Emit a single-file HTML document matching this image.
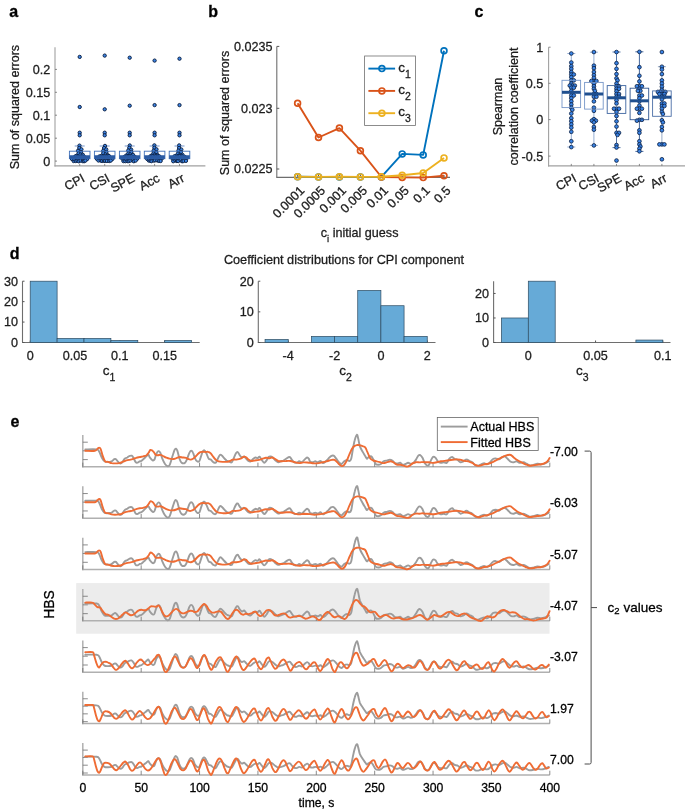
<!DOCTYPE html>
<html lang="en"><head><meta charset="utf-8"><title>Figure</title>
<style>html,body{margin:0;padding:0;background:#fff;}svg{display:block;}</style></head>
<body>
<svg width="685" height="810" viewBox="0 0 685 810" font-family="'Liberation Sans', Arial, Helvetica, sans-serif">
<rect width="685" height="810" fill="#fff"/>
<text x="9.30" y="16.70" font-size="16" text-anchor="start" fill="#000" stroke="#000" stroke-width="0.3" font-weight="bold" >a</text>
<text x="208.30" y="16.70" font-size="16" text-anchor="start" fill="#000" stroke="#000" stroke-width="0.3" font-weight="bold" >b</text>
<text x="474.60" y="16.70" font-size="16" text-anchor="start" fill="#000" stroke="#000" stroke-width="0.3" font-weight="bold" >c</text>
<text x="9.80" y="259.20" font-size="16" text-anchor="start" fill="#000" stroke="#000" stroke-width="0.3" font-weight="bold" >d</text>
<text x="10.40" y="426.80" font-size="16" text-anchor="start" fill="#000" stroke="#000" stroke-width="0.3" font-weight="bold" >e</text>
<line x1="55.00" y1="47.20" x2="55.00" y2="166.40" stroke="#a0a0a0" stroke-width="1.1" />
<line x1="54.50" y1="165.90" x2="205.40" y2="165.90" stroke="#a0a0a0" stroke-width="1.1" />
<line x1="55.00" y1="69.40" x2="57.00" y2="69.40" stroke="#6e6e6e" stroke-width="0.8" />
<text x="50.30" y="73.80" font-size="12.6" text-anchor="end" fill="#1c1c1c" stroke="#1c1c1c" stroke-width="0.28" >0.2</text>
<line x1="55.00" y1="92.30" x2="57.00" y2="92.30" stroke="#6e6e6e" stroke-width="0.8" />
<text x="50.30" y="96.70" font-size="12.6" text-anchor="end" fill="#1c1c1c" stroke="#1c1c1c" stroke-width="0.28" >0.15</text>
<line x1="55.00" y1="115.20" x2="57.00" y2="115.20" stroke="#6e6e6e" stroke-width="0.8" />
<text x="50.30" y="119.60" font-size="12.6" text-anchor="end" fill="#1c1c1c" stroke="#1c1c1c" stroke-width="0.28" >0.1</text>
<line x1="55.00" y1="138.20" x2="57.00" y2="138.20" stroke="#6e6e6e" stroke-width="0.8" />
<text x="50.30" y="142.60" font-size="12.6" text-anchor="end" fill="#1c1c1c" stroke="#1c1c1c" stroke-width="0.28" >0.05</text>
<line x1="55.00" y1="161.10" x2="57.00" y2="161.10" stroke="#6e6e6e" stroke-width="0.8" />
<text x="50.30" y="165.50" font-size="12.6" text-anchor="end" fill="#1c1c1c" stroke="#1c1c1c" stroke-width="0.28" >0</text>
<text x="19.50" y="107.10" font-size="12.5" text-anchor="middle" fill="#1c1c1c" stroke="#1c1c1c" stroke-width="0.28" transform="rotate(-90 19.50 107.10)" >Sum of squared errors</text>
<line x1="79.70" y1="165.90" x2="79.70" y2="163.90" stroke="#6e6e6e" stroke-width="0.8" />
<text x="85.70" y="180.80" font-size="12.6" text-anchor="end" fill="#1c1c1c" stroke="#1c1c1c" stroke-width="0.28" transform="rotate(-28 85.70 180.80)" >CPI</text>
<line x1="79.70" y1="151.00" x2="79.70" y2="146.00" stroke="#a9bfe0" stroke-width="0.9" />
<line x1="74.70" y1="146.00" x2="84.70" y2="146.00" stroke="#a9bfe0" stroke-width="1.6" />
<circle cx="79.70" cy="56.90" r="1.65" fill="#3a84e6" stroke="#0e2347" stroke-width="1.0"/>
<circle cx="79.70" cy="107.00" r="1.65" fill="#3a84e6" stroke="#0e2347" stroke-width="1.0"/>
<circle cx="79.70" cy="132.70" r="1.65" fill="#3a84e6" stroke="#0e2347" stroke-width="1.0"/>
<circle cx="79.70" cy="135.30" r="1.65" fill="#3a84e6" stroke="#0e2347" stroke-width="1.0"/>
<circle cx="79.49" cy="145.63" r="1.65" fill="#3a84e6" stroke="#0e2347" stroke-width="1.0"/>
<circle cx="79.30" cy="147.96" r="1.65" fill="#3a84e6" stroke="#0e2347" stroke-width="1.0"/>
<circle cx="81.40" cy="149.34" r="1.65" fill="#3a84e6" stroke="#0e2347" stroke-width="1.0"/>
<circle cx="78.01" cy="150.80" r="1.65" fill="#3a84e6" stroke="#0e2347" stroke-width="1.0"/>
<circle cx="80.91" cy="152.04" r="1.65" fill="#3a84e6" stroke="#0e2347" stroke-width="1.0"/>
<circle cx="78.60" cy="153.38" r="1.65" fill="#3a84e6" stroke="#0e2347" stroke-width="1.0"/>
<circle cx="80.57" cy="154.59" r="1.65" fill="#3a84e6" stroke="#0e2347" stroke-width="1.0"/>
<circle cx="82.81" cy="154.79" r="1.65" fill="#3a84e6" stroke="#0e2347" stroke-width="1.0"/>
<circle cx="76.61" cy="155.82" r="1.65" fill="#3a84e6" stroke="#0e2347" stroke-width="1.0"/>
<circle cx="75.13" cy="156.62" r="1.65" fill="#3a84e6" stroke="#0e2347" stroke-width="1.0"/>
<circle cx="72.00" cy="158.97" r="1.65" fill="#3a84e6" stroke="#0e2347" stroke-width="1.0"/>
<circle cx="73.67" cy="161.06" r="1.65" fill="#3a84e6" stroke="#0e2347" stroke-width="1.0"/>
<circle cx="75.79" cy="156.40" r="1.65" fill="#3a84e6" stroke="#0e2347" stroke-width="1.0"/>
<circle cx="74.49" cy="159.17" r="1.65" fill="#3a84e6" stroke="#0e2347" stroke-width="1.0"/>
<circle cx="75.70" cy="161.02" r="1.65" fill="#3a84e6" stroke="#0e2347" stroke-width="1.0"/>
<circle cx="78.06" cy="156.81" r="1.65" fill="#3a84e6" stroke="#0e2347" stroke-width="1.0"/>
<circle cx="76.89" cy="158.69" r="1.65" fill="#3a84e6" stroke="#0e2347" stroke-width="1.0"/>
<circle cx="77.51" cy="160.74" r="1.65" fill="#3a84e6" stroke="#0e2347" stroke-width="1.0"/>
<circle cx="78.61" cy="156.98" r="1.65" fill="#3a84e6" stroke="#0e2347" stroke-width="1.0"/>
<circle cx="78.38" cy="158.44" r="1.65" fill="#3a84e6" stroke="#0e2347" stroke-width="1.0"/>
<circle cx="78.76" cy="161.27" r="1.65" fill="#3a84e6" stroke="#0e2347" stroke-width="1.0"/>
<circle cx="80.19" cy="156.73" r="1.65" fill="#3a84e6" stroke="#0e2347" stroke-width="1.0"/>
<circle cx="80.62" cy="158.81" r="1.65" fill="#3a84e6" stroke="#0e2347" stroke-width="1.0"/>
<circle cx="80.66" cy="160.65" r="1.65" fill="#3a84e6" stroke="#0e2347" stroke-width="1.0"/>
<circle cx="82.17" cy="156.68" r="1.65" fill="#3a84e6" stroke="#0e2347" stroke-width="1.0"/>
<circle cx="83.24" cy="158.98" r="1.65" fill="#3a84e6" stroke="#0e2347" stroke-width="1.0"/>
<circle cx="82.82" cy="161.16" r="1.65" fill="#3a84e6" stroke="#0e2347" stroke-width="1.0"/>
<circle cx="82.80" cy="156.77" r="1.65" fill="#3a84e6" stroke="#0e2347" stroke-width="1.0"/>
<circle cx="85.35" cy="159.16" r="1.65" fill="#3a84e6" stroke="#0e2347" stroke-width="1.0"/>
<circle cx="84.14" cy="161.20" r="1.65" fill="#3a84e6" stroke="#0e2347" stroke-width="1.0"/>
<circle cx="84.22" cy="156.81" r="1.65" fill="#3a84e6" stroke="#0e2347" stroke-width="1.0"/>
<circle cx="87.04" cy="159.13" r="1.65" fill="#3a84e6" stroke="#0e2347" stroke-width="1.0"/>
<circle cx="85.39" cy="160.58" r="1.65" fill="#3a84e6" stroke="#0e2347" stroke-width="1.0"/>
<rect x="69.40" y="151.2" width="20.6" height="7.5" fill="none" stroke="#3f6fb8" stroke-width="0.9"/>
<line x1="69.40" y1="157.00" x2="90.00" y2="157.00" stroke="#2a5aa3" stroke-width="3.5" />
<line x1="104.70" y1="165.90" x2="104.70" y2="163.90" stroke="#6e6e6e" stroke-width="0.8" />
<text x="110.70" y="180.80" font-size="12.6" text-anchor="end" fill="#1c1c1c" stroke="#1c1c1c" stroke-width="0.28" transform="rotate(-28 110.70 180.80)" >CSI</text>
<line x1="104.70" y1="151.00" x2="104.70" y2="146.00" stroke="#a9bfe0" stroke-width="0.9" />
<line x1="99.70" y1="146.00" x2="109.70" y2="146.00" stroke="#a9bfe0" stroke-width="1.6" />
<circle cx="104.70" cy="55.60" r="1.65" fill="#3a84e6" stroke="#0e2347" stroke-width="1.0"/>
<circle cx="104.70" cy="109.30" r="1.65" fill="#3a84e6" stroke="#0e2347" stroke-width="1.0"/>
<circle cx="104.70" cy="132.70" r="1.65" fill="#3a84e6" stroke="#0e2347" stroke-width="1.0"/>
<circle cx="104.70" cy="135.30" r="1.65" fill="#3a84e6" stroke="#0e2347" stroke-width="1.0"/>
<circle cx="104.98" cy="145.89" r="1.65" fill="#3a84e6" stroke="#0e2347" stroke-width="1.0"/>
<circle cx="104.07" cy="148.08" r="1.65" fill="#3a84e6" stroke="#0e2347" stroke-width="1.0"/>
<circle cx="106.23" cy="149.39" r="1.65" fill="#3a84e6" stroke="#0e2347" stroke-width="1.0"/>
<circle cx="103.24" cy="150.76" r="1.65" fill="#3a84e6" stroke="#0e2347" stroke-width="1.0"/>
<circle cx="106.40" cy="151.93" r="1.65" fill="#3a84e6" stroke="#0e2347" stroke-width="1.0"/>
<circle cx="103.29" cy="153.13" r="1.65" fill="#3a84e6" stroke="#0e2347" stroke-width="1.0"/>
<circle cx="105.47" cy="154.50" r="1.65" fill="#3a84e6" stroke="#0e2347" stroke-width="1.0"/>
<circle cx="108.00" cy="155.29" r="1.65" fill="#3a84e6" stroke="#0e2347" stroke-width="1.0"/>
<circle cx="101.50" cy="155.90" r="1.65" fill="#3a84e6" stroke="#0e2347" stroke-width="1.0"/>
<circle cx="99.46" cy="156.41" r="1.65" fill="#3a84e6" stroke="#0e2347" stroke-width="1.0"/>
<circle cx="96.97" cy="158.90" r="1.65" fill="#3a84e6" stroke="#0e2347" stroke-width="1.0"/>
<circle cx="98.48" cy="160.50" r="1.65" fill="#3a84e6" stroke="#0e2347" stroke-width="1.0"/>
<circle cx="100.92" cy="156.71" r="1.65" fill="#3a84e6" stroke="#0e2347" stroke-width="1.0"/>
<circle cx="99.88" cy="158.34" r="1.65" fill="#3a84e6" stroke="#0e2347" stroke-width="1.0"/>
<circle cx="100.78" cy="160.61" r="1.65" fill="#3a84e6" stroke="#0e2347" stroke-width="1.0"/>
<circle cx="102.52" cy="157.00" r="1.65" fill="#3a84e6" stroke="#0e2347" stroke-width="1.0"/>
<circle cx="101.61" cy="158.76" r="1.65" fill="#3a84e6" stroke="#0e2347" stroke-width="1.0"/>
<circle cx="102.17" cy="160.94" r="1.65" fill="#3a84e6" stroke="#0e2347" stroke-width="1.0"/>
<circle cx="104.13" cy="156.66" r="1.65" fill="#3a84e6" stroke="#0e2347" stroke-width="1.0"/>
<circle cx="103.67" cy="159.24" r="1.65" fill="#3a84e6" stroke="#0e2347" stroke-width="1.0"/>
<circle cx="104.05" cy="160.73" r="1.65" fill="#3a84e6" stroke="#0e2347" stroke-width="1.0"/>
<circle cx="105.19" cy="156.34" r="1.65" fill="#3a84e6" stroke="#0e2347" stroke-width="1.0"/>
<circle cx="105.76" cy="159.28" r="1.65" fill="#3a84e6" stroke="#0e2347" stroke-width="1.0"/>
<circle cx="105.09" cy="160.85" r="1.65" fill="#3a84e6" stroke="#0e2347" stroke-width="1.0"/>
<circle cx="106.84" cy="156.52" r="1.65" fill="#3a84e6" stroke="#0e2347" stroke-width="1.0"/>
<circle cx="107.93" cy="158.32" r="1.65" fill="#3a84e6" stroke="#0e2347" stroke-width="1.0"/>
<circle cx="106.89" cy="160.93" r="1.65" fill="#3a84e6" stroke="#0e2347" stroke-width="1.0"/>
<circle cx="108.10" cy="156.73" r="1.65" fill="#3a84e6" stroke="#0e2347" stroke-width="1.0"/>
<circle cx="109.74" cy="158.98" r="1.65" fill="#3a84e6" stroke="#0e2347" stroke-width="1.0"/>
<circle cx="109.31" cy="161.01" r="1.65" fill="#3a84e6" stroke="#0e2347" stroke-width="1.0"/>
<circle cx="109.07" cy="156.12" r="1.65" fill="#3a84e6" stroke="#0e2347" stroke-width="1.0"/>
<circle cx="112.43" cy="158.98" r="1.65" fill="#3a84e6" stroke="#0e2347" stroke-width="1.0"/>
<circle cx="110.78" cy="160.55" r="1.65" fill="#3a84e6" stroke="#0e2347" stroke-width="1.0"/>
<rect x="94.40" y="151.2" width="20.6" height="7.5" fill="none" stroke="#3f6fb8" stroke-width="0.9"/>
<line x1="94.40" y1="157.00" x2="115.00" y2="157.00" stroke="#2a5aa3" stroke-width="3.5" />
<line x1="129.70" y1="165.90" x2="129.70" y2="163.90" stroke="#6e6e6e" stroke-width="0.8" />
<text x="135.70" y="180.80" font-size="12.6" text-anchor="end" fill="#1c1c1c" stroke="#1c1c1c" stroke-width="0.28" transform="rotate(-28 135.70 180.80)" >SPE</text>
<line x1="129.70" y1="151.00" x2="129.70" y2="146.00" stroke="#a9bfe0" stroke-width="0.9" />
<line x1="124.70" y1="146.00" x2="134.70" y2="146.00" stroke="#a9bfe0" stroke-width="1.6" />
<circle cx="129.70" cy="57.70" r="1.65" fill="#3a84e6" stroke="#0e2347" stroke-width="1.0"/>
<circle cx="129.70" cy="105.70" r="1.65" fill="#3a84e6" stroke="#0e2347" stroke-width="1.0"/>
<circle cx="129.70" cy="132.70" r="1.65" fill="#3a84e6" stroke="#0e2347" stroke-width="1.0"/>
<circle cx="129.70" cy="135.30" r="1.65" fill="#3a84e6" stroke="#0e2347" stroke-width="1.0"/>
<circle cx="129.77" cy="145.49" r="1.65" fill="#3a84e6" stroke="#0e2347" stroke-width="1.0"/>
<circle cx="129.29" cy="147.79" r="1.65" fill="#3a84e6" stroke="#0e2347" stroke-width="1.0"/>
<circle cx="131.20" cy="149.66" r="1.65" fill="#3a84e6" stroke="#0e2347" stroke-width="1.0"/>
<circle cx="128.24" cy="150.53" r="1.65" fill="#3a84e6" stroke="#0e2347" stroke-width="1.0"/>
<circle cx="131.32" cy="151.92" r="1.65" fill="#3a84e6" stroke="#0e2347" stroke-width="1.0"/>
<circle cx="128.26" cy="153.54" r="1.65" fill="#3a84e6" stroke="#0e2347" stroke-width="1.0"/>
<circle cx="130.15" cy="154.43" r="1.65" fill="#3a84e6" stroke="#0e2347" stroke-width="1.0"/>
<circle cx="132.94" cy="154.84" r="1.65" fill="#3a84e6" stroke="#0e2347" stroke-width="1.0"/>
<circle cx="126.25" cy="155.56" r="1.65" fill="#3a84e6" stroke="#0e2347" stroke-width="1.0"/>
<circle cx="124.49" cy="156.80" r="1.65" fill="#3a84e6" stroke="#0e2347" stroke-width="1.0"/>
<circle cx="122.27" cy="158.62" r="1.65" fill="#3a84e6" stroke="#0e2347" stroke-width="1.0"/>
<circle cx="123.51" cy="161.13" r="1.65" fill="#3a84e6" stroke="#0e2347" stroke-width="1.0"/>
<circle cx="125.93" cy="156.96" r="1.65" fill="#3a84e6" stroke="#0e2347" stroke-width="1.0"/>
<circle cx="124.66" cy="158.64" r="1.65" fill="#3a84e6" stroke="#0e2347" stroke-width="1.0"/>
<circle cx="125.28" cy="161.18" r="1.65" fill="#3a84e6" stroke="#0e2347" stroke-width="1.0"/>
<circle cx="127.26" cy="156.33" r="1.65" fill="#3a84e6" stroke="#0e2347" stroke-width="1.0"/>
<circle cx="126.28" cy="158.83" r="1.65" fill="#3a84e6" stroke="#0e2347" stroke-width="1.0"/>
<circle cx="127.41" cy="161.11" r="1.65" fill="#3a84e6" stroke="#0e2347" stroke-width="1.0"/>
<circle cx="128.79" cy="156.28" r="1.65" fill="#3a84e6" stroke="#0e2347" stroke-width="1.0"/>
<circle cx="128.80" cy="159.11" r="1.65" fill="#3a84e6" stroke="#0e2347" stroke-width="1.0"/>
<circle cx="128.67" cy="161.11" r="1.65" fill="#3a84e6" stroke="#0e2347" stroke-width="1.0"/>
<circle cx="130.18" cy="156.23" r="1.65" fill="#3a84e6" stroke="#0e2347" stroke-width="1.0"/>
<circle cx="130.51" cy="159.09" r="1.65" fill="#3a84e6" stroke="#0e2347" stroke-width="1.0"/>
<circle cx="130.49" cy="160.65" r="1.65" fill="#3a84e6" stroke="#0e2347" stroke-width="1.0"/>
<circle cx="131.67" cy="156.52" r="1.65" fill="#3a84e6" stroke="#0e2347" stroke-width="1.0"/>
<circle cx="132.47" cy="159.22" r="1.65" fill="#3a84e6" stroke="#0e2347" stroke-width="1.0"/>
<circle cx="132.77" cy="160.30" r="1.65" fill="#3a84e6" stroke="#0e2347" stroke-width="1.0"/>
<circle cx="133.62" cy="156.98" r="1.65" fill="#3a84e6" stroke="#0e2347" stroke-width="1.0"/>
<circle cx="135.34" cy="158.73" r="1.65" fill="#3a84e6" stroke="#0e2347" stroke-width="1.0"/>
<circle cx="133.80" cy="161.23" r="1.65" fill="#3a84e6" stroke="#0e2347" stroke-width="1.0"/>
<circle cx="134.85" cy="156.85" r="1.65" fill="#3a84e6" stroke="#0e2347" stroke-width="1.0"/>
<circle cx="136.98" cy="158.96" r="1.65" fill="#3a84e6" stroke="#0e2347" stroke-width="1.0"/>
<circle cx="135.67" cy="160.59" r="1.65" fill="#3a84e6" stroke="#0e2347" stroke-width="1.0"/>
<rect x="119.40" y="151.2" width="20.6" height="7.5" fill="none" stroke="#3f6fb8" stroke-width="0.9"/>
<line x1="119.40" y1="157.00" x2="140.00" y2="157.00" stroke="#2a5aa3" stroke-width="3.5" />
<line x1="154.60" y1="165.90" x2="154.60" y2="163.90" stroke="#6e6e6e" stroke-width="0.8" />
<text x="160.60" y="180.80" font-size="12.6" text-anchor="end" fill="#1c1c1c" stroke="#1c1c1c" stroke-width="0.28" transform="rotate(-28 160.60 180.80)" >Acc</text>
<line x1="154.60" y1="151.00" x2="154.60" y2="146.00" stroke="#a9bfe0" stroke-width="0.9" />
<line x1="149.60" y1="146.00" x2="159.60" y2="146.00" stroke="#a9bfe0" stroke-width="1.6" />
<circle cx="154.60" cy="60.60" r="1.65" fill="#3a84e6" stroke="#0e2347" stroke-width="1.0"/>
<circle cx="154.60" cy="105.10" r="1.65" fill="#3a84e6" stroke="#0e2347" stroke-width="1.0"/>
<circle cx="154.60" cy="132.70" r="1.65" fill="#3a84e6" stroke="#0e2347" stroke-width="1.0"/>
<circle cx="154.60" cy="135.30" r="1.65" fill="#3a84e6" stroke="#0e2347" stroke-width="1.0"/>
<circle cx="154.38" cy="145.34" r="1.65" fill="#3a84e6" stroke="#0e2347" stroke-width="1.0"/>
<circle cx="154.37" cy="147.77" r="1.65" fill="#3a84e6" stroke="#0e2347" stroke-width="1.0"/>
<circle cx="156.45" cy="149.33" r="1.65" fill="#3a84e6" stroke="#0e2347" stroke-width="1.0"/>
<circle cx="153.62" cy="150.72" r="1.65" fill="#3a84e6" stroke="#0e2347" stroke-width="1.0"/>
<circle cx="156.34" cy="152.44" r="1.65" fill="#3a84e6" stroke="#0e2347" stroke-width="1.0"/>
<circle cx="153.42" cy="153.45" r="1.65" fill="#3a84e6" stroke="#0e2347" stroke-width="1.0"/>
<circle cx="154.81" cy="154.75" r="1.65" fill="#3a84e6" stroke="#0e2347" stroke-width="1.0"/>
<circle cx="157.34" cy="154.88" r="1.65" fill="#3a84e6" stroke="#0e2347" stroke-width="1.0"/>
<circle cx="151.53" cy="155.61" r="1.65" fill="#3a84e6" stroke="#0e2347" stroke-width="1.0"/>
<circle cx="150.23" cy="156.51" r="1.65" fill="#3a84e6" stroke="#0e2347" stroke-width="1.0"/>
<circle cx="147.18" cy="158.91" r="1.65" fill="#3a84e6" stroke="#0e2347" stroke-width="1.0"/>
<circle cx="148.84" cy="160.55" r="1.65" fill="#3a84e6" stroke="#0e2347" stroke-width="1.0"/>
<circle cx="151.44" cy="156.58" r="1.65" fill="#3a84e6" stroke="#0e2347" stroke-width="1.0"/>
<circle cx="149.11" cy="158.65" r="1.65" fill="#3a84e6" stroke="#0e2347" stroke-width="1.0"/>
<circle cx="150.54" cy="160.83" r="1.65" fill="#3a84e6" stroke="#0e2347" stroke-width="1.0"/>
<circle cx="152.83" cy="156.27" r="1.65" fill="#3a84e6" stroke="#0e2347" stroke-width="1.0"/>
<circle cx="151.79" cy="159.22" r="1.65" fill="#3a84e6" stroke="#0e2347" stroke-width="1.0"/>
<circle cx="151.48" cy="161.12" r="1.65" fill="#3a84e6" stroke="#0e2347" stroke-width="1.0"/>
<circle cx="154.28" cy="156.73" r="1.65" fill="#3a84e6" stroke="#0e2347" stroke-width="1.0"/>
<circle cx="153.33" cy="158.35" r="1.65" fill="#3a84e6" stroke="#0e2347" stroke-width="1.0"/>
<circle cx="153.75" cy="160.57" r="1.65" fill="#3a84e6" stroke="#0e2347" stroke-width="1.0"/>
<circle cx="155.26" cy="156.52" r="1.65" fill="#3a84e6" stroke="#0e2347" stroke-width="1.0"/>
<circle cx="155.14" cy="159.08" r="1.65" fill="#3a84e6" stroke="#0e2347" stroke-width="1.0"/>
<circle cx="155.10" cy="160.35" r="1.65" fill="#3a84e6" stroke="#0e2347" stroke-width="1.0"/>
<circle cx="156.23" cy="156.22" r="1.65" fill="#3a84e6" stroke="#0e2347" stroke-width="1.0"/>
<circle cx="158.07" cy="159.27" r="1.65" fill="#3a84e6" stroke="#0e2347" stroke-width="1.0"/>
<circle cx="157.23" cy="160.39" r="1.65" fill="#3a84e6" stroke="#0e2347" stroke-width="1.0"/>
<circle cx="157.85" cy="156.42" r="1.65" fill="#3a84e6" stroke="#0e2347" stroke-width="1.0"/>
<circle cx="159.93" cy="158.65" r="1.65" fill="#3a84e6" stroke="#0e2347" stroke-width="1.0"/>
<circle cx="158.84" cy="160.89" r="1.65" fill="#3a84e6" stroke="#0e2347" stroke-width="1.0"/>
<circle cx="159.24" cy="156.29" r="1.65" fill="#3a84e6" stroke="#0e2347" stroke-width="1.0"/>
<circle cx="161.92" cy="158.42" r="1.65" fill="#3a84e6" stroke="#0e2347" stroke-width="1.0"/>
<circle cx="160.61" cy="161.02" r="1.65" fill="#3a84e6" stroke="#0e2347" stroke-width="1.0"/>
<rect x="144.30" y="151.2" width="20.6" height="7.5" fill="none" stroke="#3f6fb8" stroke-width="0.9"/>
<line x1="144.30" y1="157.00" x2="164.90" y2="157.00" stroke="#2a5aa3" stroke-width="3.5" />
<line x1="179.50" y1="165.90" x2="179.50" y2="163.90" stroke="#6e6e6e" stroke-width="0.8" />
<text x="185.50" y="180.80" font-size="12.6" text-anchor="end" fill="#1c1c1c" stroke="#1c1c1c" stroke-width="0.28" transform="rotate(-28 185.50 180.80)" >Arr</text>
<line x1="179.50" y1="151.00" x2="179.50" y2="146.00" stroke="#a9bfe0" stroke-width="0.9" />
<line x1="174.50" y1="146.00" x2="184.50" y2="146.00" stroke="#a9bfe0" stroke-width="1.6" />
<circle cx="179.50" cy="58.70" r="1.65" fill="#3a84e6" stroke="#0e2347" stroke-width="1.0"/>
<circle cx="179.50" cy="105.10" r="1.65" fill="#3a84e6" stroke="#0e2347" stroke-width="1.0"/>
<circle cx="179.50" cy="132.70" r="1.65" fill="#3a84e6" stroke="#0e2347" stroke-width="1.0"/>
<circle cx="179.50" cy="135.30" r="1.65" fill="#3a84e6" stroke="#0e2347" stroke-width="1.0"/>
<circle cx="179.16" cy="145.41" r="1.65" fill="#3a84e6" stroke="#0e2347" stroke-width="1.0"/>
<circle cx="179.10" cy="147.96" r="1.65" fill="#3a84e6" stroke="#0e2347" stroke-width="1.0"/>
<circle cx="181.33" cy="149.53" r="1.65" fill="#3a84e6" stroke="#0e2347" stroke-width="1.0"/>
<circle cx="178.44" cy="150.67" r="1.65" fill="#3a84e6" stroke="#0e2347" stroke-width="1.0"/>
<circle cx="180.85" cy="152.12" r="1.65" fill="#3a84e6" stroke="#0e2347" stroke-width="1.0"/>
<circle cx="178.00" cy="153.52" r="1.65" fill="#3a84e6" stroke="#0e2347" stroke-width="1.0"/>
<circle cx="180.04" cy="154.72" r="1.65" fill="#3a84e6" stroke="#0e2347" stroke-width="1.0"/>
<circle cx="182.47" cy="154.85" r="1.65" fill="#3a84e6" stroke="#0e2347" stroke-width="1.0"/>
<circle cx="176.33" cy="155.72" r="1.65" fill="#3a84e6" stroke="#0e2347" stroke-width="1.0"/>
<circle cx="174.61" cy="156.17" r="1.65" fill="#3a84e6" stroke="#0e2347" stroke-width="1.0"/>
<circle cx="172.62" cy="158.73" r="1.65" fill="#3a84e6" stroke="#0e2347" stroke-width="1.0"/>
<circle cx="173.25" cy="161.24" r="1.65" fill="#3a84e6" stroke="#0e2347" stroke-width="1.0"/>
<circle cx="176.35" cy="157.00" r="1.65" fill="#3a84e6" stroke="#0e2347" stroke-width="1.0"/>
<circle cx="174.28" cy="158.56" r="1.65" fill="#3a84e6" stroke="#0e2347" stroke-width="1.0"/>
<circle cx="175.44" cy="160.42" r="1.65" fill="#3a84e6" stroke="#0e2347" stroke-width="1.0"/>
<circle cx="177.82" cy="156.76" r="1.65" fill="#3a84e6" stroke="#0e2347" stroke-width="1.0"/>
<circle cx="176.56" cy="159.09" r="1.65" fill="#3a84e6" stroke="#0e2347" stroke-width="1.0"/>
<circle cx="176.94" cy="161.03" r="1.65" fill="#3a84e6" stroke="#0e2347" stroke-width="1.0"/>
<circle cx="178.90" cy="156.20" r="1.65" fill="#3a84e6" stroke="#0e2347" stroke-width="1.0"/>
<circle cx="178.11" cy="158.30" r="1.65" fill="#3a84e6" stroke="#0e2347" stroke-width="1.0"/>
<circle cx="178.17" cy="161.07" r="1.65" fill="#3a84e6" stroke="#0e2347" stroke-width="1.0"/>
<circle cx="179.79" cy="156.19" r="1.65" fill="#3a84e6" stroke="#0e2347" stroke-width="1.0"/>
<circle cx="180.22" cy="159.18" r="1.65" fill="#3a84e6" stroke="#0e2347" stroke-width="1.0"/>
<circle cx="180.72" cy="160.32" r="1.65" fill="#3a84e6" stroke="#0e2347" stroke-width="1.0"/>
<circle cx="181.91" cy="156.22" r="1.65" fill="#3a84e6" stroke="#0e2347" stroke-width="1.0"/>
<circle cx="182.95" cy="158.97" r="1.65" fill="#3a84e6" stroke="#0e2347" stroke-width="1.0"/>
<circle cx="182.20" cy="161.25" r="1.65" fill="#3a84e6" stroke="#0e2347" stroke-width="1.0"/>
<circle cx="182.47" cy="156.90" r="1.65" fill="#3a84e6" stroke="#0e2347" stroke-width="1.0"/>
<circle cx="184.70" cy="159.07" r="1.65" fill="#3a84e6" stroke="#0e2347" stroke-width="1.0"/>
<circle cx="183.48" cy="161.02" r="1.65" fill="#3a84e6" stroke="#0e2347" stroke-width="1.0"/>
<circle cx="184.75" cy="156.85" r="1.65" fill="#3a84e6" stroke="#0e2347" stroke-width="1.0"/>
<circle cx="186.59" cy="158.36" r="1.65" fill="#3a84e6" stroke="#0e2347" stroke-width="1.0"/>
<circle cx="185.95" cy="160.86" r="1.65" fill="#3a84e6" stroke="#0e2347" stroke-width="1.0"/>
<rect x="169.20" y="151.2" width="20.6" height="7.5" fill="none" stroke="#3f6fb8" stroke-width="0.9"/>
<line x1="169.20" y1="157.00" x2="189.80" y2="157.00" stroke="#2a5aa3" stroke-width="3.5" />
<line x1="276.80" y1="46.40" x2="276.80" y2="177.40" stroke="#6e6e6e" stroke-width="1.1" />
<line x1="276.30" y1="177.40" x2="450.00" y2="177.40" stroke="#6e6e6e" stroke-width="1.1" />
<line x1="276.80" y1="46.40" x2="279.30" y2="46.40" stroke="#555" stroke-width="1" />
<text x="272.60" y="50.80" font-size="12.6" text-anchor="end" fill="#1c1c1c" stroke="#1c1c1c" stroke-width="0.28" >0.0235</text>
<line x1="276.80" y1="108.30" x2="279.30" y2="108.30" stroke="#555" stroke-width="1" />
<text x="272.60" y="112.70" font-size="12.6" text-anchor="end" fill="#1c1c1c" stroke="#1c1c1c" stroke-width="0.28" >0.023</text>
<line x1="276.80" y1="169.00" x2="279.30" y2="169.00" stroke="#555" stroke-width="1" />
<text x="272.60" y="173.40" font-size="12.6" text-anchor="end" fill="#1c1c1c" stroke="#1c1c1c" stroke-width="0.28" >0.0225</text>
<text x="228.50" y="113.00" font-size="12.5" text-anchor="middle" fill="#1c1c1c" stroke="#1c1c1c" stroke-width="0.28" transform="rotate(-90 228.50 113.00)" >Sum of squared errors</text>
<line x1="297.60" y1="177.40" x2="297.60" y2="174.90" stroke="#555" stroke-width="1" />
<text x="305.10" y="191.40" font-size="12.6" text-anchor="end" fill="#1c1c1c" stroke="#1c1c1c" stroke-width="0.28" transform="rotate(-45 305.10 191.40)" >0.0001</text>
<line x1="318.50" y1="177.40" x2="318.50" y2="174.90" stroke="#555" stroke-width="1" />
<text x="326.00" y="191.40" font-size="12.6" text-anchor="end" fill="#1c1c1c" stroke="#1c1c1c" stroke-width="0.28" transform="rotate(-45 326.00 191.40)" >0.0005</text>
<line x1="339.40" y1="177.40" x2="339.40" y2="174.90" stroke="#555" stroke-width="1" />
<text x="346.90" y="191.40" font-size="12.6" text-anchor="end" fill="#1c1c1c" stroke="#1c1c1c" stroke-width="0.28" transform="rotate(-45 346.90 191.40)" >0.001</text>
<line x1="360.40" y1="177.40" x2="360.40" y2="174.90" stroke="#555" stroke-width="1" />
<text x="367.90" y="191.40" font-size="12.6" text-anchor="end" fill="#1c1c1c" stroke="#1c1c1c" stroke-width="0.28" transform="rotate(-45 367.90 191.40)" >0.005</text>
<line x1="381.40" y1="177.40" x2="381.40" y2="174.90" stroke="#555" stroke-width="1" />
<text x="388.90" y="191.40" font-size="12.6" text-anchor="end" fill="#1c1c1c" stroke="#1c1c1c" stroke-width="0.28" transform="rotate(-45 388.90 191.40)" >0.01</text>
<line x1="402.20" y1="177.40" x2="402.20" y2="174.90" stroke="#555" stroke-width="1" />
<text x="409.70" y="191.40" font-size="12.6" text-anchor="end" fill="#1c1c1c" stroke="#1c1c1c" stroke-width="0.28" transform="rotate(-45 409.70 191.40)" >0.05</text>
<line x1="423.20" y1="177.40" x2="423.20" y2="174.90" stroke="#555" stroke-width="1" />
<text x="430.70" y="191.40" font-size="12.6" text-anchor="end" fill="#1c1c1c" stroke="#1c1c1c" stroke-width="0.28" transform="rotate(-45 430.70 191.40)" >0.1</text>
<line x1="444.00" y1="177.40" x2="444.00" y2="174.90" stroke="#555" stroke-width="1" />
<text x="451.50" y="191.40" font-size="12.6" text-anchor="end" fill="#1c1c1c" stroke="#1c1c1c" stroke-width="0.28" transform="rotate(-45 451.50 191.40)" >0.5</text>
<text x="359.6" y="237" font-size="12.6" text-anchor="middle" fill="#1c1c1c" stroke="#1c1c1c" stroke-width="0.28">c<tspan font-size="9.5" dy="5">i</tspan><tspan dy="-5"> initial guess</tspan></text>
<polyline points="297.60,176.80 318.50,176.90 339.40,177.00 360.40,176.90 381.40,176.90 402.20,153.90 423.20,154.90 444.00,50.80" fill="none" stroke="#0072bd" stroke-width="1.9" stroke-linejoin="round"/>
<circle cx="297.60" cy="176.80" r="2.9" fill="none" stroke="#0072bd" stroke-width="1.7"/>
<circle cx="318.50" cy="176.90" r="2.9" fill="none" stroke="#0072bd" stroke-width="1.7"/>
<circle cx="339.40" cy="177.00" r="2.9" fill="none" stroke="#0072bd" stroke-width="1.7"/>
<circle cx="360.40" cy="176.90" r="2.9" fill="none" stroke="#0072bd" stroke-width="1.7"/>
<circle cx="381.40" cy="176.90" r="2.9" fill="none" stroke="#0072bd" stroke-width="1.7"/>
<circle cx="402.20" cy="153.90" r="2.9" fill="none" stroke="#0072bd" stroke-width="1.7"/>
<circle cx="423.20" cy="154.90" r="2.9" fill="none" stroke="#0072bd" stroke-width="1.7"/>
<circle cx="444.00" cy="50.80" r="2.9" fill="none" stroke="#0072bd" stroke-width="1.7"/>
<polyline points="297.60,103.30 318.50,137.50 339.40,128.10 360.40,150.70 381.40,177.00 402.20,177.40 423.20,177.60 444.00,175.70" fill="none" stroke="#d95319" stroke-width="1.9" stroke-linejoin="round"/>
<circle cx="297.60" cy="103.30" r="2.9" fill="none" stroke="#d95319" stroke-width="1.7"/>
<circle cx="318.50" cy="137.50" r="2.9" fill="none" stroke="#d95319" stroke-width="1.7"/>
<circle cx="339.40" cy="128.10" r="2.9" fill="none" stroke="#d95319" stroke-width="1.7"/>
<circle cx="360.40" cy="150.70" r="2.9" fill="none" stroke="#d95319" stroke-width="1.7"/>
<circle cx="381.40" cy="177.00" r="2.9" fill="none" stroke="#d95319" stroke-width="1.7"/>
<circle cx="402.20" cy="177.40" r="2.9" fill="none" stroke="#d95319" stroke-width="1.7"/>
<circle cx="423.20" cy="177.60" r="2.9" fill="none" stroke="#d95319" stroke-width="1.7"/>
<circle cx="444.00" cy="175.70" r="2.9" fill="none" stroke="#d95319" stroke-width="1.7"/>
<polyline points="297.60,176.80 318.50,176.90 339.40,176.80 360.40,176.90 381.40,176.80 402.20,175.30 423.20,173.00 444.00,157.90" fill="none" stroke="#edb120" stroke-width="1.9" stroke-linejoin="round"/>
<circle cx="297.60" cy="176.80" r="2.9" fill="none" stroke="#edb120" stroke-width="1.7"/>
<circle cx="318.50" cy="176.90" r="2.9" fill="none" stroke="#edb120" stroke-width="1.7"/>
<circle cx="339.40" cy="176.80" r="2.9" fill="none" stroke="#edb120" stroke-width="1.7"/>
<circle cx="360.40" cy="176.90" r="2.9" fill="none" stroke="#edb120" stroke-width="1.7"/>
<circle cx="381.40" cy="176.80" r="2.9" fill="none" stroke="#edb120" stroke-width="1.7"/>
<circle cx="402.20" cy="175.30" r="2.9" fill="none" stroke="#edb120" stroke-width="1.7"/>
<circle cx="423.20" cy="173.00" r="2.9" fill="none" stroke="#edb120" stroke-width="1.7"/>
<circle cx="444.00" cy="157.90" r="2.9" fill="none" stroke="#edb120" stroke-width="1.7"/>
<rect x="364.6" y="56" width="50.9" height="69.5" fill="#fff" stroke="#707070" stroke-width="0.8"/>
<line x1="368.40" y1="68.60" x2="395.10" y2="68.60" stroke="#0072bd" stroke-width="1.9" />
<circle cx="381.9" cy="68.6" r="2.9" fill="none" stroke="#0072bd" stroke-width="1.7"/>
<text x="398.2" y="71.8" font-size="13.5" fill="#1c1c1c" stroke="#1c1c1c" stroke-width="0.28">c<tspan font-size="10.5" dy="6">1</tspan></text>
<line x1="368.40" y1="90.90" x2="395.10" y2="90.90" stroke="#d95319" stroke-width="1.9" />
<circle cx="381.9" cy="90.9" r="2.9" fill="none" stroke="#d95319" stroke-width="1.7"/>
<text x="398.2" y="94.1" font-size="13.5" fill="#1c1c1c" stroke="#1c1c1c" stroke-width="0.28">c<tspan font-size="10.5" dy="6">2</tspan></text>
<line x1="368.40" y1="113.20" x2="395.10" y2="113.20" stroke="#edb120" stroke-width="1.9" />
<circle cx="381.9" cy="113.2" r="2.9" fill="none" stroke="#edb120" stroke-width="1.7"/>
<text x="398.2" y="116.4" font-size="13.5" fill="#1c1c1c" stroke="#1c1c1c" stroke-width="0.28">c<tspan font-size="10.5" dy="6">3</tspan></text>
<line x1="548.60" y1="47.20" x2="548.60" y2="166.40" stroke="#a0a0a0" stroke-width="1.1" />
<line x1="548.10" y1="165.90" x2="685.00" y2="165.90" stroke="#a0a0a0" stroke-width="1.1" />
<line x1="548.60" y1="47.20" x2="550.60" y2="47.20" stroke="#6e6e6e" stroke-width="0.8" />
<text x="543.30" y="51.60" font-size="12.6" text-anchor="end" fill="#1c1c1c" stroke="#1c1c1c" stroke-width="0.28" >1</text>
<line x1="548.60" y1="83.30" x2="550.60" y2="83.30" stroke="#6e6e6e" stroke-width="0.8" />
<text x="543.30" y="87.70" font-size="12.6" text-anchor="end" fill="#1c1c1c" stroke="#1c1c1c" stroke-width="0.28" >0.5</text>
<line x1="548.60" y1="119.60" x2="550.60" y2="119.60" stroke="#6e6e6e" stroke-width="0.8" />
<text x="543.30" y="124.00" font-size="12.6" text-anchor="end" fill="#1c1c1c" stroke="#1c1c1c" stroke-width="0.28" >0</text>
<line x1="548.60" y1="156.10" x2="550.60" y2="156.10" stroke="#6e6e6e" stroke-width="0.8" />
<text x="543.30" y="160.50" font-size="12.6" text-anchor="end" fill="#1c1c1c" stroke="#1c1c1c" stroke-width="0.28" >-0.5</text>
<text x="502.20" y="106.50" font-size="12.5" text-anchor="middle" fill="#1c1c1c" stroke="#1c1c1c" stroke-width="0.28" transform="rotate(-90 502.20 106.50)" >Spearman</text>
<text x="517.60" y="106.50" font-size="12.5" text-anchor="middle" fill="#1c1c1c" stroke="#1c1c1c" stroke-width="0.28" transform="rotate(-90 517.60 106.50)" >correlation coefficient</text>
<line x1="571.30" y1="165.90" x2="571.30" y2="163.90" stroke="#6e6e6e" stroke-width="0.8" />
<text x="577.30" y="180.80" font-size="12.6" text-anchor="end" fill="#1c1c1c" stroke="#1c1c1c" stroke-width="0.28" transform="rotate(-28 577.30 180.80)" >CPI</text>
<line x1="571.30" y1="80.30" x2="571.30" y2="53.50" stroke="#8aa5cf" stroke-width="0.9" />
<line x1="571.30" y1="107.60" x2="571.30" y2="147.00" stroke="#8aa5cf" stroke-width="0.9" />
<line x1="567.30" y1="53.50" x2="575.30" y2="53.50" stroke="#8aa5cf" stroke-width="0.9" />
<line x1="567.30" y1="147.00" x2="575.30" y2="147.00" stroke="#8aa5cf" stroke-width="0.9" />
<circle cx="571.30" cy="53.50" r="1.85" fill="#3a84e6" stroke="#0e2347" stroke-width="0.85"/>
<circle cx="571.30" cy="62.53" r="1.85" fill="#3a84e6" stroke="#0e2347" stroke-width="0.85"/>
<circle cx="571.30" cy="66.10" r="1.85" fill="#3a84e6" stroke="#0e2347" stroke-width="0.85"/>
<circle cx="571.30" cy="68.82" r="1.85" fill="#3a84e6" stroke="#0e2347" stroke-width="0.85"/>
<circle cx="571.30" cy="71.97" r="1.85" fill="#3a84e6" stroke="#0e2347" stroke-width="0.85"/>
<circle cx="571.30" cy="74.49" r="1.85" fill="#3a84e6" stroke="#0e2347" stroke-width="0.85"/>
<circle cx="573.80" cy="74.49" r="1.85" fill="#3a84e6" stroke="#0e2347" stroke-width="0.85"/>
<circle cx="571.30" cy="77.22" r="1.85" fill="#3a84e6" stroke="#0e2347" stroke-width="0.85"/>
<circle cx="571.30" cy="80.37" r="1.85" fill="#3a84e6" stroke="#0e2347" stroke-width="0.85"/>
<circle cx="573.80" cy="80.37" r="1.85" fill="#3a84e6" stroke="#0e2347" stroke-width="0.85"/>
<circle cx="571.30" cy="83.52" r="1.85" fill="#3a84e6" stroke="#0e2347" stroke-width="0.85"/>
<circle cx="572.30" cy="85.61" r="1.85" fill="#3a84e6" stroke="#0e2347" stroke-width="0.85"/>
<circle cx="569.80" cy="85.61" r="1.85" fill="#3a84e6" stroke="#0e2347" stroke-width="0.85"/>
<circle cx="574.80" cy="85.61" r="1.85" fill="#3a84e6" stroke="#0e2347" stroke-width="0.85"/>
<circle cx="571.30" cy="87.71" r="1.85" fill="#3a84e6" stroke="#0e2347" stroke-width="0.85"/>
<circle cx="573.80" cy="87.71" r="1.85" fill="#3a84e6" stroke="#0e2347" stroke-width="0.85"/>
<circle cx="571.30" cy="90.86" r="1.85" fill="#3a84e6" stroke="#0e2347" stroke-width="0.85"/>
<circle cx="572.30" cy="92.96" r="1.85" fill="#3a84e6" stroke="#0e2347" stroke-width="0.85"/>
<circle cx="571.30" cy="95.48" r="1.85" fill="#3a84e6" stroke="#0e2347" stroke-width="0.85"/>
<circle cx="573.80" cy="95.48" r="1.85" fill="#3a84e6" stroke="#0e2347" stroke-width="0.85"/>
<circle cx="571.30" cy="98.21" r="1.85" fill="#3a84e6" stroke="#0e2347" stroke-width="0.85"/>
<circle cx="571.30" cy="101.35" r="1.85" fill="#3a84e6" stroke="#0e2347" stroke-width="0.85"/>
<circle cx="571.30" cy="104.50" r="1.85" fill="#3a84e6" stroke="#0e2347" stroke-width="0.85"/>
<circle cx="571.30" cy="107.65" r="1.85" fill="#3a84e6" stroke="#0e2347" stroke-width="0.85"/>
<circle cx="572.30" cy="109.75" r="1.85" fill="#3a84e6" stroke="#0e2347" stroke-width="0.85"/>
<circle cx="571.30" cy="113.53" r="1.85" fill="#3a84e6" stroke="#0e2347" stroke-width="0.85"/>
<circle cx="571.30" cy="118.14" r="1.85" fill="#3a84e6" stroke="#0e2347" stroke-width="0.85"/>
<circle cx="571.30" cy="121.29" r="1.85" fill="#3a84e6" stroke="#0e2347" stroke-width="0.85"/>
<circle cx="571.30" cy="124.44" r="1.85" fill="#3a84e6" stroke="#0e2347" stroke-width="0.85"/>
<circle cx="571.30" cy="127.59" r="1.85" fill="#3a84e6" stroke="#0e2347" stroke-width="0.85"/>
<circle cx="571.30" cy="131.78" r="1.85" fill="#3a84e6" stroke="#0e2347" stroke-width="0.85"/>
<circle cx="571.30" cy="141.23" r="1.85" fill="#3a84e6" stroke="#0e2347" stroke-width="0.85"/>
<circle cx="571.30" cy="147.10" r="1.85" fill="#3a84e6" stroke="#0e2347" stroke-width="0.85"/>
<rect x="562.00" y="80.3" width="18.6" height="27.30" fill="none" stroke="#7696c8" stroke-width="0.9"/>
<line x1="562.00" y1="92.30" x2="580.60" y2="92.30" stroke="#1f4f8f" stroke-width="3" />
<line x1="593.90" y1="165.90" x2="593.90" y2="163.90" stroke="#6e6e6e" stroke-width="0.8" />
<text x="599.90" y="180.80" font-size="12.6" text-anchor="end" fill="#1c1c1c" stroke="#1c1c1c" stroke-width="0.28" transform="rotate(-28 599.90 180.80)" >CSI</text>
<line x1="593.90" y1="82.40" x2="593.90" y2="52.20" stroke="#8aa5cf" stroke-width="0.9" />
<line x1="593.90" y1="109.10" x2="593.90" y2="145.40" stroke="#8aa5cf" stroke-width="0.9" />
<line x1="589.90" y1="52.20" x2="597.90" y2="52.20" stroke="#8aa5cf" stroke-width="0.9" />
<line x1="589.90" y1="145.40" x2="597.90" y2="145.40" stroke="#8aa5cf" stroke-width="0.9" />
<circle cx="593.90" cy="52.04" r="1.85" fill="#3a84e6" stroke="#0e2347" stroke-width="0.85"/>
<circle cx="593.90" cy="65.68" r="1.85" fill="#3a84e6" stroke="#0e2347" stroke-width="0.85"/>
<circle cx="593.90" cy="68.20" r="1.85" fill="#3a84e6" stroke="#0e2347" stroke-width="0.85"/>
<circle cx="593.90" cy="71.97" r="1.85" fill="#3a84e6" stroke="#0e2347" stroke-width="0.85"/>
<circle cx="593.90" cy="75.12" r="1.85" fill="#3a84e6" stroke="#0e2347" stroke-width="0.85"/>
<circle cx="593.90" cy="77.85" r="1.85" fill="#3a84e6" stroke="#0e2347" stroke-width="0.85"/>
<circle cx="593.90" cy="81.00" r="1.85" fill="#3a84e6" stroke="#0e2347" stroke-width="0.85"/>
<circle cx="596.40" cy="81.00" r="1.85" fill="#3a84e6" stroke="#0e2347" stroke-width="0.85"/>
<circle cx="591.40" cy="81.00" r="1.85" fill="#3a84e6" stroke="#0e2347" stroke-width="0.85"/>
<circle cx="593.90" cy="83.52" r="1.85" fill="#3a84e6" stroke="#0e2347" stroke-width="0.85"/>
<circle cx="593.90" cy="86.24" r="1.85" fill="#3a84e6" stroke="#0e2347" stroke-width="0.85"/>
<circle cx="593.90" cy="88.76" r="1.85" fill="#3a84e6" stroke="#0e2347" stroke-width="0.85"/>
<circle cx="594.90" cy="90.86" r="1.85" fill="#3a84e6" stroke="#0e2347" stroke-width="0.85"/>
<circle cx="593.90" cy="94.01" r="1.85" fill="#3a84e6" stroke="#0e2347" stroke-width="0.85"/>
<circle cx="596.40" cy="94.01" r="1.85" fill="#3a84e6" stroke="#0e2347" stroke-width="0.85"/>
<circle cx="593.90" cy="96.74" r="1.85" fill="#3a84e6" stroke="#0e2347" stroke-width="0.85"/>
<circle cx="596.40" cy="96.74" r="1.85" fill="#3a84e6" stroke="#0e2347" stroke-width="0.85"/>
<circle cx="593.90" cy="101.35" r="1.85" fill="#3a84e6" stroke="#0e2347" stroke-width="0.85"/>
<circle cx="593.90" cy="107.65" r="1.85" fill="#3a84e6" stroke="#0e2347" stroke-width="0.85"/>
<circle cx="593.90" cy="110.80" r="1.85" fill="#3a84e6" stroke="#0e2347" stroke-width="0.85"/>
<circle cx="593.90" cy="119.19" r="1.85" fill="#3a84e6" stroke="#0e2347" stroke-width="0.85"/>
<circle cx="595.90" cy="120.66" r="1.85" fill="#3a84e6" stroke="#0e2347" stroke-width="0.85"/>
<circle cx="591.90" cy="120.66" r="1.85" fill="#3a84e6" stroke="#0e2347" stroke-width="0.85"/>
<circle cx="593.90" cy="122.34" r="1.85" fill="#3a84e6" stroke="#0e2347" stroke-width="0.85"/>
<circle cx="593.90" cy="126.96" r="1.85" fill="#3a84e6" stroke="#0e2347" stroke-width="0.85"/>
<circle cx="593.90" cy="129.69" r="1.85" fill="#3a84e6" stroke="#0e2347" stroke-width="0.85"/>
<circle cx="593.90" cy="145.42" r="1.85" fill="#3a84e6" stroke="#0e2347" stroke-width="0.85"/>
<rect x="584.60" y="82.4" width="18.6" height="26.70" fill="none" stroke="#7696c8" stroke-width="0.9"/>
<line x1="584.60" y1="94.00" x2="603.20" y2="94.00" stroke="#1f4f8f" stroke-width="3" />
<line x1="616.50" y1="165.90" x2="616.50" y2="163.90" stroke="#6e6e6e" stroke-width="0.8" />
<text x="622.50" y="180.80" font-size="12.6" text-anchor="end" fill="#1c1c1c" stroke="#1c1c1c" stroke-width="0.28" transform="rotate(-28 622.50 180.80)" >SPE</text>
<line x1="616.50" y1="85.60" x2="616.50" y2="52.00" stroke="#41659b" stroke-width="0.9" />
<line x1="616.50" y1="113.40" x2="616.50" y2="147.60" stroke="#41659b" stroke-width="0.9" />
<line x1="612.50" y1="52.00" x2="620.50" y2="52.00" stroke="#41659b" stroke-width="0.9" />
<line x1="612.50" y1="147.60" x2="620.50" y2="147.60" stroke="#41659b" stroke-width="0.9" />
<circle cx="616.50" cy="52.04" r="1.85" fill="#3a84e6" stroke="#0e2347" stroke-width="0.85"/>
<circle cx="616.50" cy="63.16" r="1.85" fill="#3a84e6" stroke="#0e2347" stroke-width="0.85"/>
<circle cx="616.50" cy="68.82" r="1.85" fill="#3a84e6" stroke="#0e2347" stroke-width="0.85"/>
<circle cx="616.50" cy="74.07" r="1.85" fill="#3a84e6" stroke="#0e2347" stroke-width="0.85"/>
<circle cx="616.50" cy="78.27" r="1.85" fill="#3a84e6" stroke="#0e2347" stroke-width="0.85"/>
<circle cx="617.50" cy="80.37" r="1.85" fill="#3a84e6" stroke="#0e2347" stroke-width="0.85"/>
<circle cx="616.50" cy="83.52" r="1.85" fill="#3a84e6" stroke="#0e2347" stroke-width="0.85"/>
<circle cx="616.50" cy="86.24" r="1.85" fill="#3a84e6" stroke="#0e2347" stroke-width="0.85"/>
<circle cx="619.00" cy="86.24" r="1.85" fill="#3a84e6" stroke="#0e2347" stroke-width="0.85"/>
<circle cx="616.50" cy="88.76" r="1.85" fill="#3a84e6" stroke="#0e2347" stroke-width="0.85"/>
<circle cx="619.00" cy="88.76" r="1.85" fill="#3a84e6" stroke="#0e2347" stroke-width="0.85"/>
<circle cx="616.50" cy="91.28" r="1.85" fill="#3a84e6" stroke="#0e2347" stroke-width="0.85"/>
<circle cx="616.50" cy="94.01" r="1.85" fill="#3a84e6" stroke="#0e2347" stroke-width="0.85"/>
<circle cx="619.00" cy="94.01" r="1.85" fill="#3a84e6" stroke="#0e2347" stroke-width="0.85"/>
<circle cx="616.50" cy="96.74" r="1.85" fill="#3a84e6" stroke="#0e2347" stroke-width="0.85"/>
<circle cx="619.00" cy="96.74" r="1.85" fill="#3a84e6" stroke="#0e2347" stroke-width="0.85"/>
<circle cx="616.50" cy="100.30" r="1.85" fill="#3a84e6" stroke="#0e2347" stroke-width="0.85"/>
<circle cx="616.50" cy="103.45" r="1.85" fill="#3a84e6" stroke="#0e2347" stroke-width="0.85"/>
<circle cx="616.50" cy="108.70" r="1.85" fill="#3a84e6" stroke="#0e2347" stroke-width="0.85"/>
<circle cx="619.00" cy="108.70" r="1.85" fill="#3a84e6" stroke="#0e2347" stroke-width="0.85"/>
<circle cx="614.00" cy="108.70" r="1.85" fill="#3a84e6" stroke="#0e2347" stroke-width="0.85"/>
<circle cx="616.50" cy="111.85" r="1.85" fill="#3a84e6" stroke="#0e2347" stroke-width="0.85"/>
<circle cx="616.50" cy="116.04" r="1.85" fill="#3a84e6" stroke="#0e2347" stroke-width="0.85"/>
<circle cx="616.50" cy="121.29" r="1.85" fill="#3a84e6" stroke="#0e2347" stroke-width="0.85"/>
<circle cx="616.50" cy="126.54" r="1.85" fill="#3a84e6" stroke="#0e2347" stroke-width="0.85"/>
<circle cx="616.50" cy="132.83" r="1.85" fill="#3a84e6" stroke="#0e2347" stroke-width="0.85"/>
<circle cx="619.00" cy="132.83" r="1.85" fill="#3a84e6" stroke="#0e2347" stroke-width="0.85"/>
<circle cx="617.50" cy="134.93" r="1.85" fill="#3a84e6" stroke="#0e2347" stroke-width="0.85"/>
<circle cx="616.50" cy="145.01" r="1.85" fill="#3a84e6" stroke="#0e2347" stroke-width="0.85"/>
<circle cx="616.50" cy="147.52" r="1.85" fill="#3a84e6" stroke="#0e2347" stroke-width="0.85"/>
<circle cx="616.50" cy="160.54" r="1.85" fill="#3a84e6" stroke="#0e2347" stroke-width="0.85"/>
<rect x="607.20" y="85.6" width="18.6" height="27.80" fill="none" stroke="#3c64a0" stroke-width="0.9"/>
<line x1="607.20" y1="97.80" x2="625.80" y2="97.80" stroke="#1f4f8f" stroke-width="3" />
<line x1="639.40" y1="165.90" x2="639.40" y2="163.90" stroke="#6e6e6e" stroke-width="0.8" />
<text x="645.40" y="180.80" font-size="12.6" text-anchor="end" fill="#1c1c1c" stroke="#1c1c1c" stroke-width="0.28" transform="rotate(-28 645.40 180.80)" >Acc</text>
<line x1="639.40" y1="88.20" x2="639.40" y2="51.80" stroke="#2f558f" stroke-width="0.9" />
<line x1="639.40" y1="119.70" x2="639.40" y2="151.40" stroke="#2f558f" stroke-width="0.9" />
<line x1="635.40" y1="51.80" x2="643.40" y2="51.80" stroke="#2f558f" stroke-width="0.9" />
<line x1="635.40" y1="151.40" x2="643.40" y2="151.40" stroke="#2f558f" stroke-width="0.9" />
<circle cx="639.40" cy="51.83" r="1.85" fill="#3a84e6" stroke="#0e2347" stroke-width="0.85"/>
<circle cx="639.40" cy="67.15" r="1.85" fill="#3a84e6" stroke="#0e2347" stroke-width="0.85"/>
<circle cx="639.40" cy="75.75" r="1.85" fill="#3a84e6" stroke="#0e2347" stroke-width="0.85"/>
<circle cx="639.40" cy="81.42" r="1.85" fill="#3a84e6" stroke="#0e2347" stroke-width="0.85"/>
<circle cx="639.40" cy="86.24" r="1.85" fill="#3a84e6" stroke="#0e2347" stroke-width="0.85"/>
<circle cx="641.90" cy="86.24" r="1.85" fill="#3a84e6" stroke="#0e2347" stroke-width="0.85"/>
<circle cx="636.90" cy="86.24" r="1.85" fill="#3a84e6" stroke="#0e2347" stroke-width="0.85"/>
<circle cx="639.40" cy="88.76" r="1.85" fill="#3a84e6" stroke="#0e2347" stroke-width="0.85"/>
<circle cx="640.40" cy="90.86" r="1.85" fill="#3a84e6" stroke="#0e2347" stroke-width="0.85"/>
<circle cx="637.90" cy="90.86" r="1.85" fill="#3a84e6" stroke="#0e2347" stroke-width="0.85"/>
<circle cx="639.40" cy="95.48" r="1.85" fill="#3a84e6" stroke="#0e2347" stroke-width="0.85"/>
<circle cx="641.90" cy="95.48" r="1.85" fill="#3a84e6" stroke="#0e2347" stroke-width="0.85"/>
<circle cx="639.40" cy="98.21" r="1.85" fill="#3a84e6" stroke="#0e2347" stroke-width="0.85"/>
<circle cx="639.40" cy="101.35" r="1.85" fill="#3a84e6" stroke="#0e2347" stroke-width="0.85"/>
<circle cx="639.40" cy="105.55" r="1.85" fill="#3a84e6" stroke="#0e2347" stroke-width="0.85"/>
<circle cx="639.40" cy="108.70" r="1.85" fill="#3a84e6" stroke="#0e2347" stroke-width="0.85"/>
<circle cx="641.90" cy="108.70" r="1.85" fill="#3a84e6" stroke="#0e2347" stroke-width="0.85"/>
<circle cx="636.90" cy="108.70" r="1.85" fill="#3a84e6" stroke="#0e2347" stroke-width="0.85"/>
<circle cx="639.40" cy="112.90" r="1.85" fill="#3a84e6" stroke="#0e2347" stroke-width="0.85"/>
<circle cx="639.40" cy="119.82" r="1.85" fill="#3a84e6" stroke="#0e2347" stroke-width="0.85"/>
<circle cx="641.90" cy="119.82" r="1.85" fill="#3a84e6" stroke="#0e2347" stroke-width="0.85"/>
<circle cx="636.90" cy="120.66" r="1.85" fill="#3a84e6" stroke="#0e2347" stroke-width="0.85"/>
<circle cx="639.40" cy="130.31" r="1.85" fill="#3a84e6" stroke="#0e2347" stroke-width="0.85"/>
<circle cx="639.40" cy="132.83" r="1.85" fill="#3a84e6" stroke="#0e2347" stroke-width="0.85"/>
<circle cx="639.40" cy="141.23" r="1.85" fill="#3a84e6" stroke="#0e2347" stroke-width="0.85"/>
<circle cx="639.40" cy="144.38" r="1.85" fill="#3a84e6" stroke="#0e2347" stroke-width="0.85"/>
<circle cx="640.40" cy="146.47" r="1.85" fill="#3a84e6" stroke="#0e2347" stroke-width="0.85"/>
<circle cx="639.40" cy="148.57" r="1.85" fill="#3a84e6" stroke="#0e2347" stroke-width="0.85"/>
<circle cx="639.40" cy="151.30" r="1.85" fill="#3a84e6" stroke="#0e2347" stroke-width="0.85"/>
<rect x="630.10" y="88.2" width="18.6" height="31.50" fill="none" stroke="#2f558f" stroke-width="0.9"/>
<line x1="630.10" y1="100.80" x2="648.70" y2="100.80" stroke="#1f4f8f" stroke-width="3" />
<line x1="661.90" y1="165.90" x2="661.90" y2="163.90" stroke="#6e6e6e" stroke-width="0.8" />
<text x="667.90" y="180.80" font-size="12.6" text-anchor="end" fill="#1c1c1c" stroke="#1c1c1c" stroke-width="0.28" transform="rotate(-28 667.90 180.80)" >Arr</text>
<line x1="661.90" y1="90.90" x2="661.90" y2="66.70" stroke="#8a9fc0" stroke-width="0.9" />
<line x1="661.90" y1="116.30" x2="661.90" y2="144.40" stroke="#8a9fc0" stroke-width="0.9" />
<line x1="657.90" y1="66.70" x2="665.90" y2="66.70" stroke="#8a9fc0" stroke-width="0.9" />
<line x1="657.90" y1="144.40" x2="665.90" y2="144.40" stroke="#8a9fc0" stroke-width="0.9" />
<circle cx="661.90" cy="52.04" r="1.85" fill="#3a84e6" stroke="#0e2347" stroke-width="0.85"/>
<circle cx="661.90" cy="66.73" r="1.85" fill="#3a84e6" stroke="#0e2347" stroke-width="0.85"/>
<circle cx="661.90" cy="69.45" r="1.85" fill="#3a84e6" stroke="#0e2347" stroke-width="0.85"/>
<circle cx="661.90" cy="74.07" r="1.85" fill="#3a84e6" stroke="#0e2347" stroke-width="0.85"/>
<circle cx="661.90" cy="80.37" r="1.85" fill="#3a84e6" stroke="#0e2347" stroke-width="0.85"/>
<circle cx="661.90" cy="83.52" r="1.85" fill="#3a84e6" stroke="#0e2347" stroke-width="0.85"/>
<circle cx="661.90" cy="86.66" r="1.85" fill="#3a84e6" stroke="#0e2347" stroke-width="0.85"/>
<circle cx="661.90" cy="89.81" r="1.85" fill="#3a84e6" stroke="#0e2347" stroke-width="0.85"/>
<circle cx="662.90" cy="91.91" r="1.85" fill="#3a84e6" stroke="#0e2347" stroke-width="0.85"/>
<circle cx="660.40" cy="91.91" r="1.85" fill="#3a84e6" stroke="#0e2347" stroke-width="0.85"/>
<circle cx="665.40" cy="91.91" r="1.85" fill="#3a84e6" stroke="#0e2347" stroke-width="0.85"/>
<circle cx="657.90" cy="91.91" r="1.85" fill="#3a84e6" stroke="#0e2347" stroke-width="0.85"/>
<circle cx="661.90" cy="94.01" r="1.85" fill="#3a84e6" stroke="#0e2347" stroke-width="0.85"/>
<circle cx="664.40" cy="94.01" r="1.85" fill="#3a84e6" stroke="#0e2347" stroke-width="0.85"/>
<circle cx="659.40" cy="94.01" r="1.85" fill="#3a84e6" stroke="#0e2347" stroke-width="0.85"/>
<circle cx="661.90" cy="96.74" r="1.85" fill="#3a84e6" stroke="#0e2347" stroke-width="0.85"/>
<circle cx="664.40" cy="96.74" r="1.85" fill="#3a84e6" stroke="#0e2347" stroke-width="0.85"/>
<circle cx="661.90" cy="99.25" r="1.85" fill="#3a84e6" stroke="#0e2347" stroke-width="0.85"/>
<circle cx="661.90" cy="103.45" r="1.85" fill="#3a84e6" stroke="#0e2347" stroke-width="0.85"/>
<circle cx="664.40" cy="103.45" r="1.85" fill="#3a84e6" stroke="#0e2347" stroke-width="0.85"/>
<circle cx="661.90" cy="105.97" r="1.85" fill="#3a84e6" stroke="#0e2347" stroke-width="0.85"/>
<circle cx="664.40" cy="105.97" r="1.85" fill="#3a84e6" stroke="#0e2347" stroke-width="0.85"/>
<circle cx="661.90" cy="108.70" r="1.85" fill="#3a84e6" stroke="#0e2347" stroke-width="0.85"/>
<circle cx="661.90" cy="111.85" r="1.85" fill="#3a84e6" stroke="#0e2347" stroke-width="0.85"/>
<circle cx="662.90" cy="113.95" r="1.85" fill="#3a84e6" stroke="#0e2347" stroke-width="0.85"/>
<circle cx="661.90" cy="120.24" r="1.85" fill="#3a84e6" stroke="#0e2347" stroke-width="0.85"/>
<circle cx="662.90" cy="122.34" r="1.85" fill="#3a84e6" stroke="#0e2347" stroke-width="0.85"/>
<circle cx="661.90" cy="126.96" r="1.85" fill="#3a84e6" stroke="#0e2347" stroke-width="0.85"/>
<circle cx="661.90" cy="130.31" r="1.85" fill="#3a84e6" stroke="#0e2347" stroke-width="0.85"/>
<circle cx="661.90" cy="144.38" r="1.85" fill="#3a84e6" stroke="#0e2347" stroke-width="0.85"/>
<circle cx="664.40" cy="144.38" r="1.85" fill="#3a84e6" stroke="#0e2347" stroke-width="0.85"/>
<circle cx="659.40" cy="144.38" r="1.85" fill="#3a84e6" stroke="#0e2347" stroke-width="0.85"/>
<circle cx="661.90" cy="159.28" r="1.85" fill="#3a84e6" stroke="#0e2347" stroke-width="0.85"/>
<rect x="652.60" y="90.9" width="18.6" height="25.40" fill="none" stroke="#4a6ea6" stroke-width="0.9"/>
<line x1="652.60" y1="97.20" x2="671.20" y2="97.20" stroke="#1f4f8f" stroke-width="3" />
<text x="344.00" y="264.00" font-size="12.7" text-anchor="middle" fill="#1c1c1c" stroke="#1c1c1c" stroke-width="0.28" >Coefficient distributions for CPI component</text>
<line x1="22.50" y1="281.20" x2="22.50" y2="342.50" stroke="#6e6e6e" stroke-width="1.1" />
<line x1="22.00" y1="342.50" x2="199.70" y2="342.50" stroke="#6e6e6e" stroke-width="1.1" />
<line x1="22.50" y1="281.20" x2="24.50" y2="281.20" stroke="#555" stroke-width="1" />
<text x="17.90" y="285.60" font-size="12.6" text-anchor="end" fill="#1c1c1c" stroke="#1c1c1c" stroke-width="0.28" >30</text>
<line x1="22.50" y1="301.63" x2="24.50" y2="301.63" stroke="#555" stroke-width="1" />
<text x="17.90" y="306.03" font-size="12.6" text-anchor="end" fill="#1c1c1c" stroke="#1c1c1c" stroke-width="0.28" >20</text>
<line x1="22.50" y1="322.07" x2="24.50" y2="322.07" stroke="#555" stroke-width="1" />
<text x="17.90" y="326.47" font-size="12.6" text-anchor="end" fill="#1c1c1c" stroke="#1c1c1c" stroke-width="0.28" >10</text>
<line x1="22.50" y1="342.50" x2="24.50" y2="342.50" stroke="#555" stroke-width="1" />
<text x="17.90" y="346.90" font-size="12.6" text-anchor="end" fill="#1c1c1c" stroke="#1c1c1c" stroke-width="0.28" >0</text>
<line x1="30.20" y1="342.50" x2="30.20" y2="340.50" stroke="#555" stroke-width="1" />
<text x="30.20" y="359.70" font-size="12.6" text-anchor="middle" fill="#1c1c1c" stroke="#1c1c1c" stroke-width="0.28" >0</text>
<line x1="75.03" y1="342.50" x2="75.03" y2="340.50" stroke="#555" stroke-width="1" />
<text x="75.03" y="359.70" font-size="12.6" text-anchor="middle" fill="#1c1c1c" stroke="#1c1c1c" stroke-width="0.28" >0.05</text>
<line x1="119.87" y1="342.50" x2="119.87" y2="340.50" stroke="#555" stroke-width="1" />
<text x="119.87" y="359.70" font-size="12.6" text-anchor="middle" fill="#1c1c1c" stroke="#1c1c1c" stroke-width="0.28" >0.1</text>
<line x1="164.70" y1="342.50" x2="164.70" y2="340.50" stroke="#555" stroke-width="1" />
<text x="164.70" y="359.70" font-size="12.6" text-anchor="middle" fill="#1c1c1c" stroke="#1c1c1c" stroke-width="0.28" >0.15</text>
<rect x="30.20" y="281.20" width="26.90" height="61.30" fill="#66aad7" stroke="#2d4a60" stroke-width="0.7"/>
<rect x="57.10" y="338.41" width="26.90" height="4.09" fill="#66aad7" stroke="#2d4a60" stroke-width="0.7"/>
<rect x="84.00" y="338.41" width="26.90" height="4.09" fill="#66aad7" stroke="#2d4a60" stroke-width="0.7"/>
<rect x="110.90" y="340.46" width="26.90" height="2.04" fill="#66aad7" stroke="#2d4a60" stroke-width="0.7"/>
<rect x="164.70" y="340.46" width="26.90" height="2.04" fill="#66aad7" stroke="#2d4a60" stroke-width="0.7"/>
<text x="109" y="375.4" font-size="13.5" text-anchor="middle" fill="#1c1c1c" stroke="#1c1c1c" stroke-width="0.28">c<tspan font-size="10.5" dy="6">1</tspan></text>
<line x1="258.30" y1="281.20" x2="258.30" y2="342.50" stroke="#6e6e6e" stroke-width="1.1" />
<line x1="257.80" y1="342.50" x2="435.50" y2="342.50" stroke="#6e6e6e" stroke-width="1.1" />
<line x1="258.30" y1="281.20" x2="260.30" y2="281.20" stroke="#555" stroke-width="1" />
<text x="253.70" y="285.60" font-size="12.6" text-anchor="end" fill="#1c1c1c" stroke="#1c1c1c" stroke-width="0.28" >20</text>
<line x1="258.30" y1="311.85" x2="260.30" y2="311.85" stroke="#555" stroke-width="1" />
<text x="253.70" y="316.25" font-size="12.6" text-anchor="end" fill="#1c1c1c" stroke="#1c1c1c" stroke-width="0.28" >10</text>
<line x1="258.30" y1="342.50" x2="260.30" y2="342.50" stroke="#555" stroke-width="1" />
<text x="253.70" y="346.90" font-size="12.6" text-anchor="end" fill="#1c1c1c" stroke="#1c1c1c" stroke-width="0.28" >0</text>
<line x1="288.22" y1="342.50" x2="288.22" y2="340.50" stroke="#555" stroke-width="1" />
<text x="288.22" y="359.70" font-size="12.6" text-anchor="middle" fill="#1c1c1c" stroke="#1c1c1c" stroke-width="0.28" >-4</text>
<line x1="334.56" y1="342.50" x2="334.56" y2="340.50" stroke="#555" stroke-width="1" />
<text x="334.56" y="359.70" font-size="12.6" text-anchor="middle" fill="#1c1c1c" stroke="#1c1c1c" stroke-width="0.28" >-2</text>
<line x1="380.90" y1="342.50" x2="380.90" y2="340.50" stroke="#555" stroke-width="1" />
<text x="380.90" y="359.70" font-size="12.6" text-anchor="middle" fill="#1c1c1c" stroke="#1c1c1c" stroke-width="0.28" >0</text>
<line x1="427.24" y1="342.50" x2="427.24" y2="340.50" stroke="#555" stroke-width="1" />
<text x="427.24" y="359.70" font-size="12.6" text-anchor="middle" fill="#1c1c1c" stroke="#1c1c1c" stroke-width="0.28" >2</text>
<rect x="265.05" y="339.44" width="23.17" height="3.06" fill="#66aad7" stroke="#2d4a60" stroke-width="0.7"/>
<rect x="311.39" y="336.37" width="23.17" height="6.13" fill="#66aad7" stroke="#2d4a60" stroke-width="0.7"/>
<rect x="334.56" y="336.37" width="23.17" height="6.13" fill="#66aad7" stroke="#2d4a60" stroke-width="0.7"/>
<rect x="357.73" y="290.39" width="23.17" height="52.11" fill="#66aad7" stroke="#2d4a60" stroke-width="0.7"/>
<rect x="380.90" y="305.72" width="23.17" height="36.78" fill="#66aad7" stroke="#2d4a60" stroke-width="0.7"/>
<rect x="404.07" y="336.37" width="23.17" height="6.13" fill="#66aad7" stroke="#2d4a60" stroke-width="0.7"/>
<text x="345.5" y="375.4" font-size="13.5" text-anchor="middle" fill="#1c1c1c" stroke="#1c1c1c" stroke-width="0.28">c<tspan font-size="10.5" dy="6">2</tspan></text>
<line x1="493.60" y1="281.20" x2="493.60" y2="342.50" stroke="#6e6e6e" stroke-width="1.1" />
<line x1="493.10" y1="342.50" x2="670.50" y2="342.50" stroke="#6e6e6e" stroke-width="1.1" />
<line x1="493.60" y1="293.46" x2="495.60" y2="293.46" stroke="#555" stroke-width="1" />
<text x="489.00" y="297.86" font-size="12.6" text-anchor="end" fill="#1c1c1c" stroke="#1c1c1c" stroke-width="0.28" >20</text>
<line x1="493.60" y1="317.98" x2="495.60" y2="317.98" stroke="#555" stroke-width="1" />
<text x="489.00" y="322.38" font-size="12.6" text-anchor="end" fill="#1c1c1c" stroke="#1c1c1c" stroke-width="0.28" >10</text>
<line x1="493.60" y1="342.50" x2="495.60" y2="342.50" stroke="#555" stroke-width="1" />
<text x="489.00" y="346.90" font-size="12.6" text-anchor="end" fill="#1c1c1c" stroke="#1c1c1c" stroke-width="0.28" >0</text>
<line x1="528.30" y1="342.50" x2="528.30" y2="340.50" stroke="#555" stroke-width="1" />
<text x="528.30" y="359.70" font-size="12.6" text-anchor="middle" fill="#1c1c1c" stroke="#1c1c1c" stroke-width="0.28" >0</text>
<line x1="595.55" y1="342.50" x2="595.55" y2="340.50" stroke="#555" stroke-width="1" />
<text x="595.55" y="359.70" font-size="12.6" text-anchor="middle" fill="#1c1c1c" stroke="#1c1c1c" stroke-width="0.28" >0.05</text>
<line x1="662.80" y1="342.50" x2="662.80" y2="340.50" stroke="#555" stroke-width="1" />
<text x="662.80" y="359.70" font-size="12.6" text-anchor="middle" fill="#1c1c1c" stroke="#1c1c1c" stroke-width="0.28" >0.1</text>
<rect x="501.40" y="317.98" width="26.90" height="24.52" fill="#66aad7" stroke="#2d4a60" stroke-width="0.7"/>
<rect x="528.30" y="281.20" width="26.90" height="61.30" fill="#66aad7" stroke="#2d4a60" stroke-width="0.7"/>
<rect x="635.90" y="340.05" width="26.90" height="2.45" fill="#66aad7" stroke="#2d4a60" stroke-width="0.7"/>
<text x="582.3" y="375.4" font-size="13.5" text-anchor="middle" fill="#1c1c1c" stroke="#1c1c1c" stroke-width="0.28">c<tspan font-size="10.5" dy="6">3</tspan></text>
<rect x="76.2" y="583.1" width="473.3" height="50.6" fill="#ececec"/>
<line x1="82.80" y1="435.00" x2="82.80" y2="467.50" stroke="#b0b0b0" stroke-width="1.5" />
<line x1="82.10" y1="466.80" x2="549.80" y2="466.80" stroke="#b0b0b0" stroke-width="1.5" />
<line x1="82.80" y1="466.80" x2="82.80" y2="462.60" stroke="#6e6e6e" stroke-width="0.8" />
<line x1="141.18" y1="466.80" x2="141.18" y2="462.60" stroke="#6e6e6e" stroke-width="0.8" />
<line x1="199.55" y1="466.80" x2="199.55" y2="462.60" stroke="#6e6e6e" stroke-width="0.8" />
<line x1="257.93" y1="466.80" x2="257.93" y2="462.60" stroke="#6e6e6e" stroke-width="0.8" />
<line x1="316.30" y1="466.80" x2="316.30" y2="462.60" stroke="#6e6e6e" stroke-width="0.8" />
<line x1="374.68" y1="466.80" x2="374.68" y2="462.60" stroke="#6e6e6e" stroke-width="0.8" />
<line x1="433.05" y1="466.80" x2="433.05" y2="462.60" stroke="#6e6e6e" stroke-width="0.8" />
<line x1="491.43" y1="466.80" x2="491.43" y2="462.60" stroke="#6e6e6e" stroke-width="0.8" />
<line x1="549.80" y1="466.80" x2="549.80" y2="462.60" stroke="#6e6e6e" stroke-width="0.8" />
<line x1="82.80" y1="442.20" x2="87.80" y2="442.20" stroke="#6e6e6e" stroke-width="0.8" />
<line x1="82.80" y1="450.80" x2="87.80" y2="450.80" stroke="#6e6e6e" stroke-width="0.8" />
<line x1="82.80" y1="459.60" x2="87.80" y2="459.60" stroke="#6e6e6e" stroke-width="0.8" />
<path d="M85.3,449.4C87.2,449.4 94.3,449.0 96.6,449.4C99.0,449.8 98.4,450.3 99.3,451.7C100.1,453.1 101.0,456.2 101.9,457.8C102.8,459.4 103.5,460.7 104.5,461.3C105.5,462.0 106.9,461.9 108.0,461.9C109.2,461.9 110.5,461.8 111.5,461.3C112.6,460.9 113.4,459.6 114.2,459.2C114.9,458.9 115.3,458.9 115.9,459.2C116.5,459.6 117.0,460.6 117.7,461.3C118.3,462.0 119.2,463.2 119.9,463.4C120.7,463.7 121.3,463.5 122.0,462.7C122.8,461.9 123.8,459.6 124.7,458.7C125.5,457.8 126.6,457.9 127.3,457.5C128.0,457.0 128.3,456.4 129.1,456.1C129.8,455.8 130.9,455.4 131.7,455.7C132.4,456.0 132.8,456.7 133.4,457.8C134.1,458.9 135.0,461.4 135.7,462.2C136.4,463.0 137.2,462.7 137.8,462.6C138.5,462.4 139.0,461.6 139.6,461.3C140.1,461.1 140.6,461.4 141.3,461.0C142.0,460.5 143.1,459.5 143.9,458.7C144.8,457.9 145.8,456.7 146.6,456.1C147.3,455.4 147.7,454.4 148.3,454.7C148.9,455.0 149.3,456.9 150.1,457.8C150.8,458.8 152.0,460.2 152.7,460.5C153.4,460.7 153.9,460.6 154.5,459.6C155.0,458.6 155.6,455.7 156.2,454.3C156.8,452.9 157.6,451.5 158.3,451.2C159.0,450.9 159.6,451.3 160.2,452.6C160.9,453.8 161.5,456.8 162.3,458.7C163.1,460.6 164.1,462.7 165.0,464.0C165.8,465.2 166.8,466.1 167.6,466.2C168.4,466.4 169.0,466.2 169.7,464.8C170.4,463.4 171.2,460.3 172.0,457.8C172.8,455.3 173.9,451.5 174.6,449.9C175.3,448.4 175.5,448.6 176.0,448.7C176.5,448.9 176.8,449.2 177.4,450.8C178.0,452.5 178.8,456.7 179.5,458.7C180.2,460.7 180.7,462.1 181.6,462.7C182.5,463.4 184.2,463.4 185.1,462.7C186.0,462.1 186.5,460.4 187.2,458.7C187.9,457.0 188.8,453.9 189.5,452.6C190.2,451.3 190.7,450.8 191.2,450.8C191.8,450.8 192.4,451.4 193.0,452.6C193.6,453.7 194.1,456.4 194.7,457.8C195.4,459.3 196.3,460.8 197.1,461.3C197.9,461.9 198.7,461.9 199.4,461.0C200.1,460.1 200.5,457.7 201.1,456.1C201.7,454.4 202.3,452.1 202.9,451.2C203.5,450.2 204.1,450.1 204.6,450.5C205.2,450.9 205.7,452.1 206.4,453.4C207.1,454.8 207.9,457.7 208.7,458.7C209.4,459.7 210.0,459.0 210.8,459.6C211.6,460.2 212.6,461.7 213.4,462.2C214.2,462.7 214.9,463.3 215.7,462.7C216.4,462.2 217.1,460.0 217.8,458.7C218.5,457.4 219.2,455.4 219.9,454.9C220.5,454.3 221.0,454.7 221.6,455.2C222.3,455.7 223.1,457.0 223.9,457.8C224.7,458.7 225.7,459.8 226.5,460.5C227.4,461.1 228.3,461.4 229.2,461.7C230.0,462.0 231.0,462.9 231.8,462.2C232.6,461.6 233.2,459.4 233.9,457.8C234.6,456.3 235.5,453.9 236.2,452.9C236.8,452.0 237.3,451.8 237.9,452.2C238.5,452.6 239.0,454.3 239.7,455.2C240.3,456.1 241.2,457.3 241.9,457.5C242.7,457.7 243.4,456.2 244.1,456.4C244.8,456.6 245.4,457.9 246.2,458.7C246.9,459.5 247.7,460.5 248.4,461.0C249.2,461.4 250.0,461.6 250.7,461.3C251.4,461.0 252.0,459.9 252.8,459.2C253.6,458.6 254.6,457.7 255.4,457.5C256.3,457.3 257.0,458.3 257.7,458.2C258.4,458.0 258.8,456.4 259.5,456.6C260.1,456.8 260.8,458.6 261.6,459.6C262.4,460.6 263.4,462.6 264.2,462.7C265.0,462.9 265.7,461.4 266.5,460.5C267.2,459.5 267.9,457.6 268.6,457.0C269.3,456.3 269.9,456.3 270.7,456.4C271.4,456.6 272.1,457.2 273.0,457.8C273.8,458.5 274.7,459.7 275.6,460.5C276.5,461.2 277.3,462.1 278.2,462.2C279.1,462.4 280.0,461.6 280.8,461.3C281.7,461.0 282.6,460.9 283.5,460.5C284.3,460.0 285.1,459.3 286.1,458.7C287.1,458.1 288.7,456.8 289.6,457.0C290.5,457.1 291.0,458.7 291.7,459.6C292.4,460.5 293.2,461.7 294.0,462.2C294.8,462.7 295.7,462.9 296.6,462.7C297.5,462.6 298.4,461.4 299.2,461.3C300.1,461.2 301.0,462.5 301.9,462.2C302.7,461.9 303.6,460.4 304.5,459.6C305.4,458.8 306.4,457.6 307.1,457.5C307.8,457.4 308.4,458.2 308.9,458.9C309.3,459.5 309.4,460.8 310.0,461.3C310.6,461.9 311.8,462.2 312.6,462.2C313.5,462.2 314.4,461.3 315.3,461.3C316.1,461.3 317.0,462.3 317.9,462.2C318.8,462.2 319.6,460.8 320.5,461.0C321.4,461.1 322.3,463.0 323.1,463.1C324.0,463.1 324.9,462.1 325.8,461.3C326.6,460.6 327.5,459.6 328.4,458.7C329.3,457.8 330.1,456.6 331.0,456.1C331.9,455.6 332.8,455.3 333.6,455.7C334.5,456.2 335.4,457.6 336.3,458.7C337.2,459.8 338.0,461.3 338.9,462.2C339.8,463.1 340.7,464.1 341.5,464.0C342.4,463.8 343.3,462.0 344.2,461.3C345.0,460.7 345.9,460.0 346.8,459.9C347.7,459.9 348.7,461.2 349.4,461.0C350.1,460.8 350.6,460.7 351.2,458.7C351.8,456.7 352.3,452.1 352.9,449.1C353.5,446.0 354.0,442.7 354.7,440.3C355.3,437.9 356.4,435.0 356.9,434.7C357.5,434.4 357.7,436.6 358.2,438.6C358.7,440.5 359.2,444.3 359.9,446.4C360.7,448.6 361.7,450.1 362.6,451.7C363.4,453.3 364.5,454.9 365.2,456.1C365.9,457.2 366.4,458.6 366.9,458.7C367.5,458.9 368.0,457.3 368.7,457.0C369.4,456.6 370.5,456.0 371.3,456.4C372.1,456.9 372.7,458.3 373.4,459.6C374.1,460.8 374.9,463.1 375.7,464.0C376.5,464.8 377.4,464.8 378.3,464.8C379.2,464.8 380.1,464.5 380.9,464.0C381.8,463.4 382.6,461.9 383.6,461.3C384.6,460.7 386.1,460.7 387.1,460.5C388.1,460.2 388.8,459.6 389.7,459.6C390.6,459.6 391.5,459.9 392.3,460.5C393.2,461.0 394.1,462.6 395.0,463.1C395.8,463.6 396.7,463.5 397.6,463.4C398.5,463.4 399.3,462.5 400.2,462.7C401.1,463.0 402.0,464.6 402.8,464.8C403.7,465.0 404.6,464.3 405.5,464.0C406.4,463.6 407.2,462.7 408.1,462.7C409.0,462.7 409.9,463.9 410.7,464.0C411.6,464.0 412.5,463.8 413.4,463.1C414.2,462.4 415.2,460.8 416.0,459.6C416.8,458.4 417.5,456.5 418.3,455.7C419.0,455.0 419.7,454.9 420.4,455.2C421.1,455.6 421.7,456.5 422.5,457.8C423.2,459.1 424.0,461.8 424.7,463.1C425.5,464.4 426.3,465.2 427.0,465.5C427.7,465.8 428.4,465.6 428.9,464.9C429.5,464.2 429.9,462.6 430.5,461.3C431.2,460.0 432.1,457.7 432.9,457.0C433.7,456.3 434.4,456.7 435.2,457.4C436.1,458.1 436.9,460.4 437.8,461.3C438.7,462.3 439.8,462.7 440.8,462.9C441.8,463.1 442.7,462.3 443.7,462.3C444.7,462.3 445.7,463.6 446.7,462.9C447.7,462.3 448.7,459.4 449.6,458.4C450.6,457.4 451.4,456.9 452.2,457.0C453.0,457.1 453.7,458.5 454.6,459.0C455.4,459.4 456.5,459.2 457.5,459.8C458.5,460.3 459.5,462.1 460.5,462.3C461.5,462.6 462.4,461.8 463.4,461.3C464.4,460.8 465.4,459.4 466.4,459.4C467.4,459.3 468.4,460.4 469.3,460.9C470.3,461.4 471.3,461.6 472.3,462.3C473.3,463.0 474.3,464.7 475.3,465.3C476.2,465.8 477.2,465.8 478.2,465.7C479.2,465.5 480.2,464.7 481.2,464.3C482.2,463.9 483.1,463.3 484.1,463.3C485.1,463.3 486.1,464.5 487.1,464.3C488.1,464.1 489.1,463.2 490.0,462.3C491.0,461.4 492.0,459.6 493.0,459.0C494.0,458.3 495.0,458.3 495.9,458.4C496.9,458.4 497.9,459.5 498.9,459.4C499.9,459.2 500.9,457.9 501.9,457.4C502.8,456.9 503.8,456.1 504.8,456.4C505.8,456.7 506.8,458.1 507.8,459.0C508.8,459.9 509.7,461.2 510.7,461.7C511.7,462.3 512.7,462.4 513.7,462.3C514.7,462.3 515.7,461.2 516.6,461.3C517.6,461.4 518.4,462.7 519.6,462.9C520.7,463.1 522.4,462.2 523.5,462.3C524.7,462.4 525.5,463.2 526.5,463.7C527.5,464.2 528.3,465.1 529.5,465.3C530.6,465.5 532.1,465.1 533.4,464.9C534.7,464.6 536.0,463.8 537.3,463.7C538.6,463.6 540.0,464.4 541.3,464.3C542.6,464.2 544.0,463.8 545.2,463.3C546.5,462.8 548.2,461.7 548.8,461.3" fill="none" stroke="#9c9c9c" stroke-width="1.9" stroke-linejoin="round" stroke-linecap="round"/>
<path d="M85.3,450.8C86.9,450.8 92.8,451.2 94.9,450.8C96.9,450.5 96.8,449.2 97.5,448.7C98.2,448.2 98.7,447.6 99.3,447.7C99.8,447.7 100.1,447.7 100.7,449.1C101.3,450.5 102.0,454.0 102.8,456.1C103.5,458.1 104.2,460.4 105.1,461.3C105.9,462.3 106.9,461.6 108.0,461.9C109.1,462.2 110.4,462.8 111.5,463.1C112.7,463.3 113.7,463.4 115.0,463.4C116.4,463.4 118.2,463.3 119.4,463.1C120.6,462.9 121.2,462.6 122.0,462.2C122.9,461.9 123.5,461.4 124.7,461.0C125.8,460.6 127.7,460.2 129.1,459.9C130.4,459.6 131.4,459.6 132.6,459.2C133.7,458.9 134.9,458.2 136.1,457.8C137.2,457.4 138.4,457.2 139.6,457.0C140.7,456.7 141.9,456.7 143.1,456.4C144.2,456.1 145.6,455.8 146.6,455.2C147.5,454.6 148.0,453.4 148.7,452.6C149.3,451.7 149.8,450.3 150.4,449.9C151.0,449.6 151.6,450.1 152.2,450.5C152.8,450.9 153.3,451.5 153.9,452.2C154.5,453.0 155.0,454.4 155.7,454.9C156.4,455.3 157.1,455.2 158.0,455.2C158.8,455.2 159.7,454.7 160.6,454.9C161.5,455.0 162.3,455.6 163.2,456.1C164.1,456.5 164.8,457.0 165.8,457.5C166.9,457.9 168.2,458.4 169.3,458.7C170.5,459.0 171.7,459.1 172.8,459.1C174.0,459.0 175.2,458.5 176.4,458.2C177.5,457.8 178.5,457.1 179.5,457.0C180.5,456.8 181.4,457.3 182.5,457.5C183.6,457.6 185.0,457.5 186.0,457.8C187.0,458.1 187.8,458.9 188.6,459.2C189.4,459.5 190.0,459.7 190.7,459.6C191.4,459.5 192.3,459.1 193.0,458.7C193.7,458.3 194.0,458.0 194.7,457.3C195.5,456.6 196.7,455.2 197.6,454.3C198.5,453.5 199.4,452.7 200.3,452.2C201.1,451.8 202.0,451.7 202.9,451.7C203.8,451.7 204.6,452.0 205.5,452.0C206.4,452.1 207.3,451.6 208.1,451.9C209.0,452.1 209.9,452.6 210.8,453.4C211.6,454.3 212.5,455.9 213.4,457.0C214.3,458.0 215.1,459.2 216.0,459.9C216.9,460.7 217.5,461.0 218.6,461.3C219.8,461.7 221.6,461.8 223.0,461.9C224.5,461.9 226.2,461.8 227.4,461.7C228.6,461.5 229.2,461.3 230.0,461.0C230.9,460.6 231.6,459.8 232.7,459.6C233.7,459.3 234.9,459.7 236.2,459.6C237.5,459.4 239.4,459.1 240.5,458.7C241.7,458.3 242.3,457.2 243.2,457.0C244.1,456.7 244.9,456.5 245.8,457.0C246.7,457.4 247.6,458.9 248.4,459.6C249.3,460.3 250.0,460.8 251.1,461.0C252.1,461.1 253.2,460.6 254.6,460.5C255.9,460.3 257.6,460.2 258.9,459.9C260.3,459.6 261.3,459.1 262.4,458.7C263.6,458.4 264.8,457.9 265.9,457.8C267.1,457.7 268.4,458.2 269.5,458.2C270.5,458.1 271.2,457.4 272.1,457.5C273.0,457.6 273.7,458.1 274.7,458.7C275.7,459.3 277.0,460.5 278.2,461.0C279.4,461.4 280.4,461.3 281.7,461.3C283.0,461.3 284.6,461.0 286.1,461.0C287.6,460.9 289.0,460.8 290.5,461.0C291.9,461.2 293.4,461.9 294.9,462.2C296.3,462.6 297.8,463.1 299.2,463.1C300.7,463.1 302.0,462.4 303.6,462.4C305.2,462.3 307.8,462.7 308.9,462.7C309.9,462.8 309.1,462.6 310.0,462.7C310.9,462.9 312.9,463.4 314.4,463.4C315.8,463.5 317.3,463.3 318.8,463.1C320.2,462.9 321.7,462.6 323.1,462.2C324.6,461.9 326.1,461.4 327.5,461.0C329.0,460.6 330.7,460.1 331.9,459.9C333.1,459.8 333.6,459.6 334.5,459.9C335.4,460.3 336.3,461.4 337.2,462.2C338.0,463.0 339.0,464.2 339.8,464.8C340.6,465.5 341.2,466.1 341.9,466.1C342.6,466.1 343.3,465.8 344.2,464.8C345.0,463.9 345.9,462.2 346.8,460.5C347.7,458.7 348.5,456.3 349.4,454.3C350.3,452.4 351.2,450.1 352.0,448.7C352.9,447.3 353.8,446.5 354.7,445.9C355.5,445.3 356.4,445.2 357.3,445.0C358.2,444.9 359.1,445.0 359.9,445.2C360.8,445.4 361.7,445.7 362.6,446.1C363.4,446.4 364.5,446.5 365.2,447.3C365.9,448.1 366.4,449.5 366.9,450.8C367.5,452.1 368.1,453.9 368.7,455.2C369.3,456.5 369.7,457.8 370.4,458.7C371.2,459.6 372.0,460.0 373.1,460.5C374.1,460.9 375.4,461.0 376.6,461.3C377.7,461.6 378.9,461.9 380.1,462.2C381.2,462.5 382.4,463.1 383.6,463.1C384.7,463.1 385.9,462.5 387.1,462.2C388.2,461.9 389.6,461.3 390.6,461.3C391.6,461.3 392.2,461.7 393.2,462.2C394.2,462.7 395.5,464.0 396.7,464.5C397.9,464.9 399.1,464.6 400.2,464.8C401.4,465.0 402.6,465.4 403.7,465.7C404.9,466.0 406.2,466.6 407.2,466.6C408.2,466.6 409.0,466.2 409.9,465.7C410.7,465.2 411.5,464.0 412.5,463.4C413.5,462.9 414.8,462.4 416.0,462.2C417.2,462.0 418.3,462.4 419.5,462.4C420.7,462.3 422.2,461.9 423.0,461.9C423.8,461.8 423.2,462.1 424.2,462.2C425.2,462.3 427.5,462.2 428.9,462.3C430.4,462.4 431.6,462.9 432.9,462.9C434.2,462.9 435.5,462.6 436.8,462.3C438.1,462.1 439.5,461.6 440.8,461.3C442.1,461.1 443.4,461.1 444.7,460.9C446.0,460.8 447.3,460.5 448.6,460.3C450.0,460.2 451.3,459.9 452.6,459.8C453.9,459.6 455.2,459.4 456.5,459.4C457.8,459.4 459.2,459.5 460.5,459.8C461.8,460.0 463.1,460.7 464.4,460.9C465.7,461.2 467.0,461.0 468.4,461.3C469.7,461.7 471.1,462.3 472.3,462.9C473.4,463.5 474.3,464.4 475.3,464.9C476.2,465.4 477.2,465.8 478.2,465.9C479.2,465.9 480.2,465.5 481.2,465.3C482.2,465.0 483.0,464.6 484.1,464.3C485.3,464.0 486.8,464.0 488.1,463.7C489.4,463.4 490.7,462.9 492.0,462.3C493.3,461.8 494.6,461.0 495.9,460.3C497.3,459.7 498.6,459.0 499.9,458.4C501.2,457.7 502.5,457.0 503.8,456.4C505.1,455.8 506.6,455.3 507.8,455.0C508.9,454.8 509.7,454.6 510.7,455.0C511.7,455.4 512.5,456.5 513.7,457.4C514.8,458.3 516.3,459.5 517.6,460.3C518.9,461.2 520.3,461.7 521.6,462.3C522.9,463.0 524.2,463.7 525.5,464.3C526.8,464.8 528.1,465.5 529.5,465.7C530.8,465.8 532.1,465.4 533.4,465.3C534.7,465.1 536.0,464.8 537.3,464.7C538.6,464.5 540.0,464.6 541.3,464.3C542.6,464.0 544.1,463.6 545.2,462.9C546.4,462.3 547.5,461.2 548.2,460.3C548.9,459.5 549.3,458.4 549.6,458.0" fill="none" stroke="#ef6c34" stroke-width="1.9" stroke-linejoin="round" stroke-linecap="round"/>
<text x="550.00" y="456.00" font-size="12.2" text-anchor="start" fill="#000" stroke="#000" stroke-width="0.28" >-7.00</text>
<line x1="82.80" y1="486.35" x2="82.80" y2="518.85" stroke="#b0b0b0" stroke-width="1.5" />
<line x1="82.10" y1="518.15" x2="549.80" y2="518.15" stroke="#b0b0b0" stroke-width="1.5" />
<line x1="82.80" y1="518.15" x2="82.80" y2="513.95" stroke="#6e6e6e" stroke-width="0.8" />
<line x1="141.18" y1="518.15" x2="141.18" y2="513.95" stroke="#6e6e6e" stroke-width="0.8" />
<line x1="199.55" y1="518.15" x2="199.55" y2="513.95" stroke="#6e6e6e" stroke-width="0.8" />
<line x1="257.93" y1="518.15" x2="257.93" y2="513.95" stroke="#6e6e6e" stroke-width="0.8" />
<line x1="316.30" y1="518.15" x2="316.30" y2="513.95" stroke="#6e6e6e" stroke-width="0.8" />
<line x1="374.68" y1="518.15" x2="374.68" y2="513.95" stroke="#6e6e6e" stroke-width="0.8" />
<line x1="433.05" y1="518.15" x2="433.05" y2="513.95" stroke="#6e6e6e" stroke-width="0.8" />
<line x1="491.43" y1="518.15" x2="491.43" y2="513.95" stroke="#6e6e6e" stroke-width="0.8" />
<line x1="549.80" y1="518.15" x2="549.80" y2="513.95" stroke="#6e6e6e" stroke-width="0.8" />
<line x1="82.80" y1="493.55" x2="87.80" y2="493.55" stroke="#6e6e6e" stroke-width="0.8" />
<line x1="82.80" y1="502.15" x2="87.80" y2="502.15" stroke="#6e6e6e" stroke-width="0.8" />
<line x1="82.80" y1="510.95" x2="87.80" y2="510.95" stroke="#6e6e6e" stroke-width="0.8" />
<path d="M85.3,500.8C87.2,500.8 94.3,500.4 96.6,500.8C99.0,501.1 98.4,501.6 99.3,503.0C100.1,504.4 101.0,507.6 101.9,509.2C102.8,510.8 103.5,512.0 104.5,512.7C105.5,513.4 106.9,513.2 108.0,513.2C109.2,513.2 110.5,513.1 111.5,512.7C112.6,512.2 113.4,510.9 114.2,510.6C114.9,510.2 115.3,510.2 115.9,510.6C116.5,510.9 117.0,512.0 117.7,512.7C118.3,513.4 119.2,514.6 119.9,514.8C120.7,515.0 121.3,514.9 122.0,514.1C122.8,513.3 123.8,510.9 124.7,510.1C125.5,509.2 126.6,509.3 127.3,508.8C128.0,508.4 128.3,507.7 129.1,507.4C129.8,507.1 130.9,506.8 131.7,507.1C132.4,507.4 132.8,508.1 133.4,509.2C134.1,510.3 135.0,512.8 135.7,513.6C136.4,514.3 137.2,514.1 137.8,513.9C138.5,513.8 139.0,512.9 139.6,512.7C140.1,512.4 140.6,512.8 141.3,512.3C142.0,511.9 143.1,510.9 143.9,510.1C144.8,509.2 145.8,508.1 146.6,507.4C147.3,506.8 147.7,505.7 148.3,506.0C148.9,506.3 149.3,508.2 150.1,509.2C150.8,510.1 152.0,511.5 152.7,511.8C153.4,512.1 153.9,512.0 154.5,510.9C155.0,509.9 155.6,507.1 156.2,505.7C156.8,504.3 157.6,502.8 158.3,502.5C159.0,502.2 159.6,502.7 160.2,503.9C160.9,505.2 161.5,508.2 162.3,510.1C163.1,512.0 164.1,514.1 165.0,515.3C165.8,516.6 166.8,517.4 167.6,517.6C168.4,517.7 169.0,517.6 169.7,516.2C170.4,514.8 171.2,511.7 172.0,509.2C172.8,506.7 173.9,502.8 174.6,501.3C175.3,499.8 175.5,499.9 176.0,500.1C176.5,500.2 176.8,500.5 177.4,502.2C178.0,503.8 178.8,508.1 179.5,510.1C180.2,512.0 180.7,513.4 181.6,514.1C182.5,514.8 184.2,514.8 185.1,514.1C186.0,513.4 186.5,511.7 187.2,510.1C187.9,508.4 188.8,505.2 189.5,503.9C190.2,502.6 190.7,502.2 191.2,502.2C191.8,502.2 192.4,502.8 193.0,503.9C193.6,505.1 194.1,507.7 194.7,509.2C195.4,510.6 196.3,512.2 197.1,512.7C197.9,513.2 198.7,513.2 199.4,512.3C200.1,511.5 200.5,509.1 201.1,507.4C201.7,505.8 202.3,503.5 202.9,502.5C203.5,501.6 204.1,501.4 204.6,501.8C205.2,502.2 205.7,503.4 206.4,504.8C207.1,506.2 207.9,509.0 208.7,510.1C209.4,511.1 210.0,510.3 210.8,510.9C211.6,511.5 212.6,513.0 213.4,513.6C214.2,514.1 214.9,514.7 215.7,514.1C216.4,513.5 217.1,511.4 217.8,510.1C218.5,508.7 219.2,506.8 219.9,506.2C220.5,505.6 221.0,506.1 221.6,506.6C222.3,507.0 223.1,508.3 223.9,509.2C224.7,510.1 225.7,511.2 226.5,511.8C227.4,512.4 228.3,512.7 229.2,513.0C230.0,513.3 231.0,514.2 231.8,513.6C232.6,512.9 233.2,510.7 233.9,509.2C234.6,507.6 235.5,505.2 236.2,504.3C236.8,503.3 237.3,503.2 237.9,503.6C238.5,504.0 239.0,505.7 239.7,506.6C240.3,507.4 241.2,508.6 241.9,508.8C242.7,509.0 243.4,507.6 244.1,507.8C244.8,508.0 245.4,509.3 246.2,510.1C246.9,510.8 247.7,511.9 248.4,512.3C249.2,512.8 250.0,513.0 250.7,512.7C251.4,512.4 252.0,511.2 252.8,510.6C253.6,509.9 254.6,509.0 255.4,508.8C256.3,508.7 257.0,509.7 257.7,509.5C258.4,509.4 258.8,507.7 259.5,508.0C260.1,508.2 260.8,509.9 261.6,510.9C262.4,512.0 263.4,513.9 264.2,514.1C265.0,514.2 265.7,512.8 266.5,511.8C267.2,510.8 267.9,509.0 268.6,508.3C269.3,507.6 269.9,507.6 270.7,507.8C271.4,507.9 272.1,508.5 273.0,509.2C273.8,509.9 274.7,511.1 275.6,511.8C276.5,512.5 277.3,513.4 278.2,513.6C279.1,513.7 280.0,513.0 280.8,512.7C281.7,512.4 282.6,512.2 283.5,511.8C284.3,511.4 285.1,510.6 286.1,510.1C287.1,509.5 288.7,508.2 289.6,508.3C290.5,508.4 291.0,510.1 291.7,510.9C292.4,511.8 293.2,513.0 294.0,513.6C294.8,514.1 295.7,514.2 296.6,514.1C297.5,513.9 298.4,512.8 299.2,512.7C300.1,512.6 301.0,513.9 301.9,513.6C302.7,513.3 303.6,511.7 304.5,510.9C305.4,510.1 306.4,508.9 307.1,508.8C307.8,508.7 308.4,509.6 308.9,510.2C309.3,510.9 309.4,512.1 310.0,512.7C310.6,513.2 311.8,513.6 312.6,513.6C313.5,513.6 314.4,512.7 315.3,512.7C316.1,512.7 317.0,513.6 317.9,513.6C318.8,513.5 319.6,512.2 320.5,512.3C321.4,512.5 322.3,514.4 323.1,514.4C324.0,514.5 324.9,513.4 325.8,512.7C326.6,512.0 327.5,510.9 328.4,510.1C329.3,509.2 330.1,507.9 331.0,507.4C331.9,506.9 332.8,506.6 333.6,507.1C334.5,507.5 335.4,509.0 336.3,510.1C337.2,511.1 338.0,512.7 338.9,513.6C339.8,514.4 340.7,515.5 341.5,515.3C342.4,515.2 343.3,513.4 344.2,512.7C345.0,512.0 345.9,511.3 346.8,511.3C347.7,511.2 348.7,512.5 349.4,512.3C350.1,512.1 350.6,512.0 351.2,510.1C351.8,508.1 352.3,503.5 352.9,500.4C353.5,497.4 354.0,494.1 354.7,491.7C355.3,489.3 356.4,486.3 356.9,486.1C357.5,485.8 357.7,488.0 358.2,489.9C358.7,491.9 359.2,495.6 359.9,497.8C360.7,500.0 361.7,501.4 362.6,503.0C363.4,504.7 364.5,506.3 365.2,507.4C365.9,508.6 366.4,509.9 366.9,510.1C367.5,510.2 368.0,508.7 368.7,508.3C369.4,507.9 370.5,507.3 371.3,507.8C372.1,508.2 372.7,509.7 373.4,510.9C374.1,512.2 374.9,514.4 375.7,515.3C376.5,516.2 377.4,516.2 378.3,516.2C379.2,516.2 380.1,515.9 380.9,515.3C381.8,514.7 382.6,513.3 383.6,512.7C384.6,512.1 386.1,512.1 387.1,511.8C388.1,511.5 388.8,510.9 389.7,510.9C390.6,510.9 391.5,511.2 392.3,511.8C393.2,512.4 394.1,513.9 395.0,514.4C395.8,514.9 396.7,514.8 397.6,514.8C398.5,514.7 399.3,513.9 400.2,514.1C401.1,514.3 402.0,516.0 402.8,516.2C403.7,516.4 404.6,515.7 405.5,515.3C406.4,515.0 407.2,514.1 408.1,514.1C409.0,514.1 409.9,515.3 410.7,515.3C411.6,515.4 412.5,515.2 413.4,514.4C414.2,513.7 415.2,512.2 416.0,510.9C416.8,509.7 417.5,507.8 418.3,507.1C419.0,506.3 419.7,506.2 420.4,506.6C421.1,506.9 421.7,507.9 422.5,509.2C423.2,510.5 424.0,513.1 424.7,514.4C425.5,515.7 426.3,516.6 427.0,516.9C427.7,517.2 428.4,516.9 428.9,516.2C429.5,515.5 429.9,514.0 430.5,512.7C431.2,511.4 432.1,509.0 432.9,508.3C433.7,507.7 434.4,508.0 435.2,508.7C436.1,509.5 436.9,511.8 437.8,512.7C438.7,513.6 439.8,514.1 440.8,514.3C441.8,514.4 442.7,513.7 443.7,513.7C444.7,513.7 445.7,514.9 446.7,514.3C447.7,513.6 448.7,510.7 449.6,509.7C450.6,508.7 451.4,508.2 452.2,508.3C453.0,508.4 453.7,509.9 454.6,510.3C455.4,510.8 456.5,510.5 457.5,511.1C458.5,511.7 459.5,513.4 460.5,513.7C461.5,513.9 462.4,513.2 463.4,512.7C464.4,512.2 465.4,510.8 466.4,510.7C467.4,510.6 468.4,511.8 469.3,512.3C470.3,512.8 471.3,512.9 472.3,513.7C473.3,514.4 474.3,516.1 475.3,516.6C476.2,517.2 477.2,517.2 478.2,517.0C479.2,516.9 480.2,516.0 481.2,515.6C482.2,515.2 483.1,514.7 484.1,514.7C485.1,514.7 486.1,515.8 487.1,515.6C488.1,515.5 489.1,514.6 490.0,513.7C491.0,512.8 492.0,511.0 493.0,510.3C494.0,509.7 495.0,509.7 495.9,509.7C496.9,509.8 497.9,510.9 498.9,510.7C499.9,510.5 500.9,509.2 501.9,508.7C502.8,508.2 503.8,507.5 504.8,507.8C505.8,508.0 506.8,509.4 507.8,510.3C508.8,511.2 509.7,512.5 510.7,513.1C511.7,513.6 512.7,513.7 513.7,513.7C514.7,513.6 515.7,512.6 516.6,512.7C517.6,512.8 518.4,514.1 519.6,514.3C520.7,514.4 522.4,513.5 523.5,513.7C524.7,513.8 525.5,514.6 526.5,515.0C527.5,515.5 528.3,516.4 529.5,516.6C530.6,516.8 532.1,516.5 533.4,516.2C534.7,516.0 536.0,515.1 537.3,515.0C538.6,514.9 540.0,515.7 541.3,515.6C542.6,515.6 544.0,515.1 545.2,514.7C546.5,514.2 548.2,513.0 548.8,512.7" fill="none" stroke="#9c9c9c" stroke-width="1.9" stroke-linejoin="round" stroke-linecap="round"/>
<path d="M85.3,502.2C86.9,502.2 92.8,502.5 94.9,502.2C96.9,501.8 96.8,500.6 97.5,500.1C98.2,499.5 98.7,499.0 99.3,499.0C99.8,499.1 100.1,499.0 100.7,500.4C101.3,501.8 102.0,505.4 102.8,507.4C103.5,509.5 104.2,511.7 105.1,512.7C105.9,513.6 106.9,512.9 108.0,513.2C109.1,513.5 110.4,514.2 111.5,514.4C112.7,514.7 113.7,514.8 115.0,514.8C116.4,514.8 118.2,514.6 119.4,514.4C120.6,514.2 121.2,513.9 122.0,513.6C122.9,513.2 123.5,512.7 124.7,512.3C125.8,512.0 127.7,511.6 129.1,511.3C130.4,511.0 131.4,510.9 132.6,510.6C133.7,510.2 134.9,509.6 136.1,509.2C137.2,508.8 138.4,508.5 139.6,508.3C140.7,508.1 141.9,508.1 143.1,507.8C144.2,507.5 145.6,507.2 146.6,506.6C147.5,505.9 148.0,504.8 148.7,503.9C149.3,503.0 149.8,501.6 150.4,501.3C151.0,500.9 151.6,501.4 152.2,501.8C152.8,502.2 153.3,502.8 153.9,503.6C154.5,504.3 155.0,505.7 155.7,506.2C156.4,506.7 157.1,506.6 158.0,506.6C158.8,506.6 159.7,506.1 160.6,506.2C161.5,506.3 162.3,507.0 163.2,507.4C164.1,507.9 164.8,508.4 165.8,508.8C166.9,509.3 168.2,509.8 169.3,510.1C170.5,510.3 171.7,510.5 172.8,510.4C174.0,510.3 175.2,509.9 176.4,509.5C177.5,509.2 178.5,508.4 179.5,508.3C180.5,508.2 181.4,508.7 182.5,508.8C183.6,509.0 185.0,508.9 186.0,509.2C187.0,509.5 187.8,510.3 188.6,510.6C189.4,510.9 190.0,511.0 190.7,510.9C191.4,510.8 192.3,510.4 193.0,510.1C193.7,509.7 194.0,509.4 194.7,508.7C195.5,507.9 196.7,506.5 197.6,505.7C198.5,504.8 199.4,504.0 200.3,503.6C201.1,503.1 202.0,503.1 202.9,503.0C203.8,503.0 204.6,503.4 205.5,503.4C206.4,503.4 207.3,503.0 208.1,503.2C209.0,503.5 209.9,504.0 210.8,504.8C211.6,505.6 212.5,507.2 213.4,508.3C214.3,509.4 215.1,510.6 216.0,511.3C216.9,512.0 217.5,512.4 218.6,512.7C219.8,513.0 221.6,513.1 223.0,513.2C224.5,513.3 226.2,513.2 227.4,513.0C228.6,512.9 229.2,512.7 230.0,512.3C230.9,512.0 231.6,511.2 232.7,510.9C233.7,510.7 234.9,511.1 236.2,510.9C237.5,510.8 239.4,510.5 240.5,510.1C241.7,509.6 242.3,508.6 243.2,508.3C244.1,508.0 244.9,507.9 245.8,508.3C246.7,508.7 247.6,510.3 248.4,510.9C249.3,511.6 250.0,512.2 251.1,512.3C252.1,512.5 253.2,512.0 254.6,511.8C255.9,511.6 257.6,511.6 258.9,511.3C260.3,511.0 261.3,510.4 262.4,510.1C263.6,509.7 264.8,509.3 265.9,509.2C267.1,509.1 268.4,509.6 269.5,509.5C270.5,509.5 271.2,508.7 272.1,508.8C273.0,508.9 273.7,509.5 274.7,510.1C275.7,510.6 277.0,511.9 278.2,512.3C279.4,512.8 280.4,512.7 281.7,512.7C283.0,512.7 284.6,512.4 286.1,512.3C287.6,512.3 289.0,512.1 290.5,512.3C291.9,512.5 293.4,513.2 294.9,513.6C296.3,513.9 297.8,514.4 299.2,514.4C300.7,514.5 302.0,513.8 303.6,513.7C305.2,513.7 307.8,514.0 308.9,514.1C309.9,514.1 309.1,514.0 310.0,514.1C310.9,514.2 312.9,514.7 314.4,514.8C315.8,514.8 317.3,514.6 318.8,514.4C320.2,514.2 321.7,513.9 323.1,513.6C324.6,513.2 326.1,512.7 327.5,512.3C329.0,512.0 330.7,511.5 331.9,511.3C333.1,511.1 333.6,510.9 334.5,511.3C335.4,511.7 336.3,512.7 337.2,513.6C338.0,514.4 339.0,515.5 339.8,516.2C340.6,516.8 341.2,517.4 341.9,517.4C342.6,517.4 343.3,517.1 344.2,516.2C345.0,515.3 345.9,513.6 346.8,511.8C347.7,510.1 348.5,507.6 349.4,505.7C350.3,503.7 351.2,501.5 352.0,500.1C352.9,498.7 353.8,497.9 354.7,497.3C355.5,496.7 356.4,496.5 357.3,496.4C358.2,496.3 359.1,496.4 359.9,496.6C360.8,496.7 361.7,497.1 362.6,497.4C363.4,497.8 364.5,497.9 365.2,498.7C365.9,499.5 366.4,500.9 366.9,502.2C367.5,503.5 368.1,505.2 368.7,506.6C369.3,507.9 369.7,509.2 370.4,510.1C371.2,510.9 372.0,511.4 373.1,511.8C374.1,512.2 375.4,512.4 376.6,512.7C377.7,513.0 378.9,513.3 380.1,513.6C381.2,513.9 382.4,514.4 383.6,514.4C384.7,514.4 385.9,513.9 387.1,513.6C388.2,513.3 389.6,512.7 390.6,512.7C391.6,512.7 392.2,513.0 393.2,513.6C394.2,514.1 395.5,515.4 396.7,515.8C397.9,516.3 399.1,516.0 400.2,516.2C401.4,516.4 402.6,516.8 403.7,517.1C404.9,517.4 406.2,517.9 407.2,517.9C408.2,517.9 409.0,517.6 409.9,517.1C410.7,516.5 411.5,515.4 412.5,514.8C413.5,514.2 414.8,513.7 416.0,513.6C417.2,513.4 418.3,513.8 419.5,513.7C420.7,513.7 422.2,513.2 423.0,513.2C423.8,513.2 423.2,513.5 424.2,513.6C425.2,513.6 427.5,513.6 428.9,513.7C430.4,513.8 431.6,514.3 432.9,514.3C434.2,514.3 435.5,513.9 436.8,513.7C438.1,513.4 439.5,512.9 440.8,512.7C442.1,512.5 443.4,512.5 444.7,512.3C446.0,512.1 447.3,511.9 448.6,511.7C450.0,511.5 451.3,511.3 452.6,511.1C453.9,510.9 455.2,510.7 456.5,510.7C457.8,510.7 459.2,510.8 460.5,511.1C461.8,511.4 463.1,512.0 464.4,512.3C465.7,512.6 467.0,512.4 468.4,512.7C469.7,513.0 471.1,513.7 472.3,514.3C473.4,514.9 474.3,515.7 475.3,516.2C476.2,516.7 477.2,517.2 478.2,517.2C479.2,517.3 480.2,516.9 481.2,516.6C482.2,516.4 483.0,515.9 484.1,515.6C485.3,515.4 486.8,515.4 488.1,515.0C489.4,514.7 490.7,514.2 492.0,513.7C493.3,513.1 494.6,512.4 495.9,511.7C497.3,511.0 498.6,510.4 499.9,509.7C501.2,509.1 502.5,508.3 503.8,507.8C505.1,507.2 506.6,506.6 507.8,506.4C508.9,506.1 509.7,506.0 510.7,506.4C511.7,506.8 512.5,507.9 513.7,508.7C514.8,509.6 516.3,510.9 517.6,511.7C518.9,512.5 520.3,513.0 521.6,513.7C522.9,514.3 524.2,515.1 525.5,515.6C526.8,516.2 528.1,516.9 529.5,517.0C530.8,517.2 532.1,516.8 533.4,516.6C534.7,516.5 536.0,516.2 537.3,516.0C538.6,515.9 540.0,515.9 541.3,515.6C542.6,515.3 544.1,514.9 545.2,514.3C546.4,513.6 547.5,512.5 548.2,511.7C548.9,510.9 549.3,509.7 549.6,509.3" fill="none" stroke="#ef6c34" stroke-width="1.9" stroke-linejoin="round" stroke-linecap="round"/>
<text x="550.00" y="507.35" font-size="12.2" text-anchor="start" fill="#000" stroke="#000" stroke-width="0.28" >-6.03</text>
<line x1="82.80" y1="537.70" x2="82.80" y2="570.20" stroke="#b0b0b0" stroke-width="1.5" />
<line x1="82.10" y1="569.50" x2="549.80" y2="569.50" stroke="#b0b0b0" stroke-width="1.5" />
<line x1="82.80" y1="569.50" x2="82.80" y2="565.30" stroke="#6e6e6e" stroke-width="0.8" />
<line x1="141.18" y1="569.50" x2="141.18" y2="565.30" stroke="#6e6e6e" stroke-width="0.8" />
<line x1="199.55" y1="569.50" x2="199.55" y2="565.30" stroke="#6e6e6e" stroke-width="0.8" />
<line x1="257.93" y1="569.50" x2="257.93" y2="565.30" stroke="#6e6e6e" stroke-width="0.8" />
<line x1="316.30" y1="569.50" x2="316.30" y2="565.30" stroke="#6e6e6e" stroke-width="0.8" />
<line x1="374.68" y1="569.50" x2="374.68" y2="565.30" stroke="#6e6e6e" stroke-width="0.8" />
<line x1="433.05" y1="569.50" x2="433.05" y2="565.30" stroke="#6e6e6e" stroke-width="0.8" />
<line x1="491.43" y1="569.50" x2="491.43" y2="565.30" stroke="#6e6e6e" stroke-width="0.8" />
<line x1="549.80" y1="569.50" x2="549.80" y2="565.30" stroke="#6e6e6e" stroke-width="0.8" />
<line x1="82.80" y1="544.90" x2="87.80" y2="544.90" stroke="#6e6e6e" stroke-width="0.8" />
<line x1="82.80" y1="553.50" x2="87.80" y2="553.50" stroke="#6e6e6e" stroke-width="0.8" />
<line x1="82.80" y1="562.30" x2="87.80" y2="562.30" stroke="#6e6e6e" stroke-width="0.8" />
<path d="M85.3,552.1C87.2,552.1 94.3,551.7 96.6,552.1C99.0,552.5 98.4,553.0 99.3,554.4C100.1,555.8 101.0,558.9 101.9,560.5C102.8,562.1 103.5,563.4 104.5,564.0C105.5,564.7 106.9,564.6 108.0,564.6C109.2,564.6 110.5,564.5 111.5,564.0C112.6,563.6 113.4,562.3 114.2,561.9C114.9,561.6 115.3,561.6 115.9,561.9C116.5,562.3 117.0,563.3 117.7,564.0C118.3,564.7 119.2,565.9 119.9,566.1C120.7,566.4 121.3,566.2 122.0,565.4C122.8,564.6 123.8,562.3 124.7,561.4C125.5,560.5 126.6,560.6 127.3,560.2C128.0,559.7 128.3,559.1 129.1,558.8C129.8,558.5 130.9,558.1 131.7,558.4C132.4,558.7 132.8,559.4 133.4,560.5C134.1,561.6 135.0,564.1 135.7,564.9C136.4,565.7 137.2,565.4 137.8,565.3C138.5,565.1 139.0,564.3 139.6,564.0C140.1,563.8 140.6,564.1 141.3,563.7C142.0,563.2 143.1,562.2 143.9,561.4C144.8,560.6 145.8,559.4 146.6,558.8C147.3,558.1 147.7,557.1 148.3,557.4C148.9,557.7 149.3,559.6 150.1,560.5C150.8,561.5 152.0,562.9 152.7,563.2C153.4,563.4 153.9,563.3 154.5,562.3C155.0,561.3 155.6,558.4 156.2,557.0C156.8,555.6 157.6,554.2 158.3,553.9C159.0,553.6 159.6,554.0 160.2,555.3C160.9,556.5 161.5,559.5 162.3,561.4C163.1,563.3 164.1,565.4 165.0,566.7C165.8,567.9 166.8,568.8 167.6,568.9C168.4,569.1 169.0,568.9 169.7,567.5C170.4,566.1 171.2,563.0 172.0,560.5C172.8,558.0 173.9,554.2 174.6,552.6C175.3,551.1 175.5,551.3 176.0,551.4C176.5,551.6 176.8,551.9 177.4,553.5C178.0,555.2 178.8,559.4 179.5,561.4C180.2,563.4 180.7,564.8 181.6,565.4C182.5,566.1 184.2,566.1 185.1,565.4C186.0,564.8 186.5,563.1 187.2,561.4C187.9,559.7 188.8,556.6 189.5,555.3C190.2,554.0 190.7,553.5 191.2,553.5C191.8,553.5 192.4,554.1 193.0,555.3C193.6,556.4 194.1,559.1 194.7,560.5C195.4,562.0 196.3,563.5 197.1,564.0C197.9,564.6 198.7,564.6 199.4,563.7C200.1,562.8 200.5,560.4 201.1,558.8C201.7,557.1 202.3,554.8 202.9,553.9C203.5,552.9 204.1,552.8 204.6,553.2C205.2,553.6 205.7,554.8 206.4,556.1C207.1,557.5 207.9,560.4 208.7,561.4C209.4,562.4 210.0,561.7 210.8,562.3C211.6,562.9 212.6,564.4 213.4,564.9C214.2,565.4 214.9,566.0 215.7,565.4C216.4,564.9 217.1,562.7 217.8,561.4C218.5,560.1 219.2,558.1 219.9,557.6C220.5,557.0 221.0,557.4 221.6,557.9C222.3,558.4 223.1,559.7 223.9,560.5C224.7,561.4 225.7,562.5 226.5,563.2C227.4,563.8 228.3,564.1 229.2,564.4C230.0,564.7 231.0,565.6 231.8,564.9C232.6,564.3 233.2,562.1 233.9,560.5C234.6,559.0 235.5,556.6 236.2,555.6C236.8,554.7 237.3,554.5 237.9,554.9C238.5,555.3 239.0,557.0 239.7,557.9C240.3,558.8 241.2,560.0 241.9,560.2C242.7,560.4 243.4,558.9 244.1,559.1C244.8,559.3 245.4,560.6 246.2,561.4C246.9,562.2 247.7,563.2 248.4,563.7C249.2,564.1 250.0,564.3 250.7,564.0C251.4,563.7 252.0,562.6 252.8,561.9C253.6,561.3 254.6,560.4 255.4,560.2C256.3,560.0 257.0,561.0 257.7,560.9C258.4,560.7 258.8,559.1 259.5,559.3C260.1,559.5 260.8,561.3 261.6,562.3C262.4,563.3 263.4,565.3 264.2,565.4C265.0,565.6 265.7,564.1 266.5,563.2C267.2,562.2 267.9,560.3 268.6,559.7C269.3,559.0 269.9,559.0 270.7,559.1C271.4,559.3 272.1,559.9 273.0,560.5C273.8,561.2 274.7,562.4 275.6,563.2C276.5,563.9 277.3,564.8 278.2,564.9C279.1,565.1 280.0,564.3 280.8,564.0C281.7,563.7 282.6,563.6 283.5,563.2C284.3,562.7 285.1,562.0 286.1,561.4C287.1,560.8 288.7,559.5 289.6,559.7C290.5,559.8 291.0,561.4 291.7,562.3C292.4,563.2 293.2,564.4 294.0,564.9C294.8,565.4 295.7,565.6 296.6,565.4C297.5,565.3 298.4,564.1 299.2,564.0C300.1,563.9 301.0,565.2 301.9,564.9C302.7,564.6 303.6,563.1 304.5,562.3C305.4,561.5 306.4,560.3 307.1,560.2C307.8,560.1 308.4,560.9 308.9,561.6C309.3,562.2 309.4,563.5 310.0,564.0C310.6,564.6 311.8,564.9 312.6,564.9C313.5,564.9 314.4,564.0 315.3,564.0C316.1,564.0 317.0,565.0 317.9,564.9C318.8,564.9 319.6,563.5 320.5,563.7C321.4,563.8 322.3,565.7 323.1,565.8C324.0,565.8 324.9,564.8 325.8,564.0C326.6,563.3 327.5,562.3 328.4,561.4C329.3,560.5 330.1,559.3 331.0,558.8C331.9,558.3 332.8,558.0 333.6,558.4C334.5,558.9 335.4,560.3 336.3,561.4C337.2,562.5 338.0,564.0 338.9,564.9C339.8,565.8 340.7,566.8 341.5,566.7C342.4,566.5 343.3,564.7 344.2,564.0C345.0,563.4 345.9,562.7 346.8,562.6C347.7,562.6 348.7,563.9 349.4,563.7C350.1,563.5 350.6,563.4 351.2,561.4C351.8,559.4 352.3,554.8 352.9,551.8C353.5,548.7 354.0,545.4 354.7,543.0C355.3,540.6 356.4,537.7 356.9,537.4C357.5,537.1 357.7,539.3 358.2,541.3C358.7,543.2 359.2,547.0 359.9,549.1C360.7,551.3 361.7,552.8 362.6,554.4C363.4,556.0 364.5,557.6 365.2,558.8C365.9,559.9 366.4,561.3 366.9,561.4C367.5,561.6 368.0,560.0 368.7,559.7C369.4,559.3 370.5,558.7 371.3,559.1C372.1,559.6 372.7,561.0 373.4,562.3C374.1,563.5 374.9,565.8 375.7,566.7C376.5,567.5 377.4,567.5 378.3,567.5C379.2,567.5 380.1,567.2 380.9,566.7C381.8,566.1 382.6,564.6 383.6,564.0C384.6,563.4 386.1,563.4 387.1,563.2C388.1,562.9 388.8,562.3 389.7,562.3C390.6,562.3 391.5,562.6 392.3,563.2C393.2,563.7 394.1,565.3 395.0,565.8C395.8,566.3 396.7,566.2 397.6,566.1C398.5,566.1 399.3,565.2 400.2,565.4C401.1,565.7 402.0,567.3 402.8,567.5C403.7,567.7 404.6,567.0 405.5,566.7C406.4,566.3 407.2,565.4 408.1,565.4C409.0,565.4 409.9,566.6 410.7,566.7C411.6,566.7 412.5,566.5 413.4,565.8C414.2,565.1 415.2,563.5 416.0,562.3C416.8,561.1 417.5,559.2 418.3,558.4C419.0,557.7 419.7,557.6 420.4,557.9C421.1,558.3 421.7,559.2 422.5,560.5C423.2,561.8 424.0,564.5 424.7,565.8C425.5,567.1 426.3,567.9 427.0,568.2C427.7,568.5 428.4,568.3 428.9,567.6C429.5,566.9 429.9,565.3 430.5,564.0C431.2,562.7 432.1,560.4 432.9,559.7C433.7,559.0 434.4,559.4 435.2,560.1C436.1,560.8 436.9,563.1 437.8,564.0C438.7,565.0 439.8,565.4 440.8,565.6C441.8,565.8 442.7,565.0 443.7,565.0C444.7,565.0 445.7,566.3 446.7,565.6C447.7,565.0 448.7,562.1 449.6,561.1C450.6,560.1 451.4,559.6 452.2,559.7C453.0,559.8 453.7,561.2 454.6,561.7C455.4,562.1 456.5,561.9 457.5,562.5C458.5,563.0 459.5,564.8 460.5,565.0C461.5,565.3 462.4,564.5 463.4,564.0C464.4,563.5 465.4,562.1 466.4,562.1C467.4,562.0 468.4,563.1 469.3,563.6C470.3,564.1 471.3,564.3 472.3,565.0C473.3,565.7 474.3,567.4 475.3,568.0C476.2,568.5 477.2,568.5 478.2,568.4C479.2,568.2 480.2,567.4 481.2,567.0C482.2,566.6 483.1,566.0 484.1,566.0C485.1,566.0 486.1,567.2 487.1,567.0C488.1,566.8 489.1,565.9 490.0,565.0C491.0,564.1 492.0,562.3 493.0,561.7C494.0,561.0 495.0,561.0 495.9,561.1C496.9,561.1 497.9,562.2 498.9,562.1C499.9,561.9 500.9,560.6 501.9,560.1C502.8,559.6 503.8,558.8 504.8,559.1C505.8,559.4 506.8,560.8 507.8,561.7C508.8,562.6 509.7,563.9 510.7,564.4C511.7,565.0 512.7,565.1 513.7,565.0C514.7,565.0 515.7,563.9 516.6,564.0C517.6,564.1 518.4,565.4 519.6,565.6C520.7,565.8 522.4,564.9 523.5,565.0C524.7,565.1 525.5,565.9 526.5,566.4C527.5,566.9 528.3,567.8 529.5,568.0C530.6,568.2 532.1,567.8 533.4,567.6C534.7,567.3 536.0,566.5 537.3,566.4C538.6,566.3 540.0,567.1 541.3,567.0C542.6,566.9 544.0,566.5 545.2,566.0C546.5,565.5 548.2,564.4 548.8,564.0" fill="none" stroke="#9c9c9c" stroke-width="1.9" stroke-linejoin="round" stroke-linecap="round"/>
<path d="M85.3,553.5C86.9,553.5 92.8,553.9 94.9,553.5C96.9,553.2 96.8,551.9 97.5,551.4C98.2,550.9 98.7,550.3 99.3,550.4C99.8,550.4 100.1,550.4 100.7,551.8C101.3,553.2 102.0,556.7 102.8,558.8C103.5,560.8 104.2,563.1 105.1,564.0C105.9,565.0 106.9,564.3 108.0,564.6C109.1,564.9 110.4,565.5 111.5,565.8C112.7,566.0 113.7,566.1 115.0,566.1C116.4,566.1 118.2,566.0 119.4,565.8C120.6,565.6 121.2,565.3 122.0,564.9C122.9,564.6 123.5,564.1 124.7,563.7C125.8,563.3 127.7,562.9 129.1,562.6C130.4,562.3 131.4,562.3 132.6,561.9C133.7,561.6 134.9,560.9 136.1,560.5C137.2,560.1 138.4,559.9 139.6,559.7C140.7,559.4 141.9,559.4 143.1,559.1C144.2,558.8 145.6,558.5 146.6,557.9C147.5,557.3 148.0,556.1 148.7,555.3C149.3,554.4 149.8,553.0 150.4,552.6C151.0,552.3 151.6,552.8 152.2,553.2C152.8,553.6 153.3,554.2 153.9,554.9C154.5,555.7 155.0,557.1 155.7,557.6C156.4,558.0 157.1,557.9 158.0,557.9C158.8,557.9 159.7,557.4 160.6,557.6C161.5,557.7 162.3,558.3 163.2,558.8C164.1,559.2 164.8,559.7 165.8,560.2C166.9,560.6 168.2,561.1 169.3,561.4C170.5,561.7 171.7,561.8 172.8,561.8C174.0,561.7 175.2,561.2 176.4,560.9C177.5,560.5 178.5,559.8 179.5,559.7C180.5,559.5 181.4,560.0 182.5,560.2C183.6,560.3 185.0,560.2 186.0,560.5C187.0,560.8 187.8,561.6 188.6,561.9C189.4,562.2 190.0,562.4 190.7,562.3C191.4,562.2 192.3,561.8 193.0,561.4C193.7,561.0 194.0,560.7 194.7,560.0C195.5,559.3 196.7,557.9 197.6,557.0C198.5,556.2 199.4,555.4 200.3,554.9C201.1,554.5 202.0,554.4 202.9,554.4C203.8,554.4 204.6,554.7 205.5,554.7C206.4,554.8 207.3,554.3 208.1,554.6C209.0,554.8 209.9,555.3 210.8,556.1C211.6,557.0 212.5,558.6 213.4,559.7C214.3,560.7 215.1,561.9 216.0,562.6C216.9,563.4 217.5,563.7 218.6,564.0C219.8,564.4 221.6,564.5 223.0,564.6C224.5,564.6 226.2,564.5 227.4,564.4C228.6,564.2 229.2,564.0 230.0,563.7C230.9,563.3 231.6,562.5 232.7,562.3C233.7,562.0 234.9,562.4 236.2,562.3C237.5,562.1 239.4,561.8 240.5,561.4C241.7,561.0 242.3,559.9 243.2,559.7C244.1,559.4 244.9,559.2 245.8,559.7C246.7,560.1 247.6,561.6 248.4,562.3C249.3,563.0 250.0,563.5 251.1,563.7C252.1,563.8 253.2,563.3 254.6,563.2C255.9,563.0 257.6,562.9 258.9,562.6C260.3,562.3 261.3,561.8 262.4,561.4C263.6,561.1 264.8,560.6 265.9,560.5C267.1,560.4 268.4,560.9 269.5,560.9C270.5,560.8 271.2,560.1 272.1,560.2C273.0,560.3 273.7,560.8 274.7,561.4C275.7,562.0 277.0,563.2 278.2,563.7C279.4,564.1 280.4,564.0 281.7,564.0C283.0,564.0 284.6,563.7 286.1,563.7C287.6,563.6 289.0,563.5 290.5,563.7C291.9,563.9 293.4,564.6 294.9,564.9C296.3,565.3 297.8,565.8 299.2,565.8C300.7,565.8 302.0,565.1 303.6,565.1C305.2,565.0 307.8,565.4 308.9,565.4C309.9,565.5 309.1,565.3 310.0,565.4C310.9,565.6 312.9,566.1 314.4,566.1C315.8,566.2 317.3,566.0 318.8,565.8C320.2,565.6 321.7,565.3 323.1,564.9C324.6,564.6 326.1,564.1 327.5,563.7C329.0,563.3 330.7,562.8 331.9,562.6C333.1,562.5 333.6,562.3 334.5,562.6C335.4,563.0 336.3,564.1 337.2,564.9C338.0,565.7 339.0,566.9 339.8,567.5C340.6,568.2 341.2,568.8 341.9,568.8C342.6,568.8 343.3,568.5 344.2,567.5C345.0,566.6 345.9,564.9 346.8,563.2C347.7,561.4 348.5,559.0 349.4,557.0C350.3,555.1 351.2,552.8 352.0,551.4C352.9,550.0 353.8,549.2 354.7,548.6C355.5,548.0 356.4,547.9 357.3,547.7C358.2,547.6 359.1,547.7 359.9,547.9C360.8,548.1 361.7,548.4 362.6,548.8C363.4,549.1 364.5,549.2 365.2,550.0C365.9,550.8 366.4,552.2 366.9,553.5C367.5,554.8 368.1,556.6 368.7,557.9C369.3,559.2 369.7,560.5 370.4,561.4C371.2,562.3 372.0,562.7 373.1,563.2C374.1,563.6 375.4,563.7 376.6,564.0C377.7,564.3 378.9,564.6 380.1,564.9C381.2,565.2 382.4,565.8 383.6,565.8C384.7,565.8 385.9,565.2 387.1,564.9C388.2,564.6 389.6,564.0 390.6,564.0C391.6,564.0 392.2,564.4 393.2,564.9C394.2,565.4 395.5,566.7 396.7,567.2C397.9,567.6 399.1,567.3 400.2,567.5C401.4,567.7 402.6,568.1 403.7,568.4C404.9,568.7 406.2,569.3 407.2,569.3C408.2,569.3 409.0,568.9 409.9,568.4C410.7,567.9 411.5,566.7 412.5,566.1C413.5,565.6 414.8,565.1 416.0,564.9C417.2,564.7 418.3,565.1 419.5,565.1C420.7,565.0 422.2,564.6 423.0,564.6C423.8,564.5 423.2,564.8 424.2,564.9C425.2,565.0 427.5,564.9 428.9,565.0C430.4,565.1 431.6,565.6 432.9,565.6C434.2,565.6 435.5,565.3 436.8,565.0C438.1,564.8 439.5,564.3 440.8,564.0C442.1,563.8 443.4,563.8 444.7,563.6C446.0,563.5 447.3,563.2 448.6,563.0C450.0,562.9 451.3,562.6 452.6,562.5C453.9,562.3 455.2,562.1 456.5,562.1C457.8,562.1 459.2,562.2 460.5,562.5C461.8,562.7 463.1,563.4 464.4,563.6C465.7,563.9 467.0,563.7 468.4,564.0C469.7,564.4 471.1,565.0 472.3,565.6C473.4,566.2 474.3,567.1 475.3,567.6C476.2,568.1 477.2,568.5 478.2,568.6C479.2,568.6 480.2,568.2 481.2,568.0C482.2,567.7 483.0,567.3 484.1,567.0C485.3,566.7 486.8,566.7 488.1,566.4C489.4,566.1 490.7,565.6 492.0,565.0C493.3,564.5 494.6,563.7 495.9,563.0C497.3,562.4 498.6,561.7 499.9,561.1C501.2,560.4 502.5,559.7 503.8,559.1C505.1,558.5 506.6,558.0 507.8,557.7C508.9,557.5 509.7,557.3 510.7,557.7C511.7,558.1 512.5,559.2 513.7,560.1C514.8,561.0 516.3,562.2 517.6,563.0C518.9,563.9 520.3,564.4 521.6,565.0C522.9,565.7 524.2,566.4 525.5,567.0C526.8,567.5 528.1,568.2 529.5,568.4C530.8,568.5 532.1,568.1 533.4,568.0C534.7,567.8 536.0,567.5 537.3,567.4C538.6,567.2 540.0,567.3 541.3,567.0C542.6,566.7 544.1,566.3 545.2,565.6C546.4,565.0 547.5,563.9 548.2,563.0C548.9,562.2 549.3,561.1 549.6,560.7" fill="none" stroke="#ef6c34" stroke-width="1.9" stroke-linejoin="round" stroke-linecap="round"/>
<text x="550.00" y="558.70" font-size="12.2" text-anchor="start" fill="#000" stroke="#000" stroke-width="0.28" >-5.07</text>
<line x1="82.80" y1="589.05" x2="82.80" y2="621.55" stroke="#b0b0b0" stroke-width="1.5" />
<line x1="82.10" y1="620.85" x2="549.80" y2="620.85" stroke="#b0b0b0" stroke-width="1.5" />
<line x1="82.80" y1="620.85" x2="82.80" y2="616.65" stroke="#6e6e6e" stroke-width="0.8" />
<line x1="141.18" y1="620.85" x2="141.18" y2="616.65" stroke="#6e6e6e" stroke-width="0.8" />
<line x1="199.55" y1="620.85" x2="199.55" y2="616.65" stroke="#6e6e6e" stroke-width="0.8" />
<line x1="257.93" y1="620.85" x2="257.93" y2="616.65" stroke="#6e6e6e" stroke-width="0.8" />
<line x1="316.30" y1="620.85" x2="316.30" y2="616.65" stroke="#6e6e6e" stroke-width="0.8" />
<line x1="374.68" y1="620.85" x2="374.68" y2="616.65" stroke="#6e6e6e" stroke-width="0.8" />
<line x1="433.05" y1="620.85" x2="433.05" y2="616.65" stroke="#6e6e6e" stroke-width="0.8" />
<line x1="491.43" y1="620.85" x2="491.43" y2="616.65" stroke="#6e6e6e" stroke-width="0.8" />
<line x1="549.80" y1="620.85" x2="549.80" y2="616.65" stroke="#6e6e6e" stroke-width="0.8" />
<line x1="82.80" y1="596.25" x2="87.80" y2="596.25" stroke="#6e6e6e" stroke-width="0.8" />
<line x1="82.80" y1="604.85" x2="87.80" y2="604.85" stroke="#6e6e6e" stroke-width="0.8" />
<line x1="82.80" y1="613.65" x2="87.80" y2="613.65" stroke="#6e6e6e" stroke-width="0.8" />
<path d="M85.3,603.5C87.2,603.5 94.3,603.1 96.6,603.5C99.0,603.9 98.4,604.3 99.3,605.7C100.1,607.1 101.0,610.3 101.9,611.9C102.8,613.5 103.5,614.7 104.5,615.4C105.5,616.1 106.9,615.9 108.0,615.9C109.2,615.9 110.5,615.8 111.5,615.4C112.6,614.9 113.4,613.6 114.2,613.3C114.9,612.9 115.3,612.9 115.9,613.3C116.5,613.6 117.0,614.7 117.7,615.4C118.3,616.1 119.2,617.3 119.9,617.5C120.7,617.7 121.3,617.6 122.0,616.8C122.8,616.0 123.8,613.6 124.7,612.8C125.5,611.9 126.6,612.0 127.3,611.5C128.0,611.1 128.3,610.4 129.1,610.1C129.8,609.8 130.9,609.5 131.7,609.8C132.4,610.1 132.8,610.8 133.4,611.9C134.1,613.0 135.0,615.5 135.7,616.3C136.4,617.0 137.2,616.8 137.8,616.6C138.5,616.5 139.0,615.6 139.6,615.4C140.1,615.1 140.6,615.5 141.3,615.0C142.0,614.6 143.1,613.6 143.9,612.8C144.8,611.9 145.8,610.8 146.6,610.1C147.3,609.5 147.7,608.4 148.3,608.7C148.9,609.0 149.3,610.9 150.1,611.9C150.8,612.8 152.0,614.2 152.7,614.5C153.4,614.8 153.9,614.7 154.5,613.6C155.0,612.6 155.6,609.8 156.2,608.4C156.8,607.0 157.6,605.5 158.3,605.2C159.0,604.9 159.6,605.4 160.2,606.6C160.9,607.9 161.5,610.9 162.3,612.8C163.1,614.7 164.1,616.8 165.0,618.0C165.8,619.3 166.8,620.1 167.6,620.3C168.4,620.4 169.0,620.3 169.7,618.9C170.4,617.5 171.2,614.4 172.0,611.9C172.8,609.4 173.9,605.5 174.6,604.0C175.3,602.5 175.5,602.6 176.0,602.8C176.5,602.9 176.8,603.2 177.4,604.9C178.0,606.5 178.8,610.8 179.5,612.8C180.2,614.7 180.7,616.1 181.6,616.8C182.5,617.5 184.2,617.5 185.1,616.8C186.0,616.1 186.5,614.4 187.2,612.8C187.9,611.1 188.8,607.9 189.5,606.6C190.2,605.3 190.7,604.9 191.2,604.9C191.8,604.9 192.4,605.5 193.0,606.6C193.6,607.8 194.1,610.4 194.7,611.9C195.4,613.3 196.3,614.9 197.1,615.4C197.9,615.9 198.7,615.9 199.4,615.0C200.1,614.2 200.5,611.8 201.1,610.1C201.7,608.5 202.3,606.2 202.9,605.2C203.5,604.3 204.1,604.1 204.6,604.5C205.2,604.9 205.7,606.1 206.4,607.5C207.1,608.9 207.9,611.7 208.7,612.8C209.4,613.8 210.0,613.0 210.8,613.6C211.6,614.2 212.6,615.7 213.4,616.3C214.2,616.8 214.9,617.4 215.7,616.8C216.4,616.2 217.1,614.1 217.8,612.8C218.5,611.4 219.2,609.5 219.9,608.9C220.5,608.3 221.0,608.8 221.6,609.3C222.3,609.7 223.1,611.0 223.9,611.9C224.7,612.8 225.7,613.9 226.5,614.5C227.4,615.1 228.3,615.4 229.2,615.7C230.0,616.0 231.0,616.9 231.8,616.3C232.6,615.6 233.2,613.4 233.9,611.9C234.6,610.3 235.5,607.9 236.2,607.0C236.8,606.0 237.3,605.9 237.9,606.3C238.5,606.7 239.0,608.4 239.7,609.3C240.3,610.1 241.2,611.3 241.9,611.5C242.7,611.7 243.4,610.3 244.1,610.5C244.8,610.7 245.4,612.0 246.2,612.8C246.9,613.5 247.7,614.6 248.4,615.0C249.2,615.5 250.0,615.7 250.7,615.4C251.4,615.1 252.0,613.9 252.8,613.3C253.6,612.6 254.6,611.7 255.4,611.5C256.3,611.4 257.0,612.4 257.7,612.2C258.4,612.1 258.8,610.4 259.5,610.7C260.1,610.9 260.8,612.6 261.6,613.6C262.4,614.7 263.4,616.6 264.2,616.8C265.0,616.9 265.7,615.5 266.5,614.5C267.2,613.5 267.9,611.7 268.6,611.0C269.3,610.3 269.9,610.3 270.7,610.5C271.4,610.6 272.1,611.2 273.0,611.9C273.8,612.6 274.7,613.8 275.6,614.5C276.5,615.2 277.3,616.1 278.2,616.3C279.1,616.4 280.0,615.7 280.8,615.4C281.7,615.1 282.6,614.9 283.5,614.5C284.3,614.1 285.1,613.3 286.1,612.8C287.1,612.2 288.7,610.9 289.6,611.0C290.5,611.1 291.0,612.8 291.7,613.6C292.4,614.5 293.2,615.7 294.0,616.3C294.8,616.8 295.7,616.9 296.6,616.8C297.5,616.6 298.4,615.5 299.2,615.4C300.1,615.3 301.0,616.6 301.9,616.3C302.7,616.0 303.6,614.4 304.5,613.6C305.4,612.8 306.4,611.6 307.1,611.5C307.8,611.4 308.4,612.3 308.9,612.9C309.3,613.6 309.4,614.8 310.0,615.4C310.6,615.9 311.8,616.3 312.6,616.3C313.5,616.3 314.4,615.4 315.3,615.4C316.1,615.4 317.0,616.3 317.9,616.3C318.8,616.2 319.6,614.9 320.5,615.0C321.4,615.2 322.3,617.1 323.1,617.1C324.0,617.2 324.9,616.1 325.8,615.4C326.6,614.7 327.5,613.6 328.4,612.8C329.3,611.9 330.1,610.6 331.0,610.1C331.9,609.6 332.8,609.3 333.6,609.8C334.5,610.2 335.4,611.7 336.3,612.8C337.2,613.8 338.0,615.4 338.9,616.3C339.8,617.1 340.7,618.2 341.5,618.0C342.4,617.9 343.3,616.1 344.2,615.4C345.0,614.7 345.9,614.0 346.8,614.0C347.7,613.9 348.7,615.2 349.4,615.0C350.1,614.8 350.6,614.7 351.2,612.8C351.8,610.8 352.3,606.2 352.9,603.1C353.5,600.1 354.0,596.8 354.7,594.4C355.3,592.0 356.4,589.0 356.9,588.8C357.5,588.5 357.7,590.7 358.2,592.6C358.7,594.6 359.2,598.3 359.9,600.5C360.7,602.7 361.7,604.1 362.6,605.7C363.4,607.4 364.5,609.0 365.2,610.1C365.9,611.3 366.4,612.6 366.9,612.8C367.5,612.9 368.0,611.4 368.7,611.0C369.4,610.6 370.5,610.0 371.3,610.5C372.1,610.9 372.7,612.4 373.4,613.6C374.1,614.9 374.9,617.1 375.7,618.0C376.5,618.9 377.4,618.9 378.3,618.9C379.2,618.9 380.1,618.6 380.9,618.0C381.8,617.4 382.6,616.0 383.6,615.4C384.6,614.8 386.1,614.8 387.1,614.5C388.1,614.2 388.8,613.6 389.7,613.6C390.6,613.6 391.5,613.9 392.3,614.5C393.2,615.1 394.1,616.6 395.0,617.1C395.8,617.6 396.7,617.5 397.6,617.5C398.5,617.4 399.3,616.6 400.2,616.8C401.1,617.0 402.0,618.7 402.8,618.9C403.7,619.1 404.6,618.4 405.5,618.0C406.4,617.7 407.2,616.8 408.1,616.8C409.0,616.8 409.9,618.0 410.7,618.0C411.6,618.1 412.5,617.9 413.4,617.1C414.2,616.4 415.2,614.9 416.0,613.6C416.8,612.4 417.5,610.5 418.3,609.8C419.0,609.0 419.7,608.9 420.4,609.3C421.1,609.6 421.7,610.6 422.5,611.9C423.2,613.2 424.0,615.9 424.7,617.1C425.5,618.4 426.3,619.3 427.0,619.6C427.7,619.9 428.4,619.6 428.9,618.9C429.5,618.2 429.9,616.7 430.5,615.4C431.2,614.1 432.1,611.7 432.9,611.0C433.7,610.4 434.4,610.7 435.2,611.4C436.1,612.2 436.9,614.5 437.8,615.4C438.7,616.3 439.8,616.8 440.8,617.0C441.8,617.1 442.7,616.4 443.7,616.4C444.7,616.4 445.7,617.6 446.7,617.0C447.7,616.3 448.7,613.4 449.6,612.4C450.6,611.4 451.4,610.9 452.2,611.0C453.0,611.1 453.7,612.6 454.6,613.0C455.4,613.5 456.5,613.2 457.5,613.8C458.5,614.4 459.5,616.1 460.5,616.4C461.5,616.6 462.4,615.9 463.4,615.4C464.4,614.9 465.4,613.5 466.4,613.4C467.4,613.3 468.4,614.5 469.3,615.0C470.3,615.5 471.3,615.6 472.3,616.4C473.3,617.1 474.3,618.8 475.3,619.3C476.2,619.9 477.2,619.9 478.2,619.7C479.2,619.6 480.2,618.7 481.2,618.3C482.2,617.9 483.1,617.4 484.1,617.4C485.1,617.4 486.1,618.5 487.1,618.3C488.1,618.2 489.1,617.3 490.0,616.4C491.0,615.5 492.0,613.7 493.0,613.0C494.0,612.4 495.0,612.4 495.9,612.4C496.9,612.5 497.9,613.6 498.9,613.4C499.9,613.2 500.9,611.9 501.9,611.4C502.8,610.9 503.8,610.2 504.8,610.5C505.8,610.7 506.8,612.1 507.8,613.0C508.8,613.9 509.7,615.2 510.7,615.8C511.7,616.3 512.7,616.4 513.7,616.4C514.7,616.3 515.7,615.3 516.6,615.4C517.6,615.5 518.4,616.8 519.6,617.0C520.7,617.1 522.4,616.2 523.5,616.4C524.7,616.5 525.5,617.3 526.5,617.7C527.5,618.2 528.3,619.1 529.5,619.3C530.6,619.5 532.1,619.2 533.4,618.9C534.7,618.7 536.0,617.8 537.3,617.7C538.6,617.6 540.0,618.4 541.3,618.3C542.6,618.3 544.0,617.8 545.2,617.4C546.5,616.9 548.2,615.7 548.8,615.4" fill="none" stroke="#9c9c9c" stroke-width="1.9" stroke-linejoin="round" stroke-linecap="round"/>
<path d="M85.3,602.6C86.4,602.6 90.7,602.2 92.3,602.6C93.9,602.9 94.0,603.9 94.9,604.7C95.8,605.4 96.6,606.6 97.5,607.1C98.4,607.6 99.3,607.0 100.1,607.6C101.0,608.3 101.9,610.1 102.8,611.2C103.6,612.2 104.5,613.5 105.4,614.1C106.3,614.7 107.2,614.3 108.0,614.7C108.9,615.0 109.8,615.8 110.7,616.4C111.5,617.0 112.4,617.7 113.3,618.2C114.2,618.6 115.0,619.0 115.9,619.0C116.8,619.0 117.7,618.7 118.5,618.2C119.4,617.6 120.3,616.7 121.2,615.9C122.0,615.1 123.0,614.0 123.8,613.4C124.6,612.8 125.2,612.3 125.9,612.4C126.6,612.4 127.4,613.3 128.2,613.8C129.0,614.2 129.9,615.0 130.8,615.2C131.7,615.3 132.6,615.1 133.4,614.7C134.3,614.2 135.2,613.1 136.1,612.4C136.9,611.6 137.8,610.7 138.7,610.3C139.6,609.8 140.4,609.8 141.3,609.8C142.2,609.8 143.1,610.2 143.9,610.3C144.8,610.3 145.8,610.3 146.6,609.9C147.4,609.6 147.9,608.8 148.7,608.2C149.4,607.6 150.1,606.7 150.9,606.4C151.8,606.1 152.7,606.4 153.6,606.4C154.5,606.5 155.4,606.9 156.2,606.8C157.0,606.6 157.8,605.2 158.5,605.4C159.2,605.5 159.6,606.5 160.2,607.6C160.9,608.8 161.6,610.7 162.3,612.0C163.0,613.3 163.7,614.8 164.4,615.5C165.2,616.3 166.0,616.5 166.7,616.4C167.5,616.4 168.3,615.8 169.0,615.2C169.7,614.6 170.3,613.7 171.1,612.9C171.9,612.1 172.9,610.9 173.7,610.3C174.5,609.6 175.3,608.9 176.0,608.9C176.7,608.8 177.3,609.3 178.1,609.9C178.9,610.5 179.9,611.8 180.7,612.4C181.5,613.0 182.3,613.3 183.0,613.4C183.7,613.5 184.3,613.2 185.1,612.9C185.9,612.6 186.9,612.0 187.7,611.7C188.6,611.3 189.5,610.9 190.4,610.8C191.2,610.7 192.3,610.9 193.0,611.2C193.7,611.4 194.0,612.0 194.7,612.0C195.5,612.0 196.7,611.9 197.6,611.2C198.5,610.4 199.4,608.7 200.3,607.6C201.1,606.6 202.2,605.3 202.9,604.7C203.6,604.1 204.0,603.9 204.6,604.1C205.3,604.4 206.2,605.5 206.9,606.4C207.6,607.4 208.2,608.9 209.0,609.9C209.8,610.9 210.8,611.9 211.6,612.4C212.5,612.8 213.4,612.7 214.3,612.6C215.1,612.4 216.1,611.9 216.9,611.7C217.7,611.4 218.4,611.1 219.2,611.2C219.9,611.2 220.5,611.3 221.3,612.0C222.1,612.8 223.1,614.5 223.9,615.5C224.7,616.6 225.5,617.6 226.2,618.2C226.9,618.7 227.3,619.2 227.9,619.0C228.6,618.9 229.3,618.2 230.0,617.3C230.7,616.4 231.4,614.9 232.1,613.8C232.9,612.7 233.7,611.3 234.4,610.6C235.2,610.0 236.0,609.7 236.7,609.8C237.4,609.8 238.1,610.5 238.8,611.2C239.5,611.8 240.2,613.2 240.9,613.8C241.6,614.4 242.4,614.7 243.2,614.7C244.0,614.7 244.9,613.9 245.8,613.8C246.7,613.7 247.6,614.2 248.4,614.1C249.3,614.1 250.2,613.8 251.1,613.4C251.9,613.1 252.9,612.3 253.7,612.0C254.5,611.8 255.2,611.6 256.0,612.0C256.7,612.5 257.4,614.0 258.1,614.7C258.8,615.3 259.4,616.0 260.2,616.1C260.9,616.1 261.7,615.8 262.4,615.2C263.2,614.6 264.0,613.2 264.7,612.4C265.5,611.6 266.1,610.7 266.8,610.3C267.5,609.9 268.2,609.8 268.9,609.9C269.7,610.1 270.4,610.5 271.2,611.2C272.0,611.9 272.8,613.4 273.5,614.1C274.2,614.9 274.8,615.4 275.6,615.5C276.4,615.7 277.3,615.4 278.2,615.2C279.1,614.9 280.0,614.4 280.8,614.1C281.7,613.8 282.6,613.4 283.5,613.4C284.3,613.4 285.0,613.6 285.7,614.1C286.5,614.6 287.1,615.8 287.8,616.4C288.6,617.0 289.6,617.5 290.5,617.6C291.4,617.7 292.1,617.2 293.1,616.9C294.1,616.7 295.4,616.2 296.6,616.1C297.8,615.9 299.1,615.9 300.1,616.1C301.1,616.3 301.9,616.8 302.7,617.3C303.6,617.7 304.5,618.5 305.4,618.7C306.2,618.8 307.3,618.4 308.0,618.2C308.7,617.9 309.0,617.6 309.7,617.3C310.5,617.0 311.7,616.4 312.6,616.4C313.5,616.4 314.4,616.8 315.3,617.3C316.1,617.8 317.1,619.1 317.9,619.6C318.7,620.0 319.4,620.3 320.2,619.9C320.9,619.5 321.5,618.3 322.3,617.3C323.1,616.3 324.0,614.7 324.9,613.8C325.8,612.9 326.7,612.2 327.5,612.0C328.3,611.9 328.9,612.3 329.6,612.9C330.4,613.5 331.1,614.8 331.9,615.5C332.7,616.3 333.6,617.1 334.5,617.3C335.4,617.4 336.3,616.6 337.2,616.4C338.0,616.3 338.9,616.1 339.8,616.4C340.7,616.7 341.6,617.7 342.4,618.2C343.2,618.6 344.0,619.2 344.7,619.0C345.4,618.9 346.1,618.3 346.8,617.3C347.5,616.3 348.2,614.7 348.9,612.9C349.6,611.2 350.4,608.5 351.2,606.8C351.9,605.0 352.7,603.5 353.4,602.4C354.2,601.3 354.8,600.4 355.5,600.1C356.2,599.8 356.9,600.1 357.6,600.6C358.4,601.2 359.2,602.4 359.9,603.3C360.7,604.1 361.5,605.4 362.2,605.9C362.9,606.4 363.6,606.0 364.3,606.4C365.0,606.9 365.7,607.7 366.4,608.5C367.1,609.3 367.9,610.5 368.7,611.2C369.4,611.8 370.2,612.3 371.0,612.4C371.7,612.5 372.4,611.7 373.1,611.7C373.8,611.6 374.4,611.5 375.2,612.0C375.9,612.5 376.7,613.9 377.4,614.7C378.2,615.4 379.0,616.5 379.7,616.8C380.5,617.1 381.0,616.7 381.8,616.4C382.6,616.1 383.6,615.4 384.5,615.2C385.3,615.0 386.0,615.0 386.7,615.2C387.5,615.4 388.0,615.9 388.8,616.4C389.6,616.9 390.6,617.8 391.5,618.2C392.3,618.5 393.2,618.6 394.1,618.5C395.0,618.5 395.8,617.9 396.7,617.8C397.6,617.7 398.5,617.6 399.3,617.8C400.2,618.0 400.9,618.7 402.0,619.0C403.0,619.3 404.3,619.6 405.5,619.6C406.6,619.6 407.8,619.3 409.0,619.0C410.1,618.8 411.5,618.5 412.5,618.2C413.5,617.8 414.2,617.4 415.1,616.9C416.0,616.5 416.9,615.9 417.7,615.5C418.6,615.2 419.3,614.9 420.0,615.0C420.7,615.1 421.3,615.4 422.1,615.9C422.9,616.4 423.9,617.5 424.7,618.2C425.6,618.8 426.5,619.3 427.0,619.6C427.6,619.8 427.3,619.8 428.0,619.5C428.6,619.1 429.9,618.2 430.9,617.5C431.9,616.8 432.9,615.5 433.9,615.1C434.8,614.8 435.6,615.3 436.4,615.5C437.3,615.8 437.9,616.5 438.8,616.5C439.7,616.6 440.8,616.4 441.8,615.9C442.7,615.5 443.7,614.6 444.7,614.0C445.7,613.3 446.7,612.5 447.7,612.2C448.6,611.9 449.4,611.8 450.2,612.0C451.0,612.2 451.7,613.0 452.6,613.6C453.5,614.2 454.6,615.1 455.5,615.5C456.5,616.0 457.3,616.2 458.1,616.1C458.9,616.0 459.6,615.4 460.5,614.9C461.4,614.5 462.5,613.7 463.4,613.6C464.4,613.4 465.1,613.6 466.0,614.0C466.9,614.4 467.8,615.3 468.8,615.9C469.7,616.6 470.8,617.4 471.9,617.9C473.0,618.4 474.2,618.7 475.3,619.1C476.3,619.5 477.2,620.2 478.2,620.5C479.2,620.8 480.2,621.1 481.2,620.9C482.1,620.6 482.8,619.8 483.7,619.1C484.6,618.4 485.6,616.9 486.5,616.5C487.4,616.1 488.1,616.4 489.1,616.5C490.0,616.7 491.0,617.5 492.0,617.5C493.0,617.5 494.0,617.2 495.0,616.5C495.9,615.8 496.9,614.2 497.9,613.2C498.9,612.2 499.9,611.1 500.9,610.6C501.9,610.1 502.8,609.9 503.8,610.0C504.8,610.1 505.8,610.8 506.8,611.2C507.8,611.6 508.8,612.4 509.7,612.6C510.7,612.7 511.8,612.2 512.7,612.2C513.6,612.2 514.4,612.2 515.3,612.6C516.1,613.0 517.0,613.8 518.0,614.5C519.0,615.3 520.1,616.4 521.2,617.1C522.3,617.9 523.5,618.8 524.5,619.1C525.6,619.4 526.5,618.9 527.5,619.1C528.5,619.2 529.5,619.6 530.4,619.9C531.4,620.1 532.4,620.4 533.4,620.5C534.4,620.5 535.4,620.3 536.4,620.1C537.3,619.8 538.2,619.3 539.3,619.1C540.5,618.8 542.1,618.7 543.2,618.5C544.4,618.3 545.4,618.6 546.2,617.9C547.0,617.2 547.6,615.7 548.2,614.5C548.7,613.4 549.3,611.8 549.6,611.2" fill="none" stroke="#ef6c34" stroke-width="1.9" stroke-linejoin="round" stroke-linecap="round"/>
<text x="550.00" y="610.05" font-size="12.2" text-anchor="start" fill="#000" stroke="#000" stroke-width="0.28" >-4.07</text>
<line x1="82.80" y1="640.40" x2="82.80" y2="672.90" stroke="#b0b0b0" stroke-width="1.5" />
<line x1="82.10" y1="672.20" x2="549.80" y2="672.20" stroke="#b0b0b0" stroke-width="1.5" />
<line x1="82.80" y1="672.20" x2="82.80" y2="668.00" stroke="#6e6e6e" stroke-width="0.8" />
<line x1="141.18" y1="672.20" x2="141.18" y2="668.00" stroke="#6e6e6e" stroke-width="0.8" />
<line x1="199.55" y1="672.20" x2="199.55" y2="668.00" stroke="#6e6e6e" stroke-width="0.8" />
<line x1="257.93" y1="672.20" x2="257.93" y2="668.00" stroke="#6e6e6e" stroke-width="0.8" />
<line x1="316.30" y1="672.20" x2="316.30" y2="668.00" stroke="#6e6e6e" stroke-width="0.8" />
<line x1="374.68" y1="672.20" x2="374.68" y2="668.00" stroke="#6e6e6e" stroke-width="0.8" />
<line x1="433.05" y1="672.20" x2="433.05" y2="668.00" stroke="#6e6e6e" stroke-width="0.8" />
<line x1="491.43" y1="672.20" x2="491.43" y2="668.00" stroke="#6e6e6e" stroke-width="0.8" />
<line x1="549.80" y1="672.20" x2="549.80" y2="668.00" stroke="#6e6e6e" stroke-width="0.8" />
<line x1="82.80" y1="647.60" x2="87.80" y2="647.60" stroke="#6e6e6e" stroke-width="0.8" />
<line x1="82.80" y1="656.20" x2="87.80" y2="656.20" stroke="#6e6e6e" stroke-width="0.8" />
<line x1="82.80" y1="665.00" x2="87.80" y2="665.00" stroke="#6e6e6e" stroke-width="0.8" />
<path d="M85.3,654.7C87.2,654.7 94.3,654.4 96.6,654.7C99.0,655.1 98.4,655.5 99.3,656.8C100.1,658.1 101.0,661.0 101.9,662.4C102.8,663.9 103.5,665.0 104.5,665.6C105.5,666.3 106.9,666.1 108.0,666.1C109.2,666.1 110.5,666.0 111.5,665.6C112.6,665.2 113.4,664.0 114.2,663.7C114.9,663.4 115.3,663.4 115.9,663.7C116.5,664.0 117.0,665.0 117.7,665.6C118.3,666.3 119.2,667.4 119.9,667.6C120.7,667.8 121.3,667.6 122.0,666.9C122.8,666.2 123.8,664.0 124.7,663.2C125.5,662.4 126.6,662.5 127.3,662.1C128.0,661.7 128.3,661.1 129.1,660.8C129.8,660.5 130.9,660.2 131.7,660.5C132.4,660.8 132.8,661.4 133.4,662.4C134.1,663.4 135.0,665.7 135.7,666.4C136.4,667.2 137.2,666.9 137.8,666.8C138.5,666.6 139.0,665.9 139.6,665.6C140.1,665.4 140.6,665.7 141.3,665.3C142.0,664.9 143.1,664.0 143.9,663.2C144.8,662.5 145.8,661.4 146.6,660.8C147.3,660.2 147.7,659.3 148.3,659.5C148.9,659.8 149.3,661.5 150.1,662.4C150.8,663.3 152.0,664.6 152.7,664.8C153.4,665.1 153.9,665.0 154.5,664.0C155.0,663.1 155.6,660.5 156.2,659.2C156.8,657.9 157.6,656.6 158.3,656.3C159.0,656.1 159.6,656.5 160.2,657.6C160.9,658.8 161.5,661.5 162.3,663.2C163.1,665.0 164.1,666.9 165.0,668.0C165.8,669.2 166.8,670.0 167.6,670.1C168.4,670.3 169.0,670.1 169.7,668.8C170.4,667.6 171.2,664.7 172.0,662.4C172.8,660.1 173.9,656.6 174.6,655.2C175.3,653.8 175.5,653.9 176.0,654.1C176.5,654.2 176.8,654.5 177.4,656.0C178.0,657.5 178.8,661.4 179.5,663.2C180.2,665.0 180.7,666.3 181.6,666.9C182.5,667.5 184.2,667.5 185.1,666.9C186.0,666.3 186.5,664.8 187.2,663.2C187.9,661.7 188.8,658.8 189.5,657.6C190.2,656.4 190.7,656.0 191.2,656.0C191.8,656.0 192.4,656.5 193.0,657.6C193.6,658.7 194.1,661.1 194.7,662.4C195.4,663.8 196.3,665.2 197.1,665.6C197.9,666.1 198.7,666.1 199.4,665.3C200.1,664.5 200.5,662.3 201.1,660.8C201.7,659.3 202.3,657.2 202.9,656.3C203.5,655.5 204.1,655.3 204.6,655.7C205.2,656.0 205.7,657.1 206.4,658.4C207.1,659.7 207.9,662.3 208.7,663.2C209.4,664.2 210.0,663.5 210.8,664.0C211.6,664.6 212.6,666.0 213.4,666.4C214.2,666.9 214.9,667.5 215.7,666.9C216.4,666.4 217.1,664.4 217.8,663.2C218.5,662.0 219.2,660.2 219.9,659.7C220.5,659.2 221.0,659.6 221.6,660.0C222.3,660.5 223.1,661.6 223.9,662.4C224.7,663.2 225.7,664.2 226.5,664.8C227.4,665.4 228.3,665.7 229.2,666.0C230.0,666.2 231.0,667.0 231.8,666.4C232.6,665.9 233.2,663.8 233.9,662.4C234.6,661.0 235.5,658.8 236.2,657.9C236.8,657.1 237.3,656.9 237.9,657.3C238.5,657.6 239.0,659.2 239.7,660.0C240.3,660.8 241.2,661.9 241.9,662.1C242.7,662.3 243.4,661.0 244.1,661.1C244.8,661.3 245.4,662.5 246.2,663.2C246.9,663.9 247.7,664.9 248.4,665.3C249.2,665.7 250.0,665.9 250.7,665.6C251.4,665.4 252.0,664.3 252.8,663.7C253.6,663.1 254.6,662.3 255.4,662.1C256.3,661.9 257.0,662.9 257.7,662.7C258.4,662.6 258.8,661.1 259.5,661.3C260.1,661.5 260.8,663.1 261.6,664.0C262.4,665.0 263.4,666.8 264.2,666.9C265.0,667.1 265.7,665.7 266.5,664.8C267.2,663.9 267.9,662.2 268.6,661.6C269.3,661.0 269.9,661.0 270.7,661.1C271.4,661.3 272.1,661.8 273.0,662.4C273.8,663.0 274.7,664.2 275.6,664.8C276.5,665.5 277.3,666.3 278.2,666.4C279.1,666.6 280.0,665.9 280.8,665.6C281.7,665.4 282.6,665.2 283.5,664.8C284.3,664.4 285.1,663.8 286.1,663.2C287.1,662.7 288.7,661.5 289.6,661.6C290.5,661.8 291.0,663.2 291.7,664.0C292.4,664.8 293.2,666.0 294.0,666.4C294.8,666.9 295.7,667.1 296.6,666.9C297.5,666.8 298.4,665.7 299.2,665.6C300.1,665.6 301.0,666.7 301.9,666.4C302.7,666.2 303.6,664.8 304.5,664.0C305.4,663.3 306.4,662.2 307.1,662.1C307.8,662.0 308.4,662.8 308.9,663.4C309.3,664.0 309.4,665.1 310.0,665.6C310.6,666.1 311.8,666.4 312.6,666.4C313.5,666.4 314.4,665.6 315.3,665.6C316.1,665.6 317.0,666.5 317.9,666.4C318.8,666.4 319.6,665.2 320.5,665.3C321.4,665.4 322.3,667.2 323.1,667.2C324.0,667.3 324.9,666.3 325.8,665.6C326.6,665.0 327.5,664.0 328.4,663.2C329.3,662.4 330.1,661.3 331.0,660.8C331.9,660.4 332.8,660.1 333.6,660.5C334.5,660.9 335.4,662.2 336.3,663.2C337.2,664.2 338.0,665.6 338.9,666.4C339.8,667.2 340.7,668.2 341.5,668.0C342.4,667.9 343.3,666.3 344.2,665.6C345.0,665.0 345.9,664.4 346.8,664.4C347.7,664.3 348.7,665.5 349.4,665.3C350.1,665.1 350.6,665.0 351.2,663.2C351.8,661.4 352.3,657.2 352.9,654.4C353.5,651.6 354.0,648.6 354.7,646.4C355.3,644.2 356.4,641.5 356.9,641.2C357.5,641.0 357.7,643.0 358.2,644.8C358.7,646.5 359.2,650.0 359.9,652.0C360.7,654.0 361.7,655.3 362.6,656.8C363.4,658.3 364.5,659.7 365.2,660.8C365.9,661.9 366.4,663.1 366.9,663.2C367.5,663.4 368.0,662.0 368.7,661.6C369.4,661.3 370.5,660.7 371.3,661.1C372.1,661.5 372.7,662.9 373.4,664.0C374.1,665.2 374.9,667.2 375.7,668.0C376.5,668.8 377.4,668.8 378.3,668.8C379.2,668.8 380.1,668.6 380.9,668.0C381.8,667.5 382.6,666.2 383.6,665.6C384.6,665.1 386.1,665.1 387.1,664.8C388.1,664.6 388.8,664.0 389.7,664.0C390.6,664.0 391.5,664.3 392.3,664.8C393.2,665.4 394.1,666.8 395.0,667.2C395.8,667.7 396.7,667.6 397.6,667.6C398.5,667.5 399.3,666.7 400.2,666.9C401.1,667.1 402.0,668.7 402.8,668.8C403.7,669.0 404.6,668.4 405.5,668.0C406.4,667.7 407.2,666.9 408.1,666.9C409.0,666.9 409.9,668.0 410.7,668.0C411.6,668.1 412.5,667.9 413.4,667.2C414.2,666.6 415.2,665.2 416.0,664.0C416.8,662.9 417.5,661.2 418.3,660.5C419.0,659.8 419.7,659.7 420.4,660.0C421.1,660.3 421.7,661.2 422.5,662.4C423.2,663.6 424.0,666.1 424.7,667.2C425.5,668.4 426.3,669.2 427.0,669.5C427.7,669.8 428.4,669.5 428.9,668.9C429.5,668.2 429.9,666.8 430.5,665.6C431.2,664.4 432.1,662.3 432.9,661.7C433.7,661.1 434.4,661.4 435.2,662.0C436.1,662.7 436.9,664.8 437.8,665.6C438.7,666.5 439.8,666.9 440.8,667.1C441.8,667.2 442.7,666.5 443.7,666.5C444.7,666.5 445.7,667.7 446.7,667.1C447.7,666.5 448.7,663.8 449.6,662.9C450.6,662.0 451.4,661.6 452.2,661.7C453.0,661.8 453.7,663.0 454.6,663.5C455.4,663.9 456.5,663.7 457.5,664.2C458.5,664.7 459.5,666.3 460.5,666.5C461.5,666.8 462.4,666.1 463.4,665.6C464.4,665.2 465.4,663.9 466.4,663.8C467.4,663.8 468.4,664.8 469.3,665.3C470.3,665.7 471.3,665.9 472.3,666.5C473.3,667.2 474.3,668.7 475.3,669.3C476.2,669.8 477.2,669.8 478.2,669.6C479.2,669.5 480.2,668.7 481.2,668.3C482.2,668.0 483.1,667.4 484.1,667.4C485.1,667.4 486.1,668.5 487.1,668.3C488.1,668.2 489.1,667.4 490.0,666.5C491.0,665.7 492.0,664.1 493.0,663.5C494.0,662.9 495.0,662.9 495.9,662.9C496.9,663.0 497.9,664.0 498.9,663.8C499.9,663.7 500.9,662.5 501.9,662.0C502.8,661.6 503.8,660.9 504.8,661.1C505.8,661.4 506.8,662.7 507.8,663.5C508.8,664.3 509.7,665.5 510.7,666.0C511.7,666.5 512.7,666.6 513.7,666.5C514.7,666.5 515.7,665.5 516.6,665.6C517.6,665.7 518.4,666.9 519.6,667.1C520.7,667.2 522.4,666.4 523.5,666.5C524.7,666.7 525.5,667.4 526.5,667.8C527.5,668.3 528.3,669.1 529.5,669.3C530.6,669.4 532.1,669.1 533.4,668.9C534.7,668.6 536.0,667.9 537.3,667.8C538.6,667.7 540.0,668.4 541.3,668.3C542.6,668.3 544.0,667.9 545.2,667.4C546.5,667.0 548.2,665.9 548.8,665.6" fill="none" stroke="#9c9c9c" stroke-width="1.9" stroke-linejoin="round" stroke-linecap="round"/>
<path d="M85.3,652.2C86.5,652.2 91.2,651.7 92.6,652.2C94.1,652.7 93.4,653.5 94.0,655.1C94.6,656.8 95.5,660.3 96.1,662.2C96.8,664.1 97.3,665.7 97.9,666.5C98.4,667.4 98.7,667.7 99.3,667.4C99.8,667.1 100.4,665.7 101.0,664.8C101.7,663.9 102.4,662.7 103.1,662.2C103.9,661.6 104.6,661.6 105.4,661.6C106.2,661.7 107.2,662.1 108.0,662.5C108.9,662.9 109.8,663.1 110.7,663.9C111.5,664.7 112.5,666.4 113.3,667.4C114.1,668.4 114.7,669.3 115.4,669.7C116.0,670.0 116.5,669.9 117.1,669.5C117.8,669.1 118.6,668.1 119.4,667.1C120.2,666.1 121.3,664.5 122.0,663.6C122.8,662.6 123.5,661.7 124.1,661.3C124.8,660.8 125.2,660.5 125.9,660.9C126.6,661.4 127.4,662.8 128.2,663.9C128.9,665.0 129.8,666.7 130.5,667.4C131.1,668.1 131.6,668.4 132.2,668.3C132.8,668.1 133.6,667.4 134.3,666.5C135.0,665.7 135.7,664.1 136.4,663.0C137.1,662.0 137.9,661.0 138.7,660.4C139.4,659.8 140.2,659.4 141.0,659.5C141.7,659.7 142.4,660.5 143.1,661.3C143.8,662.0 144.4,663.3 145.2,663.9C145.9,664.5 146.6,665.1 147.4,665.1C148.3,665.1 149.2,664.6 150.1,663.9C150.9,663.2 151.8,661.9 152.7,660.9C153.6,659.9 154.5,658.7 155.3,657.8C156.1,656.8 156.8,655.6 157.4,655.1C158.1,654.7 158.6,654.4 159.2,655.1C159.8,655.9 160.4,657.8 160.9,659.5C161.5,661.3 162.1,663.8 162.7,665.7C163.3,667.6 163.9,669.8 164.4,670.9C165.0,672.0 165.3,672.2 165.8,672.1C166.4,672.1 166.9,671.6 167.6,670.6C168.2,669.5 169.0,667.4 169.7,665.7C170.4,664.0 171.2,661.9 172.0,660.4C172.7,658.9 173.4,657.5 174.1,656.9C174.7,656.3 175.2,656.2 175.8,656.9C176.5,657.6 177.3,659.7 178.1,661.3C178.9,662.9 179.9,665.4 180.7,666.5C181.6,667.6 182.6,667.9 183.4,667.9C184.1,667.9 184.7,667.5 185.5,666.5C186.2,665.6 187.0,663.5 187.7,662.2C188.5,660.8 189.2,659.2 189.8,658.6C190.5,658.1 191.0,658.2 191.6,658.6C192.2,659.1 193.0,660.6 193.5,661.6C194.1,662.6 194.5,663.7 195.0,664.8C195.5,665.8 196.2,667.6 196.8,667.9C197.3,668.2 197.9,667.6 198.5,666.5C199.1,665.4 199.9,663.0 200.6,661.3C201.3,659.5 202.2,657.0 202.9,656.0C203.6,655.0 204.1,654.7 204.6,655.1C205.2,655.6 205.7,656.9 206.4,658.6C207.1,660.4 207.9,663.8 208.7,665.7C209.4,667.5 210.2,668.9 210.8,669.5C211.4,670.1 211.6,669.8 212.2,669.2C212.7,668.5 213.3,667.0 213.9,665.7C214.6,664.3 215.2,662.6 216.0,661.3C216.8,660.0 217.9,658.4 218.6,657.8C219.4,657.1 220.1,657.0 220.8,657.4C221.4,657.9 221.9,659.0 222.5,660.4C223.1,661.8 223.8,663.9 224.4,665.7C225.1,667.4 225.9,669.9 226.5,670.9C227.1,671.9 227.4,672.1 227.9,671.8C228.5,671.5 229.0,670.6 229.7,669.2C230.4,667.7 231.3,664.9 232.1,663.0C233.0,661.1 234.0,658.9 234.8,657.8C235.5,656.7 236.1,656.3 236.7,656.5C237.3,656.8 237.8,658.0 238.4,659.5C239.1,661.0 239.8,664.0 240.5,665.7C241.2,667.4 242.0,669.0 242.6,669.7C243.3,670.4 243.7,670.2 244.4,669.7C245.1,669.2 245.9,668.0 246.7,666.9C247.5,665.8 248.4,664.3 249.3,663.0C250.2,661.8 251.4,660.3 252.3,659.5C253.2,658.8 253.9,658.3 254.6,658.6C255.2,659.0 255.7,660.3 256.3,661.6C257.0,662.9 257.7,665.3 258.4,666.5C259.1,667.8 260.0,668.9 260.7,669.2C261.4,669.4 261.8,669.0 262.4,667.9C263.1,666.9 264.0,664.6 264.7,663.0C265.5,661.5 266.2,659.6 266.8,658.6C267.5,657.7 268.0,657.1 268.6,657.4C269.2,657.7 269.7,659.1 270.3,660.4C271.0,661.7 271.7,663.8 272.4,665.1C273.2,666.5 274.0,668.1 274.7,668.6C275.4,669.2 275.8,668.9 276.5,668.3C277.1,667.6 277.9,666.0 278.7,664.8C279.5,663.6 280.4,661.8 281.2,660.9C282.0,660.1 282.8,659.5 283.5,659.5C284.1,659.5 284.5,659.9 285.2,660.9C285.9,661.9 286.8,664.1 287.5,665.7C288.2,667.2 289.0,669.2 289.6,670.0C290.2,670.9 290.4,671.0 291.0,670.6C291.6,670.1 292.3,668.5 293.1,667.4C293.9,666.3 294.9,664.8 295.7,663.9C296.6,663.0 297.6,662.4 298.4,662.2C299.1,661.9 299.5,661.7 300.1,662.2C300.8,662.6 301.5,663.8 302.2,664.8C302.9,665.8 303.7,667.6 304.5,668.3C305.2,669.0 306.0,669.5 306.8,669.2C307.5,668.9 308.3,667.0 308.9,666.5C309.4,666.0 309.5,666.7 310.0,666.2C310.5,665.7 311.4,664.1 312.1,663.4C312.8,662.7 313.7,662.1 314.4,662.2C315.1,662.2 315.5,662.7 316.1,663.9C316.8,665.1 317.7,667.9 318.4,669.2C319.1,670.4 319.6,671.3 320.2,671.3C320.7,671.3 321.2,670.4 321.9,669.2C322.6,667.9 323.6,665.5 324.4,663.9C325.2,662.4 326.0,660.7 326.6,659.9C327.3,659.1 327.8,658.8 328.4,659.2C329.0,659.6 329.5,660.6 330.1,662.2C330.8,663.7 331.6,666.7 332.2,668.3C332.9,669.9 333.6,671.3 334.2,671.8C334.7,672.3 334.9,672.2 335.4,671.4C335.9,670.7 336.5,668.8 337.2,667.4C337.8,666.0 338.8,663.9 339.4,663.0C340.1,662.2 340.5,661.9 341.2,662.2C341.8,662.4 342.6,663.6 343.3,664.4C344.0,665.3 344.7,666.8 345.4,667.4C346.0,668.1 346.6,668.4 347.1,668.3C347.7,668.1 348.2,667.7 348.9,666.5C349.6,665.4 350.4,663.1 351.2,661.3C351.9,659.5 352.7,657.1 353.4,655.7C354.2,654.3 354.9,653.2 355.5,652.9C356.2,652.5 356.7,652.6 357.3,653.4C357.9,654.2 358.4,656.2 359.1,657.8C359.7,659.4 360.4,661.7 361.2,663.0C361.9,664.3 362.7,665.4 363.4,665.7C364.2,665.9 364.9,665.2 365.7,664.8C366.5,664.4 367.4,664.0 368.2,663.4C368.9,662.8 369.7,662.0 370.4,661.3C371.2,660.6 372.0,659.5 372.7,659.2C373.4,658.9 373.9,658.9 374.5,659.5C375.1,660.2 375.6,661.9 376.2,663.0C376.9,664.1 377.6,665.9 378.3,666.2C379.0,666.5 379.7,665.6 380.4,664.8C381.2,664.0 381.9,662.1 382.7,661.3C383.5,660.5 384.3,659.9 385.0,660.1C385.6,660.2 386.1,660.9 386.7,662.2C387.4,663.4 388.1,665.9 388.8,667.4C389.5,668.9 390.3,670.4 390.9,670.9C391.6,671.4 392.0,671.3 392.7,670.6C393.4,669.8 394.2,667.6 395.0,666.5C395.7,665.4 396.5,664.3 397.2,663.9C398.0,663.6 398.6,663.9 399.3,664.4C400.0,664.9 400.7,666.3 401.4,666.9C402.2,667.5 403.0,668.1 403.7,667.9C404.5,667.8 405.3,666.6 406.0,666.2C406.7,665.7 407.4,665.2 408.1,665.1C408.8,665.0 409.5,665.3 410.2,665.7C410.9,666.0 411.7,667.1 412.5,667.4C413.2,667.7 414.0,667.8 414.8,667.4C415.5,667.0 416.2,665.7 416.9,664.8C417.6,663.8 418.3,662.2 419.0,661.6C419.6,661.0 420.0,660.8 420.7,661.3C421.4,661.7 422.3,663.3 423.0,664.4C423.7,665.6 424.0,667.3 424.7,668.3C425.5,669.2 426.5,670.2 427.4,670.1C428.2,670.0 429.1,668.8 429.9,667.5C430.8,666.3 431.7,663.6 432.5,662.6C433.2,661.6 433.8,661.3 434.5,661.6C435.1,661.9 435.7,663.1 436.4,664.2C437.2,665.3 438.0,667.5 438.8,668.1C439.6,668.8 440.3,668.6 441.2,668.1C442.0,667.6 442.9,666.1 443.7,665.0C444.6,663.8 445.5,662.1 446.3,661.2C447.1,660.3 447.9,659.6 448.6,659.6C449.4,659.7 450.2,660.5 451.0,661.6C451.8,662.8 452.7,665.1 453.6,666.5C454.4,667.9 455.4,669.6 456.1,670.1C456.9,670.6 457.4,670.2 458.1,669.5C458.8,668.7 459.7,666.8 460.5,665.5C461.3,664.3 462.1,662.7 462.8,662.0C463.6,661.3 464.2,660.9 464.8,661.2C465.5,661.6 466.0,663.1 466.8,664.2C467.5,665.2 468.6,666.9 469.3,667.5C470.1,668.2 470.6,668.3 471.3,668.1C472.0,667.9 472.9,666.7 473.7,666.1C474.4,665.5 475.2,664.8 475.8,664.6C476.5,664.4 477.1,664.4 477.8,665.0C478.5,665.5 479.4,667.5 480.2,668.1C481.0,668.8 481.8,669.1 482.5,668.9C483.3,668.7 483.9,667.8 484.5,666.9C485.2,666.0 485.8,664.4 486.5,663.6C487.1,662.8 487.8,661.9 488.5,662.2C489.1,662.5 489.8,664.2 490.4,665.5C491.1,666.9 491.7,669.1 492.4,670.1C493.1,671.1 493.7,671.7 494.4,671.5C495.0,671.3 495.6,670.2 496.3,668.9C497.1,667.6 498.1,665.1 498.9,663.6C499.8,662.0 500.7,660.4 501.5,659.6C502.2,658.9 502.7,658.7 503.4,659.2C504.2,659.7 505.0,661.3 505.8,662.6C506.6,663.9 507.4,666.1 508.2,666.9C508.9,667.7 509.4,668.0 510.1,667.5C510.9,667.1 511.9,665.2 512.7,664.2C513.5,663.2 514.3,662.0 515.1,661.6C515.8,661.2 516.3,661.1 517.0,661.6C517.7,662.1 518.4,663.6 519.2,664.6C520.0,665.5 520.8,666.6 521.6,667.1C522.3,667.6 522.8,667.7 523.5,667.5C524.3,667.4 525.1,666.6 525.9,666.1C526.7,665.7 527.7,665.0 528.5,665.0C529.2,665.0 529.7,665.5 530.4,666.1C531.2,666.7 532.2,667.9 533.0,668.5C533.8,669.1 534.6,669.6 535.4,669.5C536.2,669.4 536.9,668.8 537.7,668.1C538.6,667.5 539.5,666.1 540.3,665.5C541.0,665.0 541.6,664.8 542.3,665.0C542.9,665.1 543.6,666.1 544.2,666.5C544.9,667.0 545.4,667.8 546.2,667.5C547.0,667.2 548.3,665.1 548.8,664.6" fill="none" stroke="#ef6c34" stroke-width="1.9" stroke-linejoin="round" stroke-linecap="round"/>
<text x="550.00" y="661.40" font-size="12.2" text-anchor="start" fill="#000" stroke="#000" stroke-width="0.28" >-3.07</text>
<line x1="82.80" y1="691.75" x2="82.80" y2="724.25" stroke="#b0b0b0" stroke-width="1.5" />
<line x1="82.10" y1="723.55" x2="549.80" y2="723.55" stroke="#b0b0b0" stroke-width="1.5" />
<line x1="82.80" y1="723.55" x2="82.80" y2="719.35" stroke="#6e6e6e" stroke-width="0.8" />
<line x1="141.18" y1="723.55" x2="141.18" y2="719.35" stroke="#6e6e6e" stroke-width="0.8" />
<line x1="199.55" y1="723.55" x2="199.55" y2="719.35" stroke="#6e6e6e" stroke-width="0.8" />
<line x1="257.93" y1="723.55" x2="257.93" y2="719.35" stroke="#6e6e6e" stroke-width="0.8" />
<line x1="316.30" y1="723.55" x2="316.30" y2="719.35" stroke="#6e6e6e" stroke-width="0.8" />
<line x1="374.68" y1="723.55" x2="374.68" y2="719.35" stroke="#6e6e6e" stroke-width="0.8" />
<line x1="433.05" y1="723.55" x2="433.05" y2="719.35" stroke="#6e6e6e" stroke-width="0.8" />
<line x1="491.43" y1="723.55" x2="491.43" y2="719.35" stroke="#6e6e6e" stroke-width="0.8" />
<line x1="549.80" y1="723.55" x2="549.80" y2="719.35" stroke="#6e6e6e" stroke-width="0.8" />
<line x1="82.80" y1="698.75" x2="87.80" y2="698.75" stroke="#6e6e6e" stroke-width="0.8" />
<line x1="82.80" y1="706.15" x2="87.80" y2="706.15" stroke="#6e6e6e" stroke-width="0.8" />
<line x1="82.80" y1="713.85" x2="87.80" y2="713.85" stroke="#6e6e6e" stroke-width="0.8" />
<line x1="82.80" y1="721.65" x2="87.80" y2="721.65" stroke="#6e6e6e" stroke-width="0.8" />
<path d="M85.3,705.4C87.2,705.4 94.3,705.0 96.6,705.4C99.0,705.7 98.4,706.1 99.3,707.3C100.1,708.5 101.0,711.2 101.9,712.5C102.8,713.9 103.5,715.0 104.5,715.5C105.5,716.1 106.9,716.0 108.0,716.0C109.2,716.0 110.5,715.9 111.5,715.5C112.6,715.2 113.4,714.0 114.2,713.7C114.9,713.4 115.3,713.4 115.9,713.7C116.5,714.0 117.0,714.9 117.7,715.5C118.3,716.1 119.2,717.1 119.9,717.3C120.7,717.5 121.3,717.4 122.0,716.7C122.8,716.1 123.8,714.0 124.7,713.3C125.5,712.5 126.6,712.6 127.3,712.2C128.0,711.9 128.3,711.3 129.1,711.1C129.8,710.8 130.9,710.5 131.7,710.8C132.4,711.0 132.8,711.6 133.4,712.5C134.1,713.5 135.0,715.6 135.7,716.3C136.4,717.0 137.2,716.7 137.8,716.6C138.5,716.5 139.0,715.8 139.6,715.5C140.1,715.3 140.6,715.6 141.3,715.2C142.0,714.9 143.1,714.0 143.9,713.3C144.8,712.6 145.8,711.6 146.6,711.1C147.3,710.5 147.7,709.6 148.3,709.9C148.9,710.1 149.3,711.7 150.1,712.5C150.8,713.4 152.0,714.5 152.7,714.8C153.4,715.0 153.9,714.9 154.5,714.0C155.0,713.2 155.6,710.8 156.2,709.6C156.8,708.4 157.6,707.1 158.3,706.9C159.0,706.6 159.6,707.0 160.2,708.1C160.9,709.1 161.5,711.7 162.3,713.3C163.1,714.9 164.1,716.7 165.0,717.8C165.8,718.9 166.8,719.6 167.6,719.7C168.4,719.9 169.0,719.7 169.7,718.5C170.4,717.3 171.2,714.7 172.0,712.5C172.8,710.4 173.9,707.1 174.6,705.8C175.3,704.5 175.5,704.6 176.0,704.8C176.5,704.9 176.8,705.1 177.4,706.6C178.0,708.0 178.8,711.6 179.5,713.3C180.2,715.0 180.7,716.2 181.6,716.7C182.5,717.3 184.2,717.3 185.1,716.7C186.0,716.2 186.5,714.7 187.2,713.3C187.9,711.9 188.8,709.2 189.5,708.1C190.2,706.9 190.7,706.6 191.2,706.6C191.8,706.6 192.4,707.1 193.0,708.1C193.6,709.1 194.1,711.3 194.7,712.5C195.4,713.8 196.3,715.1 197.1,715.5C197.9,716.0 198.7,716.0 199.4,715.2C200.1,714.5 200.5,712.4 201.1,711.1C201.7,709.7 202.3,707.7 202.9,706.9C203.5,706.1 204.1,705.9 204.6,706.3C205.2,706.6 205.7,707.6 206.4,708.8C207.1,710.0 207.9,712.4 208.7,713.3C209.4,714.2 210.0,713.5 210.8,714.0C211.6,714.5 212.6,715.8 213.4,716.3C214.2,716.7 214.9,717.2 215.7,716.7C216.4,716.2 217.1,714.4 217.8,713.3C218.5,712.2 219.2,710.5 219.9,710.0C220.5,709.5 221.0,709.9 221.6,710.3C222.3,710.7 223.1,711.8 223.9,712.5C224.7,713.3 225.7,714.2 226.5,714.8C227.4,715.3 228.3,715.6 229.2,715.8C230.0,716.1 231.0,716.8 231.8,716.3C232.6,715.7 233.2,713.9 233.9,712.5C234.6,711.2 235.5,709.2 236.2,708.4C236.8,707.6 237.3,707.4 237.9,707.8C238.5,708.1 239.0,709.6 239.7,710.3C240.3,711.1 241.2,712.1 241.9,712.2C242.7,712.4 243.4,711.2 244.1,711.4C244.8,711.5 245.4,712.6 246.2,713.3C246.9,713.9 247.7,714.9 248.4,715.2C249.2,715.6 250.0,715.8 250.7,715.5C251.4,715.3 252.0,714.3 252.8,713.7C253.6,713.2 254.6,712.4 255.4,712.2C256.3,712.1 257.0,713.0 257.7,712.8C258.4,712.7 258.8,711.3 259.5,711.5C260.1,711.7 260.8,713.2 261.6,714.0C262.4,714.9 263.4,716.6 264.2,716.7C265.0,716.9 265.7,715.6 266.5,714.8C267.2,714.0 267.9,712.4 268.6,711.8C269.3,711.2 269.9,711.2 270.7,711.4C271.4,711.5 272.1,712.0 273.0,712.5C273.8,713.1 274.7,714.2 275.6,714.8C276.5,715.4 277.3,716.2 278.2,716.3C279.1,716.4 280.0,715.8 280.8,715.5C281.7,715.3 282.6,715.2 283.5,714.8C284.3,714.4 285.1,713.8 286.1,713.3C287.1,712.8 288.7,711.7 289.6,711.8C290.5,711.9 291.0,713.3 291.7,714.0C292.4,714.8 293.2,715.8 294.0,716.3C294.8,716.7 295.7,716.9 296.6,716.7C297.5,716.6 298.4,715.6 299.2,715.5C300.1,715.5 301.0,716.5 301.9,716.3C302.7,716.0 303.6,714.7 304.5,714.0C305.4,713.4 306.4,712.3 307.1,712.2C307.8,712.1 308.4,712.9 308.9,713.4C309.3,714.0 309.4,715.1 310.0,715.5C310.6,716.0 311.8,716.3 312.6,716.3C313.5,716.3 314.4,715.5 315.3,715.5C316.1,715.5 317.0,716.3 317.9,716.3C318.8,716.2 319.6,715.1 320.5,715.2C321.4,715.4 322.3,717.0 323.1,717.0C324.0,717.1 324.9,716.2 325.8,715.5C326.6,714.9 327.5,714.0 328.4,713.3C329.3,712.5 330.1,711.5 331.0,711.1C331.9,710.6 332.8,710.4 333.6,710.8C334.5,711.1 335.4,712.4 336.3,713.3C337.2,714.2 338.0,715.5 338.9,716.3C339.8,717.0 340.7,717.9 341.5,717.8C342.4,717.7 343.3,716.1 344.2,715.5C345.0,715.0 345.9,714.4 346.8,714.3C347.7,714.3 348.7,715.4 349.4,715.2C350.1,715.1 350.6,715.0 351.2,713.3C351.8,711.6 352.3,707.7 352.9,705.1C353.5,702.5 354.0,699.6 354.7,697.6C355.3,695.5 356.4,693.1 356.9,692.8C357.5,692.6 357.7,694.4 358.2,696.1C358.7,697.8 359.2,701.0 359.9,702.8C360.7,704.7 361.7,705.9 362.6,707.3C363.4,708.7 364.5,710.1 365.2,711.1C365.9,712.1 366.4,713.2 366.9,713.3C367.5,713.4 368.0,712.1 368.7,711.8C369.4,711.5 370.5,711.0 371.3,711.4C372.1,711.7 372.7,713.0 373.4,714.0C374.1,715.1 374.9,717.0 375.7,717.8C376.5,718.5 377.4,718.5 378.3,718.5C379.2,718.5 380.1,718.3 380.9,717.8C381.8,717.3 382.6,716.0 383.6,715.5C384.6,715.0 386.1,715.0 387.1,714.8C388.1,714.5 388.8,714.0 389.7,714.0C390.6,714.0 391.5,714.3 392.3,714.8C393.2,715.3 394.1,716.6 395.0,717.0C395.8,717.5 396.7,717.4 397.6,717.3C398.5,717.3 399.3,716.5 400.2,716.7C401.1,716.9 402.0,718.4 402.8,718.5C403.7,718.7 404.6,718.1 405.5,717.8C406.4,717.5 407.2,716.7 408.1,716.7C409.0,716.7 409.9,717.7 410.7,717.8C411.6,717.8 412.5,717.7 413.4,717.0C414.2,716.4 415.2,715.1 416.0,714.0C416.8,713.0 417.5,711.4 418.3,710.8C419.0,710.1 419.7,710.0 420.4,710.3C421.1,710.6 421.7,711.4 422.5,712.5C423.2,713.7 424.0,715.9 424.7,717.0C425.5,718.1 426.3,718.9 427.0,719.1C427.7,719.4 428.4,719.2 428.9,718.6C429.5,718.0 429.9,716.7 430.5,715.5C431.2,714.4 432.1,712.4 432.9,711.8C433.7,711.3 434.4,711.6 435.2,712.2C436.1,712.8 436.9,714.8 437.8,715.5C438.7,716.3 439.8,716.7 440.8,716.9C441.8,717.0 442.7,716.4 443.7,716.4C444.7,716.4 445.7,717.4 446.7,716.9C447.7,716.3 448.7,713.9 449.6,713.0C450.6,712.2 451.4,711.8 452.2,711.8C453.0,711.9 453.7,713.1 454.6,713.5C455.4,713.9 456.5,713.7 457.5,714.2C458.5,714.7 459.5,716.2 460.5,716.4C461.5,716.6 462.4,716.0 463.4,715.5C464.4,715.1 465.4,713.9 466.4,713.9C467.4,713.8 468.4,714.8 469.3,715.2C470.3,715.6 471.3,715.8 472.3,716.4C473.3,717.0 474.3,718.4 475.3,718.9C476.2,719.4 477.2,719.4 478.2,719.2C479.2,719.1 480.2,718.4 481.2,718.1C482.2,717.7 483.1,717.2 484.1,717.2C485.1,717.2 486.1,718.2 487.1,718.1C488.1,717.9 489.1,717.1 490.0,716.4C491.0,715.6 492.0,714.1 493.0,713.5C494.0,713.0 495.0,713.0 495.9,713.0C496.9,713.1 497.9,714.0 498.9,713.9C499.9,713.7 500.9,712.6 501.9,712.2C502.8,711.8 503.8,711.1 504.8,711.3C505.8,711.6 506.8,712.8 507.8,713.5C508.8,714.3 509.7,715.4 510.7,715.9C511.7,716.4 512.7,716.4 513.7,716.4C514.7,716.3 515.7,715.5 516.6,715.5C517.6,715.6 518.4,716.7 519.6,716.9C520.7,717.0 522.4,716.3 523.5,716.4C524.7,716.5 525.5,717.1 526.5,717.6C527.5,718.0 528.3,718.7 529.5,718.9C530.6,719.1 532.1,718.8 533.4,718.6C534.7,718.3 536.0,717.6 537.3,717.6C538.6,717.5 540.0,718.1 541.3,718.1C542.6,718.0 544.0,717.6 545.2,717.2C546.5,716.8 548.2,715.8 548.8,715.5" fill="none" stroke="#9c9c9c" stroke-width="1.9" stroke-linejoin="round" stroke-linecap="round"/>
<path d="M85.3,705.0C86.5,705.0 91.2,704.6 92.6,705.0C94.1,705.5 93.5,706.1 94.0,707.7C94.5,709.3 95.2,712.6 95.8,714.7C96.4,716.7 96.9,718.8 97.5,719.9C98.1,721.0 98.7,721.6 99.3,721.3C99.9,721.0 100.4,719.4 101.0,718.2C101.6,716.9 102.2,714.9 102.8,713.8C103.4,712.7 103.8,711.9 104.5,711.5C105.3,711.1 106.3,711.4 107.2,711.5C108.0,711.7 108.9,711.9 109.8,712.6C110.7,713.2 111.6,714.6 112.4,715.6C113.2,716.5 114.0,717.7 114.7,718.2C115.4,718.7 116.1,718.9 116.8,718.7C117.5,718.5 118.2,717.6 118.9,716.8C119.6,716.0 120.4,714.7 121.2,713.8C121.9,712.9 122.7,711.8 123.4,711.2C124.2,710.6 124.8,710.0 125.5,710.3C126.2,710.6 126.9,711.8 127.6,712.9C128.4,714.1 129.2,716.2 129.9,717.3C130.7,718.4 131.3,719.5 132.0,719.6C132.8,719.7 133.6,718.7 134.3,717.8C135.0,717.0 135.7,715.4 136.4,714.3C137.1,713.3 138.0,712.1 138.7,711.5C139.4,711.0 139.8,710.8 140.4,711.2C141.1,711.6 141.9,712.8 142.7,713.8C143.5,714.8 144.4,716.4 145.2,717.3C146.0,718.2 146.6,718.9 147.4,719.1C148.3,719.2 149.2,718.9 150.1,718.2C150.9,717.5 151.8,716.0 152.7,714.7C153.6,713.4 154.5,711.5 155.3,710.3C156.1,709.1 156.8,707.8 157.4,707.3C158.1,706.8 158.6,706.5 159.2,707.1C159.8,707.8 160.4,709.5 160.9,711.2C161.5,712.9 162.1,715.4 162.7,717.3C163.3,719.2 163.9,721.5 164.4,722.6C165.0,723.6 165.3,723.9 165.8,723.8C166.4,723.6 166.9,722.9 167.6,721.7C168.2,720.5 169.0,718.2 169.7,716.4C170.4,714.6 171.2,712.2 172.0,710.8C172.7,709.4 173.4,708.4 174.1,708.0C174.7,707.6 175.2,707.7 175.8,708.5C176.5,709.4 177.3,711.4 178.1,712.9C178.9,714.5 179.9,716.8 180.7,717.8C181.6,718.9 182.6,719.1 183.4,719.1C184.1,719.0 184.7,718.3 185.5,717.3C186.2,716.3 187.0,714.2 187.7,712.9C188.5,711.6 189.2,710.0 189.8,709.4C190.5,708.8 191.0,708.8 191.6,709.4C192.2,710.0 193.0,711.8 193.5,712.9C194.1,714.1 194.5,715.3 195.0,716.4C195.5,717.6 196.2,719.5 196.8,719.9C197.3,720.4 197.9,719.9 198.5,719.1C199.1,718.2 199.6,716.3 200.3,714.7C200.9,713.1 201.7,710.4 202.4,709.4C203.0,708.4 203.5,708.1 204.1,708.5C204.7,709.0 205.2,710.3 205.9,712.1C206.5,713.8 207.4,717.2 208.1,719.1C208.9,720.9 209.8,722.4 210.4,723.1C211.0,723.8 211.1,723.8 211.6,723.1C212.1,722.4 212.7,720.8 213.4,719.1C214.1,717.4 214.9,714.8 215.7,712.9C216.5,711.1 217.3,709.0 218.1,708.0C218.9,707.1 219.7,706.9 220.4,707.3C221.1,707.7 221.5,708.8 222.2,710.3C222.8,711.8 223.7,714.6 224.4,716.4C225.2,718.3 225.9,720.5 226.5,721.3C227.2,722.2 227.7,722.2 228.3,721.7C228.9,721.2 229.4,719.6 230.0,718.2C230.7,716.7 231.5,714.6 232.3,712.9C233.1,711.2 234.2,709.0 234.9,708.0C235.7,707.1 236.4,706.8 237.0,707.3C237.7,707.8 238.2,709.5 238.8,711.2C239.4,712.8 240.2,715.6 240.9,717.3C241.6,719.1 242.5,721.0 243.2,721.7C243.8,722.4 244.3,721.9 244.9,721.3C245.6,720.8 246.4,719.4 247.2,718.2C248.0,716.9 248.8,715.3 249.7,713.8C250.5,712.3 251.6,710.3 252.5,709.4C253.3,708.5 253.9,708.1 254.6,708.5C255.2,709.0 255.7,710.6 256.3,712.1C257.0,713.5 257.7,715.9 258.4,717.3C259.1,718.7 260.0,720.2 260.7,720.5C261.4,720.8 261.8,720.2 262.4,719.1C263.1,717.9 264.0,715.5 264.7,713.8C265.5,712.1 266.2,710.0 266.8,709.1C267.5,708.1 268.0,707.7 268.6,708.0C269.2,708.4 269.7,709.7 270.3,711.2C271.0,712.6 271.7,715.2 272.4,716.8C273.2,718.3 274.0,719.9 274.7,720.5C275.4,721.0 275.8,721.0 276.5,720.3C277.1,719.6 277.9,717.9 278.7,716.4C279.5,714.9 280.4,712.4 281.2,711.2C282.0,709.9 282.8,709.0 283.5,708.9C284.1,708.8 284.5,709.2 285.2,710.3C285.9,711.4 286.8,714.0 287.5,715.6C288.2,717.1 289.0,719.0 289.6,719.6C290.2,720.2 290.7,719.7 291.4,719.1C292.0,718.4 292.6,716.7 293.5,715.6C294.3,714.4 295.4,712.9 296.3,712.1C297.1,711.2 297.9,710.3 298.7,710.3C299.5,710.3 300.2,711.1 301.0,712.1C301.7,713.0 302.5,715.0 303.3,716.1C304.1,717.2 304.9,718.5 305.7,718.7C306.5,718.9 307.3,718.0 308.0,717.3C308.7,716.6 309.1,715.4 309.7,714.3C310.4,713.3 311.3,712.0 312.1,711.2C312.9,710.4 313.7,709.3 314.4,709.4C315.1,709.6 315.5,710.7 316.1,712.1C316.8,713.4 317.7,716.1 318.4,717.3C319.1,718.6 319.5,719.6 320.2,719.6C320.8,719.6 321.5,718.6 322.3,717.3C323.1,716.1 324.0,713.5 324.9,712.1C325.8,710.6 326.8,708.8 327.5,708.5C328.2,708.3 328.6,709.0 329.3,710.3C329.9,711.6 330.6,714.5 331.4,716.4C332.1,718.3 333.0,720.7 333.6,721.7C334.3,722.6 334.5,722.8 335.1,722.2C335.6,721.6 336.2,719.7 336.8,718.2C337.4,716.6 338.2,714.4 338.9,712.9C339.6,711.4 340.5,709.5 341.2,709.1C341.9,708.6 342.3,709.2 342.9,710.3C343.6,711.4 344.3,714.2 345.0,715.6C345.7,717.0 346.5,718.1 347.1,718.7C347.8,719.3 348.2,719.6 348.9,719.1C349.6,718.5 350.4,717.0 351.2,715.6C351.9,714.1 352.7,711.7 353.4,710.3C354.2,708.9 354.9,707.7 355.5,707.3C356.2,706.9 356.7,707.1 357.3,708.0C357.9,709.0 358.4,711.2 359.1,712.9C359.7,714.6 360.4,716.9 361.2,718.2C361.9,719.4 362.7,720.5 363.4,720.5C364.2,720.5 364.9,719.1 365.7,718.2C366.5,717.2 367.4,715.8 368.2,714.7C368.9,713.5 369.7,712.1 370.4,711.2C371.2,710.2 372.0,709.4 372.7,709.1C373.4,708.8 373.9,708.6 374.5,709.4C375.1,710.2 375.6,712.6 376.2,713.8C376.9,715.0 377.6,716.6 378.3,716.8C379.0,716.9 379.7,715.8 380.4,714.7C381.2,713.6 381.9,711.4 382.7,710.3C383.5,709.2 384.3,708.0 385.0,708.0C385.6,708.0 386.1,708.9 386.7,710.3C387.4,711.7 388.1,714.7 388.8,716.4C389.5,718.2 390.3,720.2 390.9,720.8C391.6,721.5 392.0,721.2 392.7,720.3C393.4,719.4 394.2,717.0 395.0,715.6C395.7,714.1 396.6,712.2 397.2,711.7C397.9,711.2 398.4,711.9 399.0,712.6C399.6,713.2 400.4,714.9 401.1,715.6C401.8,716.3 402.5,717.1 403.2,716.8C403.9,716.5 404.7,714.7 405.5,713.8C406.2,712.9 407.0,711.7 407.8,711.5C408.5,711.4 409.2,712.2 409.9,712.9C410.6,713.7 411.2,715.4 412.0,716.1C412.7,716.7 413.5,717.0 414.2,716.8C415.0,716.5 415.7,715.6 416.5,714.7C417.3,713.7 418.3,711.9 419.0,711.2C419.7,710.4 420.0,709.9 420.7,710.3C421.4,710.7 422.3,712.5 423.0,713.8C423.7,715.1 424.0,716.9 424.7,717.8C425.5,718.7 426.5,719.3 427.4,719.2C428.2,719.1 429.1,718.3 429.9,717.2C430.8,716.0 431.7,713.4 432.5,712.3C433.2,711.2 433.8,710.5 434.5,710.7C435.1,710.9 435.7,712.1 436.4,713.3C437.2,714.4 438.0,717.0 438.8,717.8C439.6,718.6 440.3,718.6 441.2,718.2C442.0,717.8 442.9,716.4 443.7,715.2C444.6,714.1 445.5,712.3 446.3,711.3C447.1,710.3 447.9,709.3 448.6,709.3C449.4,709.3 450.2,710.1 451.0,711.3C451.8,712.4 452.7,714.7 453.6,716.2C454.4,717.7 455.4,719.7 456.1,720.2C456.9,720.6 457.4,720.0 458.1,719.2C458.8,718.3 459.7,716.5 460.5,715.2C461.3,713.9 462.1,712.0 462.8,711.3C463.6,710.5 464.2,710.2 464.8,710.7C465.5,711.2 466.0,713.0 466.8,714.2C467.5,715.5 468.6,717.5 469.3,718.2C470.1,718.9 470.6,719.1 471.3,718.6C472.0,718.1 472.9,716.3 473.7,715.2C474.4,714.1 475.2,712.4 475.8,711.9C476.5,711.3 477.1,711.2 477.8,711.9C478.5,712.5 479.4,714.7 480.2,715.8C481.0,716.9 481.8,718.3 482.5,718.6C483.3,718.8 483.9,718.1 484.5,717.2C485.2,716.3 485.8,714.4 486.5,713.3C487.1,712.1 487.8,710.5 488.5,710.3C489.1,710.1 489.8,711.0 490.4,712.3C491.1,713.5 491.7,716.5 492.4,717.8C493.1,719.1 493.7,720.1 494.4,720.2C495.0,720.2 495.6,719.3 496.3,718.2C497.1,717.0 498.1,714.6 498.9,713.3C499.8,711.9 500.7,710.5 501.5,709.9C502.2,709.3 502.7,709.2 503.4,709.9C504.2,710.6 505.0,712.7 505.8,714.2C506.6,715.8 507.4,718.2 508.2,719.2C508.9,720.2 509.4,720.6 510.1,720.2C510.9,719.7 511.9,717.5 512.7,716.2C513.5,714.9 514.3,713.1 515.1,712.3C515.8,711.4 516.3,711.0 517.0,711.3C517.7,711.6 518.4,713.2 519.2,714.2C520.0,715.3 520.8,717.1 521.6,717.8C522.3,718.4 522.8,718.6 523.5,718.2C524.3,717.8 525.1,716.3 525.9,715.2C526.7,714.2 527.7,712.4 528.5,711.9C529.2,711.4 529.7,711.5 530.4,712.3C531.2,713.0 532.2,715.2 533.0,716.2C533.8,717.3 534.6,718.4 535.4,718.6C536.2,718.7 536.9,718.1 537.7,717.2C538.6,716.3 539.5,714.1 540.3,713.3C541.0,712.4 541.6,711.7 542.3,711.9C542.9,712.0 543.6,713.4 544.2,714.2C544.9,715.1 545.4,716.9 546.2,717.2C547.0,717.5 548.3,716.4 548.8,716.2" fill="none" stroke="#ef6c34" stroke-width="1.9" stroke-linejoin="round" stroke-linecap="round"/>
<text x="550.00" y="712.75" font-size="12.2" text-anchor="start" fill="#000" stroke="#000" stroke-width="0.28" >1.97</text>
<line x1="82.80" y1="743.10" x2="82.80" y2="775.60" stroke="#b0b0b0" stroke-width="1.5" />
<line x1="82.10" y1="774.90" x2="549.80" y2="774.90" stroke="#b0b0b0" stroke-width="1.5" />
<line x1="82.80" y1="774.90" x2="82.80" y2="770.70" stroke="#6e6e6e" stroke-width="0.8" />
<line x1="141.18" y1="774.90" x2="141.18" y2="770.70" stroke="#6e6e6e" stroke-width="0.8" />
<line x1="199.55" y1="774.90" x2="199.55" y2="770.70" stroke="#6e6e6e" stroke-width="0.8" />
<line x1="257.93" y1="774.90" x2="257.93" y2="770.70" stroke="#6e6e6e" stroke-width="0.8" />
<line x1="316.30" y1="774.90" x2="316.30" y2="770.70" stroke="#6e6e6e" stroke-width="0.8" />
<line x1="374.68" y1="774.90" x2="374.68" y2="770.70" stroke="#6e6e6e" stroke-width="0.8" />
<line x1="433.05" y1="774.90" x2="433.05" y2="770.70" stroke="#6e6e6e" stroke-width="0.8" />
<line x1="491.43" y1="774.90" x2="491.43" y2="770.70" stroke="#6e6e6e" stroke-width="0.8" />
<line x1="549.80" y1="774.90" x2="549.80" y2="770.70" stroke="#6e6e6e" stroke-width="0.8" />
<line x1="82.80" y1="750.10" x2="87.80" y2="750.10" stroke="#6e6e6e" stroke-width="0.8" />
<line x1="82.80" y1="757.50" x2="87.80" y2="757.50" stroke="#6e6e6e" stroke-width="0.8" />
<line x1="82.80" y1="765.20" x2="87.80" y2="765.20" stroke="#6e6e6e" stroke-width="0.8" />
<line x1="82.80" y1="773.00" x2="87.80" y2="773.00" stroke="#6e6e6e" stroke-width="0.8" />
<path d="M85.3,756.7C87.2,756.7 94.3,756.4 96.6,756.7C99.0,757.0 98.4,757.5 99.3,758.7C100.1,759.9 101.0,762.5 101.9,763.9C102.8,765.3 103.5,766.3 104.5,766.9C105.5,767.5 106.9,767.3 108.0,767.3C109.2,767.3 110.5,767.3 111.5,766.9C112.6,766.5 113.4,765.4 114.2,765.1C114.9,764.8 115.3,764.8 115.9,765.1C116.5,765.4 117.0,766.3 117.7,766.9C118.3,767.5 119.2,768.5 119.9,768.7C120.7,768.9 121.3,768.8 122.0,768.1C122.8,767.4 123.8,765.4 124.7,764.6C125.5,763.9 126.6,764.0 127.3,763.6C128.0,763.2 128.3,762.7 129.1,762.4C129.8,762.2 130.9,761.9 131.7,762.1C132.4,762.4 132.8,763.0 133.4,763.9C134.1,764.8 135.0,767.0 135.7,767.6C136.4,768.3 137.2,768.1 137.8,767.9C138.5,767.8 139.0,767.1 139.6,766.9C140.1,766.7 140.6,767.0 141.3,766.6C142.0,766.2 143.1,765.3 143.9,764.6C144.8,763.9 145.8,763.0 146.6,762.4C147.3,761.8 147.7,761.0 148.3,761.2C148.9,761.5 149.3,763.1 150.1,763.9C150.8,764.7 152.0,765.9 152.7,766.1C153.4,766.4 153.9,766.3 154.5,765.4C155.0,764.5 155.6,762.1 156.2,760.9C156.8,759.7 157.6,758.5 158.3,758.2C159.0,758.0 159.6,758.3 160.2,759.4C160.9,760.5 161.5,763.0 162.3,764.6C163.1,766.3 164.1,768.1 165.0,769.1C165.8,770.2 166.8,771.0 167.6,771.1C168.4,771.2 169.0,771.1 169.7,769.9C170.4,768.7 171.2,766.0 172.0,763.9C172.8,761.8 173.9,758.5 174.6,757.2C175.3,755.9 175.5,756.0 176.0,756.1C176.5,756.2 176.8,756.5 177.4,757.9C178.0,759.3 178.8,763.0 179.5,764.6C180.2,766.3 180.7,767.5 181.6,768.1C182.5,768.7 184.2,768.7 185.1,768.1C186.0,767.5 186.5,766.1 187.2,764.6C187.9,763.2 188.8,760.5 189.5,759.4C190.2,758.3 190.7,757.9 191.2,757.9C191.8,757.9 192.4,758.4 193.0,759.4C193.6,760.4 194.1,762.7 194.7,763.9C195.4,765.1 196.3,766.4 197.1,766.9C197.9,767.3 198.7,767.3 199.4,766.6C200.1,765.8 200.5,763.8 201.1,762.4C201.7,761.0 202.3,759.0 202.9,758.2C203.5,757.4 204.1,757.3 204.6,757.6C205.2,757.9 205.7,759.0 206.4,760.2C207.1,761.3 207.9,763.8 208.7,764.6C209.4,765.5 210.0,764.9 210.8,765.4C211.6,765.9 212.6,767.2 213.4,767.6C214.2,768.1 214.9,768.6 215.7,768.1C216.4,767.6 217.1,765.8 217.8,764.6C218.5,763.5 219.2,761.9 219.9,761.4C220.5,760.9 221.0,761.2 221.6,761.7C222.3,762.1 223.1,763.2 223.9,763.9C224.7,764.6 225.7,765.6 226.5,766.1C227.4,766.7 228.3,766.9 229.2,767.2C230.0,767.4 231.0,768.2 231.8,767.6C232.6,767.1 233.2,765.2 233.9,763.9C234.6,762.6 235.5,760.5 236.2,759.7C236.8,758.9 237.3,758.8 237.9,759.1C238.5,759.4 239.0,760.9 239.7,761.7C240.3,762.4 241.2,763.4 241.9,763.6C242.7,763.8 243.4,762.5 244.1,762.7C244.8,762.9 245.4,764.0 246.2,764.6C246.9,765.3 247.7,766.2 248.4,766.6C249.2,767.0 250.0,767.1 250.7,766.9C251.4,766.6 252.0,765.6 252.8,765.1C253.6,764.5 254.6,763.7 255.4,763.6C256.3,763.5 257.0,764.3 257.7,764.2C258.4,764.1 258.8,762.7 259.5,762.9C260.1,763.1 260.8,764.5 261.6,765.4C262.4,766.3 263.4,768.0 264.2,768.1C265.0,768.2 265.7,767.0 266.5,766.1C267.2,765.3 267.9,763.7 268.6,763.2C269.3,762.6 269.9,762.6 270.7,762.7C271.4,762.8 272.1,763.3 273.0,763.9C273.8,764.5 274.7,765.5 275.6,766.1C276.5,766.8 277.3,767.5 278.2,767.6C279.1,767.8 280.0,767.1 280.8,766.9C281.7,766.6 282.6,766.5 283.5,766.1C284.3,765.8 285.1,765.1 286.1,764.6C287.1,764.1 288.7,763.0 289.6,763.2C290.5,763.3 291.0,764.6 291.7,765.4C292.4,766.1 293.2,767.2 294.0,767.6C294.8,768.1 295.7,768.2 296.6,768.1C297.5,768.0 298.4,767.0 299.2,766.9C300.1,766.8 301.0,767.9 301.9,767.6C302.7,767.4 303.6,766.1 304.5,765.4C305.4,764.7 306.4,763.7 307.1,763.6C307.8,763.5 308.4,764.2 308.9,764.8C309.3,765.3 309.4,766.4 310.0,766.9C310.6,767.4 311.8,767.6 312.6,767.6C313.5,767.6 314.4,766.9 315.3,766.9C316.1,766.9 317.0,767.7 317.9,767.6C318.8,767.6 319.6,766.5 320.5,766.6C321.4,766.7 322.3,768.3 323.1,768.4C324.0,768.4 324.9,767.5 325.8,766.9C326.6,766.3 327.5,765.4 328.4,764.6C329.3,763.9 330.1,762.8 331.0,762.4C331.9,762.0 332.8,761.7 333.6,762.1C334.5,762.5 335.4,763.7 336.3,764.6C337.2,765.6 338.0,766.9 338.9,767.6C339.8,768.4 340.7,769.3 341.5,769.1C342.4,769.0 343.3,767.5 344.2,766.9C345.0,766.3 345.9,765.7 346.8,765.7C347.7,765.6 348.7,766.8 349.4,766.6C350.1,766.4 350.6,766.3 351.2,764.6C351.8,763.0 352.3,759.0 352.9,756.4C353.5,753.8 354.0,751.0 354.7,748.9C355.3,746.9 356.4,744.4 356.9,744.2C357.5,743.9 357.7,745.8 358.2,747.4C358.7,749.1 359.2,752.3 359.9,754.2C360.7,756.0 361.7,757.3 362.6,758.7C363.4,760.0 364.5,761.4 365.2,762.4C365.9,763.4 366.4,764.5 366.9,764.6C367.5,764.8 368.0,763.5 368.7,763.2C369.4,762.8 370.5,762.3 371.3,762.7C372.1,763.1 372.7,764.3 373.4,765.4C374.1,766.5 374.9,768.4 375.7,769.1C376.5,769.9 377.4,769.9 378.3,769.9C379.2,769.9 380.1,769.6 380.9,769.1C381.8,768.6 382.6,767.4 383.6,766.9C384.6,766.4 386.1,766.4 387.1,766.1C388.1,765.9 388.8,765.4 389.7,765.4C390.6,765.4 391.5,765.6 392.3,766.1C393.2,766.6 394.1,768.0 395.0,768.4C395.8,768.8 396.7,768.7 397.6,768.7C398.5,768.6 399.3,767.9 400.2,768.1C401.1,768.3 402.0,769.7 402.8,769.9C403.7,770.1 404.6,769.4 405.5,769.1C406.4,768.8 407.2,768.1 408.1,768.1C409.0,768.1 409.9,769.1 410.7,769.1C411.6,769.2 412.5,769.0 413.4,768.4C414.2,767.8 415.2,766.4 416.0,765.4C416.8,764.3 417.5,762.7 418.3,762.1C419.0,761.5 419.7,761.4 420.4,761.7C421.1,762.0 421.7,762.8 422.5,763.9C423.2,765.0 424.0,767.3 424.7,768.4C425.5,769.5 426.3,770.2 427.0,770.5C427.7,770.7 428.4,770.5 428.9,769.9C429.5,769.3 429.9,768.0 430.5,766.9C431.2,765.8 432.1,763.7 432.9,763.2C433.7,762.6 434.4,762.9 435.2,763.5C436.1,764.1 436.9,766.1 437.8,766.9C438.7,767.7 439.8,768.1 440.8,768.2C441.8,768.4 442.7,767.7 443.7,767.7C444.7,767.7 445.7,768.8 446.7,768.2C447.7,767.7 448.7,765.2 449.6,764.4C450.6,763.5 451.4,763.1 452.2,763.2C453.0,763.3 453.7,764.5 454.6,764.9C455.4,765.3 456.5,765.1 457.5,765.5C458.5,766.0 459.5,767.5 460.5,767.7C461.5,768.0 462.4,767.3 463.4,766.9C464.4,766.5 465.4,765.3 466.4,765.2C467.4,765.2 468.4,766.1 469.3,766.6C470.3,767.0 471.3,767.1 472.3,767.7C473.3,768.3 474.3,769.8 475.3,770.3C476.2,770.7 477.2,770.7 478.2,770.6C479.2,770.5 480.2,769.8 481.2,769.4C482.2,769.1 483.1,768.6 484.1,768.6C485.1,768.6 486.1,769.6 487.1,769.4C488.1,769.3 489.1,768.5 490.0,767.7C491.0,767.0 492.0,765.4 493.0,764.9C494.0,764.3 495.0,764.3 495.9,764.4C496.9,764.4 497.9,765.3 498.9,765.2C499.9,765.1 500.9,763.9 501.9,763.5C502.8,763.1 503.8,762.5 504.8,762.7C505.8,762.9 506.8,764.1 507.8,764.9C508.8,765.6 509.7,766.8 510.7,767.2C511.7,767.7 512.7,767.8 513.7,767.7C514.7,767.7 515.7,766.8 516.6,766.9C517.6,767.0 518.4,768.1 519.6,768.2C520.7,768.4 522.4,767.6 523.5,767.7C524.7,767.8 525.5,768.5 526.5,768.9C527.5,769.3 528.3,770.1 529.5,770.3C530.6,770.4 532.1,770.1 533.4,769.9C534.7,769.7 536.0,769.0 537.3,768.9C538.6,768.8 540.0,769.5 541.3,769.4C542.6,769.4 544.0,769.0 545.2,768.6C546.5,768.2 548.2,767.2 548.8,766.9" fill="none" stroke="#9c9c9c" stroke-width="1.9" stroke-linejoin="round" stroke-linecap="round"/>
<path d="M85.3,756.4C86.5,756.4 91.2,756.0 92.6,756.4C94.1,756.8 93.5,757.4 94.0,759.0C94.5,760.6 95.2,764.0 95.8,766.0C96.4,768.1 96.9,770.2 97.5,771.3C98.1,772.4 98.7,773.0 99.3,772.7C99.9,772.4 100.4,770.8 101.0,769.5C101.6,768.3 102.2,766.3 102.8,765.2C103.4,764.0 103.8,763.3 104.5,762.9C105.3,762.5 106.3,762.7 107.2,762.9C108.0,763.1 108.9,763.3 109.8,763.9C110.7,764.6 111.6,766.0 112.4,766.9C113.2,767.8 114.0,769.0 114.7,769.5C115.4,770.1 116.1,770.3 116.8,770.1C117.5,769.8 118.2,768.9 118.9,768.1C119.6,767.3 120.4,766.1 121.2,765.2C121.9,764.2 122.7,763.1 123.4,762.5C124.2,761.9 124.8,761.4 125.5,761.6C126.2,761.9 126.9,763.1 127.6,764.3C128.4,765.4 129.2,767.5 129.9,768.7C130.7,769.8 131.3,770.8 132.0,770.9C132.8,771.0 133.6,770.1 134.3,769.2C135.0,768.3 135.7,766.7 136.4,765.7C137.1,764.6 138.0,763.4 138.7,762.9C139.4,762.4 139.8,762.1 140.4,762.5C141.1,762.9 141.9,764.1 142.7,765.2C143.5,766.2 144.4,767.8 145.2,768.7C146.0,769.5 146.6,770.3 147.4,770.4C148.3,770.6 149.2,770.3 150.1,769.5C150.9,768.8 151.8,767.3 152.7,766.0C153.6,764.7 154.5,762.9 155.3,761.6C156.1,760.4 156.8,759.2 157.4,758.7C158.1,758.1 158.6,757.9 159.2,758.5C159.8,759.1 160.4,760.8 160.9,762.5C161.5,764.2 162.1,766.8 162.7,768.7C163.3,770.6 163.9,772.8 164.4,773.9C165.0,775.0 165.3,775.3 165.8,775.1C166.4,775.0 166.9,774.3 167.6,773.0C168.2,771.8 169.0,769.6 169.7,767.8C170.4,766.0 171.2,763.6 172.0,762.2C172.7,760.8 173.4,759.8 174.1,759.4C174.7,759.0 175.2,759.1 175.8,759.9C176.5,760.7 177.3,762.7 178.1,764.3C178.9,765.8 179.9,768.2 180.7,769.2C181.6,770.2 182.6,770.5 183.4,770.4C184.1,770.3 184.7,769.7 185.5,768.7C186.2,767.6 187.0,765.6 187.7,764.3C188.5,763.0 189.2,761.4 189.8,760.8C190.5,760.2 191.0,760.2 191.6,760.8C192.2,761.4 193.0,763.1 193.5,764.3C194.1,765.4 194.5,766.6 195.0,767.8C195.5,768.9 196.2,770.8 196.8,771.3C197.3,771.7 197.9,771.3 198.5,770.4C199.1,769.5 199.6,767.6 200.3,766.0C200.9,764.4 201.7,761.8 202.4,760.8C203.0,759.8 203.5,759.5 204.1,759.9C204.7,760.3 205.2,761.6 205.9,763.4C206.5,765.2 207.4,768.6 208.1,770.4C208.9,772.2 209.8,773.8 210.4,774.4C211.0,775.1 211.1,775.1 211.6,774.4C212.1,773.8 212.7,772.1 213.4,770.4C214.1,768.7 214.9,766.1 215.7,764.3C216.5,762.4 217.3,760.3 218.1,759.4C218.9,758.4 219.7,758.3 220.4,758.7C221.1,759.1 221.5,760.1 222.2,761.6C222.8,763.2 223.7,765.9 224.4,767.8C225.2,769.6 225.9,771.8 226.5,772.7C227.2,773.6 227.7,773.6 228.3,773.0C228.9,772.5 229.4,771.0 230.0,769.5C230.7,768.1 231.5,766.0 232.3,764.3C233.1,762.6 234.2,760.3 234.9,759.4C235.7,758.4 236.4,758.1 237.0,758.7C237.7,759.2 238.2,760.9 238.8,762.5C239.4,764.2 240.2,766.9 240.9,768.7C241.6,770.4 242.5,772.4 243.2,773.0C243.8,773.7 244.3,773.3 244.9,772.7C245.6,772.1 246.4,770.8 247.2,769.5C248.0,768.3 248.8,766.6 249.7,765.2C250.5,763.7 251.6,761.6 252.5,760.8C253.3,759.9 253.9,759.5 254.6,759.9C255.2,760.3 255.7,761.9 256.3,763.4C257.0,764.9 257.7,767.3 258.4,768.7C259.1,770.1 260.0,771.5 260.7,771.8C261.4,772.1 261.8,771.5 262.4,770.4C263.1,769.3 264.0,766.8 264.7,765.2C265.5,763.5 266.2,761.4 266.8,760.4C267.5,759.5 268.0,759.0 268.6,759.4C269.2,759.7 269.7,761.1 270.3,762.5C271.0,764.0 271.7,766.6 272.4,768.1C273.2,769.7 274.0,771.2 274.7,771.8C275.4,772.4 275.8,772.3 276.5,771.6C277.1,771.0 277.9,769.3 278.7,767.8C279.5,766.3 280.4,763.8 281.2,762.5C282.0,761.3 282.8,760.4 283.5,760.2C284.1,760.1 284.5,760.5 285.2,761.6C285.9,762.8 286.8,765.4 287.5,766.9C288.2,768.5 289.0,770.4 289.6,770.9C290.2,771.5 290.7,771.1 291.4,770.4C292.0,769.7 292.6,768.1 293.5,766.9C294.3,765.7 295.4,764.3 296.3,763.4C297.1,762.5 297.9,761.6 298.7,761.6C299.5,761.6 300.2,762.4 301.0,763.4C301.7,764.4 302.5,766.3 303.3,767.4C304.1,768.5 304.9,769.9 305.7,770.1C306.5,770.3 307.3,769.4 308.0,768.7C308.7,767.9 309.1,766.7 309.7,765.7C310.4,764.7 311.3,763.3 312.1,762.5C312.9,761.7 313.7,760.6 314.4,760.8C315.1,760.9 315.5,762.1 316.1,763.4C316.8,764.7 317.7,767.4 318.4,768.7C319.1,769.9 319.5,770.9 320.2,770.9C320.8,770.9 321.5,769.9 322.3,768.7C323.1,767.4 324.0,764.9 324.9,763.4C325.8,761.9 326.8,760.2 327.5,759.9C328.2,759.6 328.6,760.3 329.3,761.6C329.9,763.0 330.6,765.9 331.4,767.8C332.1,769.7 333.0,772.1 333.6,773.0C334.3,774.0 334.5,774.1 335.1,773.6C335.6,773.0 336.2,771.1 336.8,769.5C337.4,768.0 338.2,765.8 338.9,764.3C339.6,762.8 340.5,760.9 341.2,760.4C341.9,760.0 342.3,760.6 342.9,761.6C343.6,762.7 344.3,765.5 345.0,766.9C345.7,768.3 346.5,769.5 347.1,770.1C347.8,770.6 348.2,770.9 348.9,770.4C349.6,769.9 350.4,768.4 351.2,766.9C351.9,765.4 352.7,763.0 353.4,761.6C354.2,760.3 354.9,759.1 355.5,758.7C356.2,758.3 356.7,758.4 357.3,759.4C357.9,760.3 358.4,762.6 359.1,764.3C359.7,766.0 360.4,768.3 361.2,769.5C361.9,770.8 362.7,771.8 363.4,771.8C364.2,771.8 364.9,770.5 365.7,769.5C366.5,768.6 367.4,767.2 368.2,766.0C368.9,764.9 369.7,763.5 370.4,762.5C371.2,761.6 372.0,760.7 372.7,760.4C373.4,760.1 373.9,760.0 374.5,760.8C375.1,761.6 375.6,763.9 376.2,765.2C376.9,766.4 377.6,768.0 378.3,768.1C379.0,768.3 379.7,767.1 380.4,766.0C381.2,764.9 381.9,762.8 382.7,761.6C383.5,760.5 384.3,759.4 385.0,759.4C385.6,759.4 386.1,760.2 386.7,761.6C387.4,763.1 388.1,766.0 388.8,767.8C389.5,769.5 390.3,771.5 390.9,772.2C391.6,772.8 392.0,772.5 392.7,771.6C393.4,770.8 394.2,768.3 395.0,766.9C395.7,765.5 396.6,763.5 397.2,763.1C397.9,762.6 398.4,763.3 399.0,763.9C399.6,764.6 400.4,766.2 401.1,766.9C401.8,767.6 402.5,768.4 403.2,768.1C403.9,767.8 404.7,766.0 405.5,765.2C406.2,764.3 407.0,763.0 407.8,762.9C408.5,762.7 409.2,763.5 409.9,764.3C410.6,765.0 411.2,766.8 412.0,767.4C412.7,768.1 413.5,768.4 414.2,768.1C415.0,767.9 415.7,767.0 416.5,766.0C417.3,765.1 418.3,763.3 419.0,762.5C419.7,761.8 420.0,761.2 420.7,761.6C421.4,762.1 422.3,763.9 423.0,765.2C423.7,766.4 424.0,768.3 424.7,769.2C425.5,770.1 426.5,770.6 427.4,770.5C428.2,770.4 429.1,769.7 429.9,768.5C430.8,767.4 431.7,764.7 432.5,763.6C433.2,762.5 433.8,761.9 434.5,762.0C435.1,762.2 435.7,763.4 436.4,764.6C437.2,765.8 438.0,768.3 438.8,769.1C439.6,770.0 440.3,770.0 441.2,769.5C442.0,769.1 442.9,767.7 443.7,766.6C444.6,765.4 445.5,763.6 446.3,762.6C447.1,761.6 447.9,760.7 448.6,760.7C449.4,760.7 450.2,761.5 451.0,762.6C451.8,763.8 452.7,766.1 453.6,767.6C454.4,769.0 455.4,771.0 456.1,771.5C456.9,772.0 457.4,771.3 458.1,770.5C458.8,769.7 459.7,767.9 460.5,766.6C461.3,765.3 462.1,763.4 462.8,762.6C463.6,761.9 464.2,761.6 464.8,762.0C465.5,762.5 466.0,764.3 466.8,765.6C467.5,766.8 468.6,768.8 469.3,769.5C470.1,770.3 470.6,770.4 471.3,769.9C472.0,769.4 472.9,767.7 473.7,766.6C474.4,765.5 475.2,763.8 475.8,763.2C476.5,762.7 477.1,762.6 477.8,763.2C478.5,763.9 479.4,766.1 480.2,767.2C481.0,768.3 481.8,769.7 482.5,769.9C483.3,770.2 483.9,769.4 484.5,768.5C485.2,767.7 485.8,765.8 486.5,764.6C487.1,763.5 487.8,761.8 488.5,761.6C489.1,761.5 489.8,762.4 490.4,763.6C491.1,764.9 491.7,767.8 492.4,769.1C493.1,770.5 493.7,771.4 494.4,771.5C495.0,771.6 495.6,770.7 496.3,769.5C497.1,768.4 498.1,766.0 498.9,764.6C499.8,763.2 500.7,761.8 501.5,761.3C502.2,760.7 502.7,760.5 503.4,761.3C504.2,762.0 505.0,764.0 505.8,765.6C506.6,767.1 507.4,769.5 508.2,770.5C508.9,771.5 509.4,772.0 510.1,771.5C510.9,771.0 511.9,768.9 512.7,767.6C513.5,766.2 514.3,764.4 515.1,763.6C515.8,762.8 516.3,762.3 517.0,762.6C517.7,763.0 518.4,764.5 519.2,765.6C520.0,766.7 520.8,768.5 521.6,769.1C522.3,769.8 522.8,770.0 523.5,769.5C524.3,769.1 525.1,767.6 525.9,766.6C526.7,765.5 527.7,763.7 528.5,763.2C529.2,762.7 529.7,762.9 530.4,763.6C531.2,764.3 532.2,766.5 533.0,767.6C533.8,768.6 534.6,769.8 535.4,769.9C536.2,770.1 536.9,769.4 537.7,768.5C538.6,767.7 539.5,765.5 540.3,764.6C541.0,763.7 541.6,763.1 542.3,763.2C542.9,763.4 543.6,764.7 544.2,765.6C544.9,766.5 545.4,768.2 546.2,768.5C547.0,768.9 548.3,767.7 548.8,767.6" fill="none" stroke="#ef6c34" stroke-width="1.9" stroke-linejoin="round" stroke-linecap="round"/>
<text x="550.00" y="764.10" font-size="12.2" text-anchor="start" fill="#000" stroke="#000" stroke-width="0.28" >7.00</text>
<text x="82.80" y="792.40" font-size="12.2" text-anchor="middle" fill="#000" stroke="#000" stroke-width="0.28" >0</text>
<text x="141.18" y="792.40" font-size="12.2" text-anchor="middle" fill="#000" stroke="#000" stroke-width="0.28" >50</text>
<text x="199.55" y="792.40" font-size="12.2" text-anchor="middle" fill="#000" stroke="#000" stroke-width="0.28" >100</text>
<text x="257.93" y="792.40" font-size="12.2" text-anchor="middle" fill="#000" stroke="#000" stroke-width="0.28" >150</text>
<text x="316.30" y="792.40" font-size="12.2" text-anchor="middle" fill="#000" stroke="#000" stroke-width="0.28" >200</text>
<text x="374.68" y="792.40" font-size="12.2" text-anchor="middle" fill="#000" stroke="#000" stroke-width="0.28" >250</text>
<text x="433.05" y="792.40" font-size="12.2" text-anchor="middle" fill="#000" stroke="#000" stroke-width="0.28" >300</text>
<text x="491.43" y="792.40" font-size="12.2" text-anchor="middle" fill="#000" stroke="#000" stroke-width="0.28" >350</text>
<text x="549.80" y="792.40" font-size="12.2" text-anchor="middle" fill="#000" stroke="#000" stroke-width="0.28" >400</text>
<text x="316.50" y="807.10" font-size="12.2" text-anchor="middle" fill="#000" stroke="#000" stroke-width="0.28" >time, s</text>
<text x="54.40" y="604.50" font-size="13.9" text-anchor="middle" fill="#000" stroke="#000" stroke-width="0.28" transform="rotate(-90 54.40 604.50)" >HBS</text>
<rect x="437.3" y="417.5" width="100.9" height="33" fill="#fff" stroke="#666" stroke-width="0.8"/>
<line x1="440.80" y1="426.60" x2="467.60" y2="426.60" stroke="#9c9c9c" stroke-width="1.9" />
<line x1="440.80" y1="442.10" x2="467.60" y2="442.10" stroke="#ef6c34" stroke-width="1.9" />
<text x="470.30" y="430.80" font-size="12.5" text-anchor="start" fill="#000" stroke="#000" stroke-width="0.28" >Actual HBS</text>
<text x="470.30" y="446.60" font-size="12.5" text-anchor="start" fill="#000" stroke="#000" stroke-width="0.28" >Fitted HBS</text>
<path d="M584.6,451.1 H589.6 Q591.1,451.1 591.1,452.6 V762.5 Q591.1,764 589.6,764 H584.6 M591.1,607.6 H597" fill="none" stroke="#4a4a4a" stroke-width="1"/>
<text x="607.6" y="611.8" font-size="13.5" fill="#000" stroke="#000" stroke-width="0.28">c<tspan font-size="9.5" dy="2.5">2</tspan><tspan dy="-2.5"> values</tspan></text>
</svg>
</body></html>
